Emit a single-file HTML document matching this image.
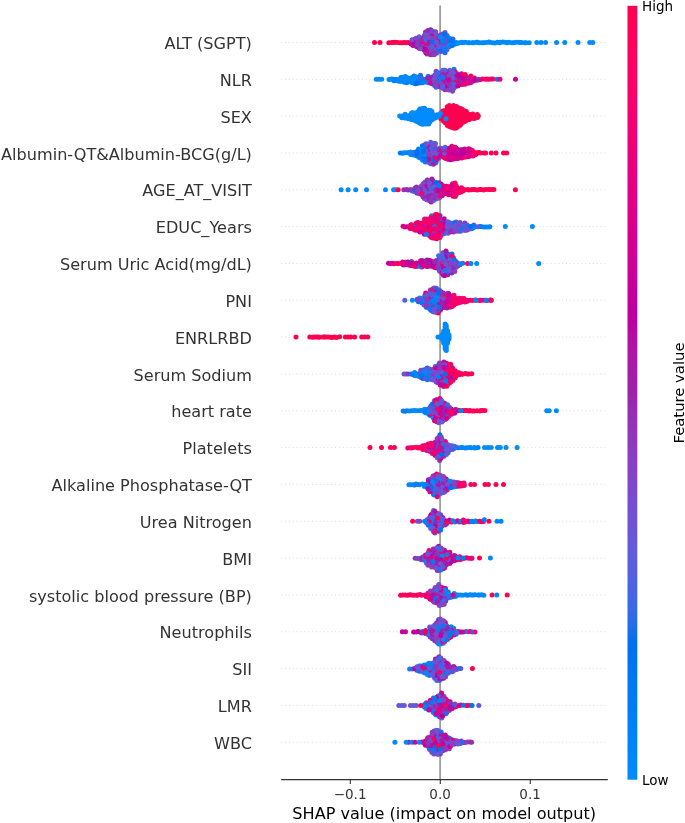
<!DOCTYPE html>
<html><head><meta charset="utf-8"><title>SHAP summary plot</title>
<style>
html,body{margin:0;padding:0;background:#fff}
svg{display:block}
text{font-family:"DejaVu Sans","Liberation Sans",sans-serif}
circle{r:2.5px}
.yl text{font-size:16.1px;fill:#333;text-anchor:end}
.xt text{font-size:13.5px;fill:#333;text-anchor:middle}
.grid line{stroke:#ccc;stroke-width:.7;stroke-dasharray:1 2.848}
</style></head><body>
<svg width="685" height="823" viewBox="0 0 685 823">
<defs><filter id="bl" x="-5%" y="-5%" width="110%" height="110%"><feGaussianBlur stdDeviation="0.35"/></filter><linearGradient id="cb" x1="0" y1="0" x2="0" y2="1"><stop offset="0.000" stop-color="#ff0051"/><stop offset="0.025" stop-color="#ff0057"/><stop offset="0.050" stop-color="#fe005c"/><stop offset="0.075" stop-color="#fc0062"/><stop offset="0.100" stop-color="#f90067"/><stop offset="0.125" stop-color="#f5006d"/><stop offset="0.150" stop-color="#f20072"/><stop offset="0.175" stop-color="#ee0077"/><stop offset="0.200" stop-color="#e9007c"/><stop offset="0.225" stop-color="#e50081"/><stop offset="0.250" stop-color="#e00086"/><stop offset="0.275" stop-color="#db008b"/><stop offset="0.300" stop-color="#d5008f"/><stop offset="0.325" stop-color="#cf0094"/><stop offset="0.350" stop-color="#c90098"/><stop offset="0.375" stop-color="#c2009c"/><stop offset="0.400" stop-color="#bb00a0"/><stop offset="0.425" stop-color="#b40ca4"/><stop offset="0.450" stop-color="#ac16a7"/><stop offset="0.475" stop-color="#a41daa"/><stop offset="0.500" stop-color="#9b23ad"/><stop offset="0.525" stop-color="#962db4"/><stop offset="0.550" stop-color="#9135ba"/><stop offset="0.575" stop-color="#8b3cc0"/><stop offset="0.600" stop-color="#8443c6"/><stop offset="0.625" stop-color="#7d49cc"/><stop offset="0.650" stop-color="#754fd1"/><stop offset="0.675" stop-color="#6d54d6"/><stop offset="0.700" stop-color="#635adb"/><stop offset="0.725" stop-color="#585edf"/><stop offset="0.750" stop-color="#4b63e3"/><stop offset="0.775" stop-color="#3b68e7"/><stop offset="0.800" stop-color="#246cea"/><stop offset="0.825" stop-color="#0070ee"/><stop offset="0.850" stop-color="#0075f0"/><stop offset="0.875" stop-color="#0079f3"/><stop offset="0.900" stop-color="#007cf5"/><stop offset="0.925" stop-color="#0080f7"/><stop offset="0.950" stop-color="#0084f9"/><stop offset="0.975" stop-color="#0087fa"/><stop offset="1.000" stop-color="#008bfb"/></linearGradient></defs>
<rect width="685" height="823" fill="#fff"/>
<g class="grid"><line x1="281.2" x2="607.8" y1="42.50" y2="42.50"/><line x1="281.2" x2="607.8" y1="79.33" y2="79.33"/><line x1="281.2" x2="607.8" y1="116.16" y2="116.16"/><line x1="281.2" x2="607.8" y1="152.99" y2="152.99"/><line x1="281.2" x2="607.8" y1="189.82" y2="189.82"/><line x1="281.2" x2="607.8" y1="226.65" y2="226.65"/><line x1="281.2" x2="607.8" y1="263.48" y2="263.48"/><line x1="281.2" x2="607.8" y1="300.31" y2="300.31"/><line x1="281.2" x2="607.8" y1="337.14" y2="337.14"/><line x1="281.2" x2="607.8" y1="373.97" y2="373.97"/><line x1="281.2" x2="607.8" y1="410.80" y2="410.80"/><line x1="281.2" x2="607.8" y1="447.63" y2="447.63"/><line x1="281.2" x2="607.8" y1="484.46" y2="484.46"/><line x1="281.2" x2="607.8" y1="521.29" y2="521.29"/><line x1="281.2" x2="607.8" y1="558.12" y2="558.12"/><line x1="281.2" x2="607.8" y1="594.95" y2="594.95"/><line x1="281.2" x2="607.8" y1="631.78" y2="631.78"/><line x1="281.2" x2="607.8" y1="668.61" y2="668.61"/><line x1="281.2" x2="607.8" y1="705.44" y2="705.44"/><line x1="281.2" x2="607.8" y1="742.27" y2="742.27"/></g>
<line x1="440.1" x2="440.1" y1="5.6" y2="779.7" stroke="#999" stroke-width="1.7"/>
<g class="dots" filter="url(#bl)">
<circle cx="454.3" cy="42.8" r="2.5" fill="#008bfb"/><circle cx="442.0" cy="45.6" r="2.5" fill="#ff0051"/><circle cx="437.3" cy="39.4" r="2.5" fill="#8b3cc0"/><circle cx="457.3" cy="43.5" r="2.5" fill="#008bfb"/><circle cx="435.6" cy="45.8" r="2.5" fill="#0080f7"/><circle cx="497.4" cy="42.2" r="2.5" fill="#008bfb"/><circle cx="422.7" cy="44.3" r="2.5" fill="#754fd1"/><circle cx="444.4" cy="51.1" r="2.5" fill="#8b3cc0"/><circle cx="417.2" cy="47.0" r="2.5" fill="#c90098"/><circle cx="433.0" cy="37.4" r="2.5" fill="#7d49cc"/><circle cx="444.5" cy="36.0" r="2.5" fill="#0070ee"/><circle cx="448.5" cy="44.0" r="2.5" fill="#0075f0"/><circle cx="450.0" cy="46.3" r="2.5" fill="#0087fa"/><circle cx="426.9" cy="54.0" r="2.5" fill="#8443c6"/><circle cx="444.4" cy="41.0" r="2.5" fill="#7d49cc"/><circle cx="441.6" cy="47.6" r="2.5" fill="#0070ee"/><circle cx="419.4" cy="41.0" r="2.5" fill="#a41daa"/><circle cx="420.3" cy="42.4" r="2.5" fill="#962db4"/><circle cx="441.9" cy="35.8" r="2.5" fill="#0080f7"/><circle cx="437.2" cy="36.3" r="2.5" fill="#0084f9"/><circle cx="391.7" cy="42.5" r="2.5" fill="#ff0051"/><circle cx="445.0" cy="32.5" r="2.5" fill="#6d54d6"/><circle cx="425.8" cy="42.6" r="2.5" fill="#7d49cc"/><circle cx="432.3" cy="39.0" r="2.5" fill="#4b63e3"/><circle cx="515.9" cy="42.3" r="2.5" fill="#008bfb"/><circle cx="444.0" cy="45.9" r="2.5" fill="#4b63e3"/><circle cx="425.5" cy="45.7" r="2.5" fill="#7d49cc"/><circle cx="472.4" cy="42.8" r="2.5" fill="#008bfb"/><circle cx="446.8" cy="42.7" r="2.5" fill="#0084f9"/><circle cx="500.5" cy="42.3" r="2.5" fill="#008bfb"/><circle cx="435.7" cy="31.8" r="2.5" fill="#7d49cc"/><circle cx="436.4" cy="35.0" r="2.5" fill="#c90098"/><circle cx="423.5" cy="37.0" r="2.5" fill="#754fd1"/><circle cx="442.5" cy="34.1" r="2.5" fill="#635adb"/><circle cx="521.4" cy="42.6" r="2.5" fill="#008bfb"/><circle cx="435.7" cy="44.0" r="2.5" fill="#3b68e7"/><circle cx="435.7" cy="38.6" r="2.5" fill="#3b68e7"/><circle cx="434.3" cy="51.3" r="2.5" fill="#bb00a0"/><circle cx="430.0" cy="46.2" r="2.5" fill="#8443c6"/><circle cx="483.6" cy="42.7" r="2.5" fill="#008bfb"/><circle cx="448.5" cy="42.7" r="2.5" fill="#635adb"/><circle cx="419.6" cy="38.6" r="2.5" fill="#8443c6"/><circle cx="505.5" cy="42.3" r="2.5" fill="#008bfb"/><circle cx="447.0" cy="48.0" r="2.5" fill="#4b63e3"/><circle cx="400.1" cy="42.8" r="2.5" fill="#ff0051"/><circle cx="439.8" cy="47.9" r="2.5" fill="#0080f7"/><circle cx="433.7" cy="49.3" r="2.5" fill="#585edf"/><circle cx="414.7" cy="42.8" r="2.5" fill="#db008b"/><circle cx="434.5" cy="42.8" r="2.5" fill="#6d54d6"/><circle cx="438.2" cy="37.9" r="2.5" fill="#0080f7"/><circle cx="428.7" cy="37.2" r="2.5" fill="#754fd1"/><circle cx="465.4" cy="42.3" r="2.5" fill="#008bfb"/><circle cx="420.3" cy="38.3" r="2.5" fill="#8443c6"/><circle cx="445.6" cy="44.5" r="2.5" fill="#0084f9"/><circle cx="453.0" cy="39.0" r="2.5" fill="#4b63e3"/><circle cx="440.2" cy="44.1" r="2.5" fill="#8443c6"/><circle cx="444.9" cy="39.2" r="2.5" fill="#0070ee"/><circle cx="450.1" cy="42.3" r="2.5" fill="#0075f0"/><circle cx="422.7" cy="41.0" r="2.5" fill="#635adb"/><circle cx="444.2" cy="37.7" r="2.5" fill="#3b68e7"/><circle cx="440.7" cy="40.8" r="2.5" fill="#008bfb"/><circle cx="441.4" cy="44.5" r="2.5" fill="#4b63e3"/><circle cx="476.3" cy="42.3" r="2.5" fill="#008bfb"/><circle cx="430.3" cy="54.4" r="2.5" fill="#7d49cc"/><circle cx="426.7" cy="32.8" r="2.5" fill="#cf0094"/><circle cx="439.9" cy="49.5" r="2.5" fill="#0080f7"/><circle cx="406.1" cy="42.8" r="2.5" fill="#ff0051"/><circle cx="518.7" cy="42.3" r="2.5" fill="#008bfb"/><circle cx="448.6" cy="38.9" r="2.5" fill="#4b63e3"/><circle cx="442.1" cy="51.2" r="2.5" fill="#8443c6"/><circle cx="431.9" cy="35.3" r="2.5" fill="#7d49cc"/><circle cx="421.0" cy="44.2" r="2.5" fill="#8b3cc0"/><circle cx="435.0" cy="40.3" r="2.5" fill="#9135ba"/><circle cx="447.1" cy="46.5" r="2.5" fill="#7d49cc"/><circle cx="446.0" cy="36.6" r="2.5" fill="#6d54d6"/><circle cx="511.9" cy="42.7" r="2.5" fill="#008bfb"/><circle cx="425.5" cy="32.1" r="2.5" fill="#962db4"/><circle cx="425.2" cy="37.7" r="2.5" fill="#635adb"/><circle cx="429.7" cy="33.8" r="2.5" fill="#6d54d6"/><circle cx="425.9" cy="52.7" r="2.5" fill="#cf0094"/><circle cx="419.1" cy="36.8" r="2.5" fill="#585edf"/><circle cx="427.4" cy="35.8" r="2.5" fill="#8b3cc0"/><circle cx="430.1" cy="51.1" r="2.5" fill="#8b3cc0"/><circle cx="481.9" cy="42.8" r="2.5" fill="#008bfb"/><circle cx="473.4" cy="42.7" r="2.5" fill="#008bfb"/><circle cx="433.8" cy="44.2" r="2.5" fill="#635adb"/><circle cx="429.2" cy="53.3" r="2.5" fill="#bb00a0"/><circle cx="429.1" cy="32.0" r="2.5" fill="#0079f3"/><circle cx="462.8" cy="42.7" r="2.5" fill="#008bfb"/><circle cx="436.6" cy="53.2" r="2.5" fill="#0080f7"/><circle cx="429.1" cy="41.0" r="2.5" fill="#4b63e3"/><circle cx="433.7" cy="47.8" r="2.5" fill="#ac16a7"/><circle cx="448.6" cy="41.1" r="2.5" fill="#246cea"/><circle cx="433.3" cy="31.6" r="2.5" fill="#7d49cc"/><circle cx="428.1" cy="52.4" r="2.5" fill="#e9007c"/><circle cx="431.4" cy="53.2" r="2.5" fill="#8443c6"/><circle cx="443.6" cy="44.2" r="2.5" fill="#8443c6"/><circle cx="414.5" cy="40.7" r="2.5" fill="#fe005c"/><circle cx="416.2" cy="40.3" r="2.5" fill="#9135ba"/><circle cx="421.7" cy="46.6" r="2.5" fill="#bb00a0"/><circle cx="453.1" cy="43.8" r="2.5" fill="#0075f0"/><circle cx="423.2" cy="42.5" r="2.5" fill="#c90098"/><circle cx="431.4" cy="36.9" r="2.5" fill="#8b3cc0"/><circle cx="430.0" cy="44.4" r="2.5" fill="#ee0077"/><circle cx="429.3" cy="47.7" r="2.5" fill="#4b63e3"/><circle cx="432.3" cy="41.0" r="2.5" fill="#8b3cc0"/><circle cx="426.9" cy="42.7" r="2.5" fill="#9135ba"/><circle cx="499.5" cy="42.8" r="2.5" fill="#008bfb"/><circle cx="423.0" cy="38.9" r="2.5" fill="#e00086"/><circle cx="436.6" cy="36.9" r="2.5" fill="#9135ba"/><circle cx="404.2" cy="42.4" r="2.5" fill="#ff0051"/><circle cx="494.8" cy="42.9" r="2.5" fill="#008bfb"/><circle cx="414.8" cy="39.2" r="2.5" fill="#b40ca4"/><circle cx="489.8" cy="42.2" r="2.5" fill="#008bfb"/><circle cx="509.0" cy="42.2" r="2.5" fill="#008bfb"/><circle cx="425.2" cy="40.7" r="2.5" fill="#a41daa"/><circle cx="402.2" cy="42.7" r="2.5" fill="#ff0051"/><circle cx="426.9" cy="45.5" r="2.5" fill="#3b68e7"/><circle cx="435.2" cy="48.2" r="2.5" fill="#8443c6"/><circle cx="433.2" cy="38.9" r="2.5" fill="#3b68e7"/><circle cx="447.1" cy="35.4" r="2.5" fill="#3b68e7"/><circle cx="429.2" cy="35.5" r="2.5" fill="#8443c6"/><circle cx="479.3" cy="42.7" r="2.5" fill="#008bfb"/><circle cx="388.8" cy="42.7" r="2.5" fill="#ff0051"/><circle cx="437.6" cy="44.3" r="2.5" fill="#6d54d6"/><circle cx="440.0" cy="42.8" r="2.5" fill="#ff0051"/><circle cx="437.2" cy="45.8" r="2.5" fill="#962db4"/><circle cx="436.4" cy="51.8" r="2.5" fill="#635adb"/><circle cx="448.4" cy="47.1" r="2.5" fill="#3b68e7"/><circle cx="428.1" cy="44.2" r="2.5" fill="#ac16a7"/><circle cx="440.6" cy="35.0" r="2.5" fill="#8b3cc0"/><circle cx="433.4" cy="40.8" r="2.5" fill="#8b3cc0"/><circle cx="424.6" cy="35.7" r="2.5" fill="#9135ba"/><circle cx="438.6" cy="50.7" r="2.5" fill="#0079f3"/><circle cx="433.1" cy="46.2" r="2.5" fill="#c2009c"/><circle cx="440.5" cy="51.6" r="2.5" fill="#7d49cc"/><circle cx="454.5" cy="44.3" r="2.5" fill="#0084f9"/><circle cx="429.0" cy="49.6" r="2.5" fill="#246cea"/><circle cx="444.3" cy="42.3" r="2.5" fill="#585edf"/><circle cx="427.2" cy="49.4" r="2.5" fill="#6d54d6"/><circle cx="459.3" cy="42.7" r="2.5" fill="#008bfb"/><circle cx="442.2" cy="49.5" r="2.5" fill="#0070ee"/><circle cx="425.0" cy="34.3" r="2.5" fill="#7d49cc"/><circle cx="442.4" cy="37.1" r="2.5" fill="#4b63e3"/><circle cx="427.0" cy="51.0" r="2.5" fill="#ac16a7"/><circle cx="410.5" cy="42.7" r="2.5" fill="#e9007c"/><circle cx="429.1" cy="38.8" r="2.5" fill="#8b3cc0"/><circle cx="419.5" cy="46.5" r="2.5" fill="#7d49cc"/><circle cx="486.0" cy="42.4" r="2.5" fill="#008bfb"/><circle cx="424.7" cy="39.3" r="2.5" fill="#4b63e3"/><circle cx="430.9" cy="29.7" r="2.5" fill="#007cf5"/><circle cx="424.9" cy="44.3" r="2.5" fill="#f90067"/><circle cx="421.2" cy="40.8" r="2.5" fill="#962db4"/><circle cx="446.6" cy="38.6" r="2.5" fill="#246cea"/><circle cx="449.9" cy="38.5" r="2.5" fill="#007cf5"/><circle cx="446.9" cy="49.7" r="2.5" fill="#585edf"/><circle cx="423.9" cy="49.9" r="2.5" fill="#ac16a7"/><circle cx="422.8" cy="46.3" r="2.5" fill="#8443c6"/><circle cx="436.4" cy="49.5" r="2.5" fill="#635adb"/><circle cx="525.9" cy="42.8" r="2.5" fill="#008bfb"/><circle cx="440.6" cy="39.2" r="2.5" fill="#4b63e3"/><circle cx="468.2" cy="42.7" r="2.5" fill="#008bfb"/><circle cx="445.0" cy="52.7" r="2.5" fill="#246cea"/><circle cx="395.1" cy="42.3" r="2.5" fill="#ff0051"/><circle cx="442.8" cy="42.3" r="2.5" fill="#0075f0"/><circle cx="431.4" cy="51.2" r="2.5" fill="#9135ba"/><circle cx="414.2" cy="45.7" r="2.5" fill="#fc0062"/><circle cx="492.5" cy="42.8" r="2.5" fill="#008bfb"/><circle cx="431.6" cy="44.3" r="2.5" fill="#635adb"/><circle cx="419.3" cy="48.2" r="2.5" fill="#ac16a7"/><circle cx="439.5" cy="45.8" r="2.5" fill="#0080f7"/><circle cx="412.5" cy="42.1" r="2.5" fill="#cf0094"/><circle cx="443.9" cy="47.7" r="2.5" fill="#635adb"/><circle cx="507.1" cy="42.8" r="2.5" fill="#008bfb"/><circle cx="393.3" cy="42.5" r="2.5" fill="#ff0051"/><circle cx="529.2" cy="42.7" r="2.5" fill="#008bfb"/><circle cx="423.9" cy="48.2" r="2.5" fill="#ac16a7"/><circle cx="438.5" cy="48.8" r="2.5" fill="#0070ee"/><circle cx="469.4" cy="42.8" r="2.5" fill="#008bfb"/><circle cx="450.6" cy="44.7" r="2.5" fill="#007cf5"/><circle cx="437.2" cy="42.5" r="2.5" fill="#3b68e7"/><circle cx="413.0" cy="45.5" r="2.5" fill="#a41daa"/><circle cx="438.4" cy="41.2" r="2.5" fill="#e9007c"/><circle cx="442.2" cy="38.9" r="2.5" fill="#0084f9"/><circle cx="427.4" cy="33.8" r="2.5" fill="#6d54d6"/><circle cx="425.4" cy="51.4" r="2.5" fill="#962db4"/><circle cx="431.4" cy="48.2" r="2.5" fill="#7d49cc"/><circle cx="524.6" cy="42.7" r="2.5" fill="#008bfb"/><circle cx="449.2" cy="45.6" r="2.5" fill="#008bfb"/><circle cx="414.5" cy="44.1" r="2.5" fill="#bb00a0"/><circle cx="452.2" cy="45.6" r="2.5" fill="#0070ee"/><circle cx="440.5" cy="36.9" r="2.5" fill="#008bfb"/><circle cx="408.1" cy="42.5" r="2.5" fill="#ff0051"/><circle cx="452.4" cy="42.4" r="2.5" fill="#008bfb"/><circle cx="425.5" cy="47.5" r="2.5" fill="#b40ca4"/><circle cx="427.8" cy="39.5" r="2.5" fill="#635adb"/><circle cx="444.6" cy="33.9" r="2.5" fill="#0070ee"/><circle cx="513.7" cy="42.8" r="2.5" fill="#008bfb"/><circle cx="420.3" cy="48.7" r="2.5" fill="#754fd1"/><circle cx="433.5" cy="35.7" r="2.5" fill="#8b3cc0"/><circle cx="427.8" cy="30.5" r="2.5" fill="#962db4"/><circle cx="419.7" cy="42.2" r="2.5" fill="#962db4"/><circle cx="426.8" cy="40.5" r="2.5" fill="#635adb"/><circle cx="426.6" cy="47.9" r="2.5" fill="#7d49cc"/><circle cx="502.9" cy="42.1" r="2.5" fill="#008bfb"/><circle cx="430.9" cy="54.8" r="2.5" fill="#962db4"/><circle cx="434.4" cy="53.2" r="2.5" fill="#962db4"/><circle cx="416.1" cy="38.2" r="2.5" fill="#7d49cc"/><circle cx="488.9" cy="42.1" r="2.5" fill="#008bfb"/><circle cx="451.3" cy="40.5" r="2.5" fill="#0070ee"/><circle cx="397.5" cy="42.5" r="2.5" fill="#ff0051"/><circle cx="456.4" cy="42.5" r="2.5" fill="#008bfb"/><circle cx="452.6" cy="41.1" r="2.5" fill="#0079f3"/><circle cx="431.2" cy="49.7" r="2.5" fill="#8443c6"/><circle cx="430.1" cy="30.1" r="2.5" fill="#9b23ad"/><circle cx="429.0" cy="42.5" r="2.5" fill="#a41daa"/><circle cx="432.4" cy="42.3" r="2.5" fill="#0070ee"/><circle cx="431.9" cy="33.6" r="2.5" fill="#9b23ad"/><circle cx="433.4" cy="33.2" r="2.5" fill="#cf0094"/><circle cx="444.1" cy="48.9" r="2.5" fill="#0080f7"/><circle cx="438.5" cy="46.9" r="2.5" fill="#754fd1"/><circle cx="431.4" cy="31.5" r="2.5" fill="#8443c6"/><circle cx="428.0" cy="37.8" r="2.5" fill="#754fd1"/><circle cx="445.6" cy="41.0" r="2.5" fill="#8443c6"/><circle cx="410.9" cy="43.9" r="2.5" fill="#b40ca4"/><circle cx="435.8" cy="33.4" r="2.5" fill="#6d54d6"/><circle cx="425.4" cy="49.3" r="2.5" fill="#c2009c"/><circle cx="432.3" cy="46.4" r="2.5" fill="#635adb"/><circle cx="519.9" cy="42.6" r="2.5" fill="#008bfb"/><circle cx="461.8" cy="42.3" r="2.5" fill="#008bfb"/><circle cx="419.2" cy="44.0" r="2.5" fill="#a41daa"/><circle cx="412.0" cy="39.7" r="2.5" fill="#6d54d6"/><circle cx="436.5" cy="42.2" r="2.5" fill="#635adb"/><circle cx="434.1" cy="54.8" r="2.5" fill="#8b3cc0"/><circle cx="477.5" cy="42.3" r="2.5" fill="#008bfb"/><circle cx="417.2" cy="44.3" r="2.5" fill="#3b68e7"/><circle cx="417.4" cy="42.9" r="2.5" fill="#9135ba"/><circle cx="442.7" cy="40.7" r="2.5" fill="#0080f7"/><circle cx="374.5" cy="42.5" r="2.5" fill="#ff0051"/><circle cx="380.0" cy="42.5" r="2.5" fill="#ff0051"/><circle cx="536.8" cy="42.5" r="2.5" fill="#008bfb"/><circle cx="541.0" cy="42.5" r="2.5" fill="#008bfb"/><circle cx="545.6" cy="42.5" r="2.5" fill="#008bfb"/><circle cx="556.6" cy="42.5" r="2.5" fill="#008bfb"/><circle cx="564.8" cy="42.5" r="2.5" fill="#008bfb"/><circle cx="578.0" cy="42.5" r="2.5" fill="#008bfb"/><circle cx="589.8" cy="42.5" r="2.5" fill="#008bfb"/><circle cx="592.8" cy="42.5" r="2.5" fill="#008bfb"/>
<circle cx="446.7" cy="77.6" r="2.5" fill="#7d49cc"/><circle cx="400.9" cy="77.5" r="2.5" fill="#0087fa"/><circle cx="460.2" cy="83.4" r="2.5" fill="#ff0057"/><circle cx="454.7" cy="78.9" r="2.5" fill="#3b68e7"/><circle cx="442.2" cy="72.0" r="2.5" fill="#635adb"/><circle cx="451.6" cy="84.3" r="2.5" fill="#bb00a0"/><circle cx="465.5" cy="81.3" r="2.5" fill="#f20072"/><circle cx="396.4" cy="79.4" r="2.5" fill="#007cf5"/><circle cx="475.5" cy="79.4" r="2.5" fill="#ac16a7"/><circle cx="437.9" cy="77.8" r="2.5" fill="#9135ba"/><circle cx="479.9" cy="79.7" r="2.5" fill="#bb00a0"/><circle cx="445.1" cy="84.3" r="2.5" fill="#754fd1"/><circle cx="445.2" cy="83.2" r="2.5" fill="#754fd1"/><circle cx="469.6" cy="79.7" r="2.5" fill="#c2009c"/><circle cx="413.3" cy="82.9" r="2.5" fill="#008bfb"/><circle cx="454.0" cy="69.3" r="2.5" fill="#0080f7"/><circle cx="422.2" cy="81.2" r="2.5" fill="#0080f7"/><circle cx="453.0" cy="76.4" r="2.5" fill="#0080f7"/><circle cx="403.2" cy="79.5" r="2.5" fill="#008bfb"/><circle cx="449.8" cy="83.0" r="2.5" fill="#754fd1"/><circle cx="455.6" cy="83.5" r="2.5" fill="#e50081"/><circle cx="440.5" cy="86.9" r="2.5" fill="#ac16a7"/><circle cx="425.7" cy="79.3" r="2.5" fill="#0079f3"/><circle cx="451.1" cy="77.6" r="2.5" fill="#6d54d6"/><circle cx="487.0" cy="79.0" r="2.5" fill="#e9007c"/><circle cx="457.8" cy="74.1" r="2.5" fill="#8b3cc0"/><circle cx="414.9" cy="79.4" r="2.5" fill="#007cf5"/><circle cx="434.7" cy="75.1" r="2.5" fill="#0075f0"/><circle cx="428.1" cy="80.7" r="2.5" fill="#007cf5"/><circle cx="491.0" cy="79.1" r="2.5" fill="#f20072"/><circle cx="465.8" cy="77.6" r="2.5" fill="#e50081"/><circle cx="440.6" cy="81.7" r="2.5" fill="#cf0094"/><circle cx="465.0" cy="84.2" r="2.5" fill="#e50081"/><circle cx="406.7" cy="82.7" r="2.5" fill="#0084f9"/><circle cx="455.3" cy="75.1" r="2.5" fill="#ff0051"/><circle cx="447.4" cy="80.9" r="2.5" fill="#9135ba"/><circle cx="457.4" cy="77.8" r="2.5" fill="#bb00a0"/><circle cx="450.4" cy="89.3" r="2.5" fill="#962db4"/><circle cx="444.7" cy="80.9" r="2.5" fill="#0075f0"/><circle cx="440.9" cy="84.9" r="2.5" fill="#962db4"/><circle cx="396.7" cy="80.5" r="2.5" fill="#0084f9"/><circle cx="445.2" cy="86.8" r="2.5" fill="#8b3cc0"/><circle cx="406.8" cy="80.6" r="2.5" fill="#0087fa"/><circle cx="452.7" cy="79.6" r="2.5" fill="#0075f0"/><circle cx="440.6" cy="73.4" r="2.5" fill="#0070ee"/><circle cx="451.0" cy="82.3" r="2.5" fill="#007cf5"/><circle cx="452.7" cy="74.7" r="2.5" fill="#8443c6"/><circle cx="436.3" cy="79.0" r="2.5" fill="#585edf"/><circle cx="438.7" cy="78.9" r="2.5" fill="#8b3cc0"/><circle cx="455.9" cy="85.2" r="2.5" fill="#007cf5"/><circle cx="447.6" cy="72.6" r="2.5" fill="#9135ba"/><circle cx="453.7" cy="88.0" r="2.5" fill="#8b3cc0"/><circle cx="389.0" cy="79.5" r="2.5" fill="#0087fa"/><circle cx="460.9" cy="77.3" r="2.5" fill="#ff0051"/><circle cx="412.0" cy="79.2" r="2.5" fill="#0080f7"/><circle cx="459.0" cy="85.1" r="2.5" fill="#fc0062"/><circle cx="405.3" cy="76.4" r="2.5" fill="#0084f9"/><circle cx="468.0" cy="83.2" r="2.5" fill="#e9007c"/><circle cx="449.5" cy="88.7" r="2.5" fill="#9b23ad"/><circle cx="452.5" cy="71.2" r="2.5" fill="#7d49cc"/><circle cx="440.7" cy="75.2" r="2.5" fill="#007cf5"/><circle cx="438.7" cy="84.5" r="2.5" fill="#4b63e3"/><circle cx="446.7" cy="84.1" r="2.5" fill="#6d54d6"/><circle cx="424.3" cy="79.7" r="2.5" fill="#0084f9"/><circle cx="425.7" cy="81.9" r="2.5" fill="#007cf5"/><circle cx="465.1" cy="82.4" r="2.5" fill="#e9007c"/><circle cx="451.0" cy="86.0" r="2.5" fill="#8443c6"/><circle cx="452.5" cy="80.9" r="2.5" fill="#c2009c"/><circle cx="463.9" cy="82.2" r="2.5" fill="#962db4"/><circle cx="442.9" cy="82.4" r="2.5" fill="#c2009c"/><circle cx="457.3" cy="79.0" r="2.5" fill="#7d49cc"/><circle cx="442.7" cy="79.2" r="2.5" fill="#f5006d"/><circle cx="442.3" cy="75.8" r="2.5" fill="#7d49cc"/><circle cx="471.6" cy="79.4" r="2.5" fill="#f90067"/><circle cx="434.5" cy="85.4" r="2.5" fill="#754fd1"/><circle cx="450.8" cy="75.7" r="2.5" fill="#6d54d6"/><circle cx="448.5" cy="71.8" r="2.5" fill="#9b23ad"/><circle cx="428.2" cy="76.3" r="2.5" fill="#008bfb"/><circle cx="444.5" cy="88.4" r="2.5" fill="#0079f3"/><circle cx="457.2" cy="80.8" r="2.5" fill="#ac16a7"/><circle cx="430.6" cy="81.0" r="2.5" fill="#0070ee"/><circle cx="473.5" cy="81.0" r="2.5" fill="#bb00a0"/><circle cx="461.3" cy="83.3" r="2.5" fill="#ff0057"/><circle cx="436.7" cy="73.6" r="2.5" fill="#a41daa"/><circle cx="432.3" cy="77.0" r="2.5" fill="#635adb"/><circle cx="405.3" cy="79.4" r="2.5" fill="#0080f7"/><circle cx="447.5" cy="79.5" r="2.5" fill="#8b3cc0"/><circle cx="471.4" cy="81.7" r="2.5" fill="#db008b"/><circle cx="470.7" cy="82.7" r="2.5" fill="#a41daa"/><circle cx="436.2" cy="83.3" r="2.5" fill="#8b3cc0"/><circle cx="454.0" cy="82.6" r="2.5" fill="#7d49cc"/><circle cx="467.3" cy="81.0" r="2.5" fill="#e9007c"/><circle cx="431.7" cy="81.2" r="2.5" fill="#3b68e7"/><circle cx="457.8" cy="84.3" r="2.5" fill="#e50081"/><circle cx="411.2" cy="77.7" r="2.5" fill="#0080f7"/><circle cx="461.6" cy="73.7" r="2.5" fill="#e00086"/><circle cx="442.5" cy="88.2" r="2.5" fill="#585edf"/><circle cx="394.1" cy="79.4" r="2.5" fill="#0080f7"/><circle cx="437.1" cy="77.7" r="2.5" fill="#ac16a7"/><circle cx="444.9" cy="79.0" r="2.5" fill="#6d54d6"/><circle cx="418.1" cy="77.7" r="2.5" fill="#008bfb"/><circle cx="485.3" cy="79.3" r="2.5" fill="#f90067"/><circle cx="406.7" cy="79.3" r="2.5" fill="#008bfb"/><circle cx="404.5" cy="82.3" r="2.5" fill="#0079f3"/><circle cx="438.7" cy="73.8" r="2.5" fill="#6d54d6"/><circle cx="442.2" cy="74.0" r="2.5" fill="#962db4"/><circle cx="446.9" cy="74.7" r="2.5" fill="#fc0062"/><circle cx="413.4" cy="77.2" r="2.5" fill="#0087fa"/><circle cx="398.1" cy="80.9" r="2.5" fill="#0084f9"/><circle cx="457.1" cy="82.8" r="2.5" fill="#3b68e7"/><circle cx="392.0" cy="78.9" r="2.5" fill="#0080f7"/><circle cx="421.2" cy="77.7" r="2.5" fill="#0080f7"/><circle cx="422.5" cy="79.0" r="2.5" fill="#246cea"/><circle cx="446.4" cy="87.9" r="2.5" fill="#8443c6"/><circle cx="455.3" cy="81.2" r="2.5" fill="#f90067"/><circle cx="474.5" cy="79.7" r="2.5" fill="#cf0094"/><circle cx="394.0" cy="80.8" r="2.5" fill="#0080f7"/><circle cx="451.5" cy="80.6" r="2.5" fill="#9135ba"/><circle cx="445.5" cy="77.4" r="2.5" fill="#bb00a0"/><circle cx="444.3" cy="75.8" r="2.5" fill="#ac16a7"/><circle cx="409.5" cy="81.6" r="2.5" fill="#0084f9"/><circle cx="459.4" cy="79.3" r="2.5" fill="#ff0051"/><circle cx="453.6" cy="86.2" r="2.5" fill="#6d54d6"/><circle cx="441.3" cy="77.2" r="2.5" fill="#6d54d6"/><circle cx="455.0" cy="77.5" r="2.5" fill="#8b3cc0"/><circle cx="438.8" cy="83.2" r="2.5" fill="#754fd1"/><circle cx="438.4" cy="75.6" r="2.5" fill="#0070ee"/><circle cx="463.2" cy="79.4" r="2.5" fill="#f20072"/><circle cx="463.3" cy="76.0" r="2.5" fill="#f90067"/><circle cx="457.0" cy="76.1" r="2.5" fill="#ac16a7"/><circle cx="418.2" cy="81.5" r="2.5" fill="#007cf5"/><circle cx="432.4" cy="79.6" r="2.5" fill="#0075f0"/><circle cx="413.9" cy="75.9" r="2.5" fill="#0080f7"/><circle cx="450.9" cy="87.3" r="2.5" fill="#962db4"/><circle cx="450.8" cy="71.5" r="2.5" fill="#6d54d6"/><circle cx="391.0" cy="79.3" r="2.5" fill="#008bfb"/><circle cx="447.0" cy="89.2" r="2.5" fill="#9b23ad"/><circle cx="415.5" cy="83.7" r="2.5" fill="#0075f0"/><circle cx="450.9" cy="79.2" r="2.5" fill="#0070ee"/><circle cx="466.3" cy="79.3" r="2.5" fill="#e9007c"/><circle cx="453.0" cy="89.4" r="2.5" fill="#0079f3"/><circle cx="449.7" cy="77.7" r="2.5" fill="#a41daa"/><circle cx="459.1" cy="77.4" r="2.5" fill="#ff0057"/><circle cx="453.9" cy="84.4" r="2.5" fill="#4b63e3"/><circle cx="434.7" cy="83.2" r="2.5" fill="#754fd1"/><circle cx="449.7" cy="70.2" r="2.5" fill="#635adb"/><circle cx="448.4" cy="80.9" r="2.5" fill="#635adb"/><circle cx="455.2" cy="71.9" r="2.5" fill="#e00086"/><circle cx="435.9" cy="75.0" r="2.5" fill="#585edf"/><circle cx="419.9" cy="83.0" r="2.5" fill="#246cea"/><circle cx="442.9" cy="70.3" r="2.5" fill="#4b63e3"/><circle cx="451.8" cy="74.0" r="2.5" fill="#4b63e3"/><circle cx="418.1" cy="79.5" r="2.5" fill="#0080f7"/><circle cx="488.7" cy="79.2" r="2.5" fill="#f5006d"/><circle cx="440.0" cy="79.5" r="2.5" fill="#3b68e7"/><circle cx="431.8" cy="83.8" r="2.5" fill="#0070ee"/><circle cx="454.7" cy="87.3" r="2.5" fill="#754fd1"/><circle cx="442.0" cy="84.8" r="2.5" fill="#4b63e3"/><circle cx="427.4" cy="79.7" r="2.5" fill="#7d49cc"/><circle cx="461.8" cy="81.1" r="2.5" fill="#0084f9"/><circle cx="438.9" cy="86.6" r="2.5" fill="#a41daa"/><circle cx="419.1" cy="79.2" r="2.5" fill="#008bfb"/><circle cx="449.7" cy="86.8" r="2.5" fill="#585edf"/><circle cx="413.3" cy="81.0" r="2.5" fill="#008bfb"/><circle cx="470.1" cy="77.5" r="2.5" fill="#f20072"/><circle cx="436.2" cy="80.9" r="2.5" fill="#4b63e3"/><circle cx="448.7" cy="73.8" r="2.5" fill="#962db4"/><circle cx="452.6" cy="77.6" r="2.5" fill="#585edf"/><circle cx="400.1" cy="79.7" r="2.5" fill="#007cf5"/><circle cx="444.9" cy="89.7" r="2.5" fill="#9135ba"/><circle cx="408.5" cy="79.0" r="2.5" fill="#008bfb"/><circle cx="410.9" cy="80.7" r="2.5" fill="#008bfb"/><circle cx="450.9" cy="72.4" r="2.5" fill="#6d54d6"/><circle cx="428.4" cy="82.8" r="2.5" fill="#007cf5"/><circle cx="402.4" cy="77.3" r="2.5" fill="#0087fa"/><circle cx="474.4" cy="78.1" r="2.5" fill="#bb00a0"/><circle cx="438.0" cy="81.4" r="2.5" fill="#0079f3"/><circle cx="462.3" cy="84.6" r="2.5" fill="#db008b"/><circle cx="447.5" cy="85.9" r="2.5" fill="#c2009c"/><circle cx="444.6" cy="73.6" r="2.5" fill="#8b3cc0"/><circle cx="461.1" cy="75.9" r="2.5" fill="#f90067"/><circle cx="455.9" cy="73.9" r="2.5" fill="#b40ca4"/><circle cx="403.6" cy="81.6" r="2.5" fill="#008bfb"/><circle cx="419.3" cy="77.5" r="2.5" fill="#635adb"/><circle cx="414.8" cy="81.8" r="2.5" fill="#007cf5"/><circle cx="469.5" cy="80.9" r="2.5" fill="#ee0077"/><circle cx="424.0" cy="81.6" r="2.5" fill="#007cf5"/><circle cx="446.2" cy="71.2" r="2.5" fill="#ac16a7"/><circle cx="492.9" cy="78.9" r="2.5" fill="#ff0057"/><circle cx="411.7" cy="82.6" r="2.5" fill="#0087fa"/><circle cx="464.3" cy="80.5" r="2.5" fill="#cf0094"/><circle cx="453.3" cy="72.6" r="2.5" fill="#6d54d6"/><circle cx="452.5" cy="91.2" r="2.5" fill="#8443c6"/><circle cx="434.9" cy="77.3" r="2.5" fill="#7d49cc"/><circle cx="436.1" cy="71.3" r="2.5" fill="#8443c6"/><circle cx="447.7" cy="76.2" r="2.5" fill="#d5008f"/><circle cx="416.1" cy="76.8" r="2.5" fill="#008bfb"/><circle cx="420.5" cy="75.2" r="2.5" fill="#246cea"/><circle cx="436.1" cy="87.3" r="2.5" fill="#3b68e7"/><circle cx="449.5" cy="84.7" r="2.5" fill="#9135ba"/><circle cx="430.4" cy="79.6" r="2.5" fill="#9135ba"/><circle cx="444.6" cy="72.3" r="2.5" fill="#ac16a7"/><circle cx="446.7" cy="82.5" r="2.5" fill="#962db4"/><circle cx="465.8" cy="76.4" r="2.5" fill="#e00086"/><circle cx="461.0" cy="79.4" r="2.5" fill="#ac16a7"/><circle cx="449.0" cy="76.0" r="2.5" fill="#7d49cc"/><circle cx="459.0" cy="81.3" r="2.5" fill="#a41daa"/><circle cx="438.0" cy="72.5" r="2.5" fill="#4b63e3"/><circle cx="448.7" cy="79.7" r="2.5" fill="#cf0094"/><circle cx="443.5" cy="80.9" r="2.5" fill="#a41daa"/><circle cx="467.4" cy="77.7" r="2.5" fill="#cf0094"/><circle cx="470.8" cy="76.0" r="2.5" fill="#fe005c"/><circle cx="431.0" cy="77.3" r="2.5" fill="#9b23ad"/><circle cx="467.8" cy="79.0" r="2.5" fill="#a41daa"/><circle cx="435.8" cy="85.6" r="2.5" fill="#8443c6"/><circle cx="406.9" cy="77.6" r="2.5" fill="#008bfb"/><circle cx="445.0" cy="70.2" r="2.5" fill="#635adb"/><circle cx="422.5" cy="82.7" r="2.5" fill="#007cf5"/><circle cx="476.9" cy="80.2" r="2.5" fill="#c2009c"/><circle cx="465.1" cy="74.6" r="2.5" fill="#ff0051"/><circle cx="482.5" cy="79.0" r="2.5" fill="#f90067"/><circle cx="434.3" cy="79.2" r="2.5" fill="#635adb"/><circle cx="457.8" cy="85.9" r="2.5" fill="#c2009c"/><circle cx="416.8" cy="83.5" r="2.5" fill="#0070ee"/><circle cx="458.9" cy="75.7" r="2.5" fill="#bb00a0"/><circle cx="400.3" cy="81.6" r="2.5" fill="#008bfb"/><circle cx="430.5" cy="83.1" r="2.5" fill="#db008b"/><circle cx="443.3" cy="77.8" r="2.5" fill="#246cea"/><circle cx="420.3" cy="81.5" r="2.5" fill="#007cf5"/><circle cx="434.6" cy="81.6" r="2.5" fill="#8443c6"/><circle cx="464.4" cy="83.6" r="2.5" fill="#ee0077"/><circle cx="463.2" cy="77.8" r="2.5" fill="#c2009c"/><circle cx="449.0" cy="90.1" r="2.5" fill="#8443c6"/><circle cx="478.2" cy="79.5" r="2.5" fill="#9b23ad"/><circle cx="442.6" cy="86.7" r="2.5" fill="#635adb"/><circle cx="399.1" cy="79.4" r="2.5" fill="#008bfb"/><circle cx="440.8" cy="83.1" r="2.5" fill="#8443c6"/><circle cx="413.5" cy="79.2" r="2.5" fill="#008bfb"/><circle cx="427.7" cy="77.9" r="2.5" fill="#a41daa"/><circle cx="376.3" cy="79.3" r="2.5" fill="#008bfb"/><circle cx="379.0" cy="79.3" r="2.5" fill="#008bfb"/><circle cx="381.7" cy="79.3" r="2.5" fill="#008bfb"/><circle cx="497.0" cy="79.3" r="2.5" fill="#007cf5"/><circle cx="500.0" cy="79.3" r="2.5" fill="#e9007c"/><circle cx="515.5" cy="79.3" r="2.5" fill="#c2009c"/>
<circle cx="431.8" cy="111.6" r="2.5" fill="#ff0051"/><circle cx="457.6" cy="118.1" r="2.5" fill="#ff0051"/><circle cx="468.4" cy="118.2" r="2.5" fill="#ff0051"/><circle cx="425.8" cy="110.1" r="2.5" fill="#008bfb"/><circle cx="441.0" cy="113.5" r="2.5" fill="#ff0051"/><circle cx="452.0" cy="114.0" r="2.5" fill="#ff0051"/><circle cx="426.3" cy="124.1" r="2.5" fill="#008bfb"/><circle cx="455.9" cy="112.6" r="2.5" fill="#ff0051"/><circle cx="447.2" cy="106.7" r="2.5" fill="#ff0051"/><circle cx="430.6" cy="115.9" r="2.5" fill="#008bfb"/><circle cx="421.0" cy="113.2" r="2.5" fill="#008bfb"/><circle cx="449.5" cy="111.3" r="2.5" fill="#ff0051"/><circle cx="408.9" cy="118.7" r="2.5" fill="#008bfb"/><circle cx="442.6" cy="114.2" r="2.5" fill="#ff0051"/><circle cx="452.2" cy="117.7" r="2.5" fill="#ff0051"/><circle cx="454.2" cy="111.0" r="2.5" fill="#ff0051"/><circle cx="457.8" cy="112.8" r="2.5" fill="#ff0051"/><circle cx="435.8" cy="117.8" r="2.5" fill="#008bfb"/><circle cx="447.6" cy="114.2" r="2.5" fill="#ff0051"/><circle cx="452.9" cy="113.0" r="2.5" fill="#ff0051"/><circle cx="445.7" cy="116.2" r="2.5" fill="#ff0051"/><circle cx="445.8" cy="121.7" r="2.5" fill="#ff0051"/><circle cx="428.3" cy="117.7" r="2.5" fill="#008bfb"/><circle cx="453.5" cy="105.6" r="2.5" fill="#ff0051"/><circle cx="447.2" cy="111.0" r="2.5" fill="#ff0051"/><circle cx="454.2" cy="116.2" r="2.5" fill="#ff0051"/><circle cx="408.9" cy="115.8" r="2.5" fill="#008bfb"/><circle cx="448.1" cy="123.6" r="2.5" fill="#ff0051"/><circle cx="462.1" cy="121.9" r="2.5" fill="#ff0051"/><circle cx="443.1" cy="113.1" r="2.5" fill="#ff0051"/><circle cx="412.8" cy="119.8" r="2.5" fill="#008bfb"/><circle cx="415.6" cy="121.0" r="2.5" fill="#008bfb"/><circle cx="444.5" cy="110.8" r="2.5" fill="#ff0051"/><circle cx="458.3" cy="123.1" r="2.5" fill="#ff0051"/><circle cx="423.4" cy="114.5" r="2.5" fill="#008bfb"/><circle cx="440.8" cy="118.7" r="2.5" fill="#ff0051"/><circle cx="456.4" cy="124.6" r="2.5" fill="#ff0051"/><circle cx="456.0" cy="107.5" r="2.5" fill="#ff0051"/><circle cx="425.3" cy="115.8" r="2.5" fill="#008bfb"/><circle cx="455.4" cy="116.3" r="2.5" fill="#ff0051"/><circle cx="418.8" cy="110.7" r="2.5" fill="#008bfb"/><circle cx="417.6" cy="112.3" r="2.5" fill="#008bfb"/><circle cx="449.1" cy="123.5" r="2.5" fill="#ff0051"/><circle cx="450.1" cy="112.9" r="2.5" fill="#ff0051"/><circle cx="462.8" cy="114.8" r="2.5" fill="#ff0051"/><circle cx="454.4" cy="125.0" r="2.5" fill="#ff0051"/><circle cx="451.3" cy="116.2" r="2.5" fill="#ff0051"/><circle cx="426.1" cy="122.2" r="2.5" fill="#008bfb"/><circle cx="458.3" cy="119.5" r="2.5" fill="#ff0051"/><circle cx="425.3" cy="118.1" r="2.5" fill="#008bfb"/><circle cx="464.5" cy="112.3" r="2.5" fill="#ff0051"/><circle cx="458.1" cy="121.5" r="2.5" fill="#ff0051"/><circle cx="449.0" cy="109.3" r="2.5" fill="#ff0051"/><circle cx="421.5" cy="122.8" r="2.5" fill="#008bfb"/><circle cx="417.7" cy="118.2" r="2.5" fill="#008bfb"/><circle cx="460.2" cy="125.3" r="2.5" fill="#ff0051"/><circle cx="437.1" cy="114.7" r="2.5" fill="#008bfb"/><circle cx="451.9" cy="110.8" r="2.5" fill="#ff0051"/><circle cx="449.3" cy="126.4" r="2.5" fill="#ff0051"/><circle cx="474.7" cy="116.5" r="2.5" fill="#ff0051"/><circle cx="416.9" cy="116.3" r="2.5" fill="#008bfb"/><circle cx="416.0" cy="116.5" r="2.5" fill="#008bfb"/><circle cx="410.8" cy="114.6" r="2.5" fill="#008bfb"/><circle cx="448.9" cy="124.8" r="2.5" fill="#ff0051"/><circle cx="456.1" cy="118.1" r="2.5" fill="#ff0051"/><circle cx="412.5" cy="112.8" r="2.5" fill="#008bfb"/><circle cx="428.2" cy="120.1" r="2.5" fill="#008bfb"/><circle cx="464.6" cy="116.3" r="2.5" fill="#ff0051"/><circle cx="427.9" cy="121.9" r="2.5" fill="#008bfb"/><circle cx="421.4" cy="109.7" r="2.5" fill="#008bfb"/><circle cx="453.5" cy="119.5" r="2.5" fill="#ff0051"/><circle cx="454.1" cy="107.9" r="2.5" fill="#ff0051"/><circle cx="423.8" cy="109.8" r="2.5" fill="#008bfb"/><circle cx="452.3" cy="123.9" r="2.5" fill="#ff0051"/><circle cx="442.9" cy="118.2" r="2.5" fill="#ff0051"/><circle cx="423.5" cy="118.1" r="2.5" fill="#008bfb"/><circle cx="461.6" cy="118.0" r="2.5" fill="#ff0051"/><circle cx="428.6" cy="124.0" r="2.5" fill="#008bfb"/><circle cx="430.0" cy="121.7" r="2.5" fill="#008bfb"/><circle cx="466.0" cy="118.9" r="2.5" fill="#ff0051"/><circle cx="456.5" cy="119.6" r="2.5" fill="#ff0051"/><circle cx="446.0" cy="119.9" r="2.5" fill="#ff0051"/><circle cx="402.3" cy="116.0" r="2.5" fill="#008bfb"/><circle cx="452.9" cy="114.6" r="2.5" fill="#ff0051"/><circle cx="407.2" cy="118.3" r="2.5" fill="#008bfb"/><circle cx="466.4" cy="111.5" r="2.5" fill="#ff0051"/><circle cx="432.2" cy="119.8" r="2.5" fill="#008bfb"/><circle cx="460.1" cy="123.3" r="2.5" fill="#ff0051"/><circle cx="461.2" cy="116.2" r="2.5" fill="#ff0051"/><circle cx="415.5" cy="114.6" r="2.5" fill="#008bfb"/><circle cx="422.0" cy="121.2" r="2.5" fill="#008bfb"/><circle cx="420.3" cy="118.1" r="2.5" fill="#008bfb"/><circle cx="417.2" cy="120.1" r="2.5" fill="#008bfb"/><circle cx="463.9" cy="121.9" r="2.5" fill="#ff0051"/><circle cx="432.2" cy="116.3" r="2.5" fill="#008bfb"/><circle cx="449.2" cy="105.4" r="2.5" fill="#ff0051"/><circle cx="422.2" cy="108.4" r="2.5" fill="#008bfb"/><circle cx="426.3" cy="114.5" r="2.5" fill="#008bfb"/><circle cx="469.7" cy="114.4" r="2.5" fill="#ff0051"/><circle cx="457.1" cy="114.1" r="2.5" fill="#ff0051"/><circle cx="453.7" cy="123.5" r="2.5" fill="#ff0051"/><circle cx="451.9" cy="127.5" r="2.5" fill="#ff0051"/><circle cx="470.2" cy="116.1" r="2.5" fill="#ff0051"/><circle cx="460.3" cy="108.6" r="2.5" fill="#ff0051"/><circle cx="442.7" cy="111.0" r="2.5" fill="#ff0051"/><circle cx="423.0" cy="124.3" r="2.5" fill="#008bfb"/><circle cx="424.3" cy="111.1" r="2.5" fill="#008bfb"/><circle cx="399.7" cy="116.0" r="2.5" fill="#008bfb"/><circle cx="419.9" cy="112.7" r="2.5" fill="#008bfb"/><circle cx="457.4" cy="116.4" r="2.5" fill="#ff0051"/><circle cx="447.2" cy="120.0" r="2.5" fill="#ff0051"/><circle cx="441.0" cy="116.0" r="2.5" fill="#ff0051"/><circle cx="466.9" cy="116.2" r="2.5" fill="#ff0051"/><circle cx="414.8" cy="119.0" r="2.5" fill="#008bfb"/><circle cx="421.3" cy="117.6" r="2.5" fill="#008bfb"/><circle cx="457.5" cy="127.0" r="2.5" fill="#ff0051"/><circle cx="450.0" cy="119.4" r="2.5" fill="#ff0051"/><circle cx="468.2" cy="114.5" r="2.5" fill="#ff0051"/><circle cx="452.3" cy="122.0" r="2.5" fill="#ff0051"/><circle cx="444.8" cy="117.9" r="2.5" fill="#ff0051"/><circle cx="434.3" cy="118.2" r="2.5" fill="#008bfb"/><circle cx="445.9" cy="114.2" r="2.5" fill="#ff0051"/><circle cx="417.8" cy="114.4" r="2.5" fill="#008bfb"/><circle cx="452.2" cy="112.1" r="2.5" fill="#ff0051"/><circle cx="434.1" cy="116.4" r="2.5" fill="#008bfb"/><circle cx="424.5" cy="121.1" r="2.5" fill="#008bfb"/><circle cx="411.2" cy="116.6" r="2.5" fill="#008bfb"/><circle cx="455.8" cy="122.9" r="2.5" fill="#ff0051"/><circle cx="451.2" cy="107.0" r="2.5" fill="#ff0051"/><circle cx="410.9" cy="119.2" r="2.5" fill="#008bfb"/><circle cx="411.8" cy="113.1" r="2.5" fill="#008bfb"/><circle cx="463.9" cy="118.0" r="2.5" fill="#ff0051"/><circle cx="473.2" cy="118.3" r="2.5" fill="#ff0051"/><circle cx="443.5" cy="121.3" r="2.5" fill="#ff0051"/><circle cx="459.8" cy="121.4" r="2.5" fill="#ff0051"/><circle cx="414.7" cy="113.1" r="2.5" fill="#008bfb"/><circle cx="449.7" cy="107.6" r="2.5" fill="#ff0051"/><circle cx="447.9" cy="121.3" r="2.5" fill="#ff0051"/><circle cx="450.2" cy="121.2" r="2.5" fill="#ff0051"/><circle cx="459.3" cy="114.6" r="2.5" fill="#ff0051"/><circle cx="426.0" cy="119.8" r="2.5" fill="#008bfb"/><circle cx="457.6" cy="107.5" r="2.5" fill="#ff0051"/><circle cx="454.0" cy="109.6" r="2.5" fill="#ff0051"/><circle cx="419.7" cy="121.5" r="2.5" fill="#008bfb"/><circle cx="478.3" cy="116.1" r="2.5" fill="#ff0051"/><circle cx="463.9" cy="114.6" r="2.5" fill="#ff0051"/><circle cx="453.4" cy="118.1" r="2.5" fill="#ff0051"/><circle cx="457.7" cy="109.2" r="2.5" fill="#ff0051"/><circle cx="428.3" cy="110.2" r="2.5" fill="#008bfb"/><circle cx="465.7" cy="120.9" r="2.5" fill="#ff0051"/><circle cx="424.5" cy="108.3" r="2.5" fill="#008bfb"/><circle cx="456.4" cy="106.4" r="2.5" fill="#ff0051"/><circle cx="470.0" cy="118.8" r="2.5" fill="#ff0051"/><circle cx="427.3" cy="116.5" r="2.5" fill="#008bfb"/><circle cx="423.4" cy="119.1" r="2.5" fill="#008bfb"/><circle cx="455.8" cy="120.8" r="2.5" fill="#ff0051"/><circle cx="447.4" cy="125.5" r="2.5" fill="#ff0051"/><circle cx="413.5" cy="115.9" r="2.5" fill="#008bfb"/><circle cx="443.4" cy="116.1" r="2.5" fill="#ff0051"/><circle cx="452.4" cy="108.3" r="2.5" fill="#ff0051"/><circle cx="461.6" cy="112.6" r="2.5" fill="#ff0051"/><circle cx="422.0" cy="111.1" r="2.5" fill="#008bfb"/><circle cx="461.6" cy="119.6" r="2.5" fill="#ff0051"/><circle cx="436.3" cy="116.0" r="2.5" fill="#008bfb"/><circle cx="405.2" cy="114.3" r="2.5" fill="#008bfb"/><circle cx="431.6" cy="112.6" r="2.5" fill="#008bfb"/><circle cx="476.1" cy="115.8" r="2.5" fill="#ff0051"/><circle cx="432.6" cy="114.0" r="2.5" fill="#008bfb"/><circle cx="401.9" cy="117.7" r="2.5" fill="#008bfb"/><circle cx="417.7" cy="121.8" r="2.5" fill="#008bfb"/><circle cx="458.1" cy="125.5" r="2.5" fill="#ff0051"/><circle cx="419.9" cy="119.4" r="2.5" fill="#008bfb"/><circle cx="447.4" cy="117.7" r="2.5" fill="#ff0051"/><circle cx="447.7" cy="112.3" r="2.5" fill="#ff0051"/><circle cx="422.0" cy="116.1" r="2.5" fill="#008bfb"/><circle cx="459.5" cy="116.4" r="2.5" fill="#ff0051"/><circle cx="460.1" cy="119.8" r="2.5" fill="#ff0051"/><circle cx="449.5" cy="118.0" r="2.5" fill="#ff0051"/><circle cx="415.0" cy="117.8" r="2.5" fill="#008bfb"/><circle cx="429.8" cy="114.0" r="2.5" fill="#008bfb"/><circle cx="472.7" cy="113.9" r="2.5" fill="#ff0051"/><circle cx="459.8" cy="112.8" r="2.5" fill="#ff0051"/><circle cx="445.5" cy="123.0" r="2.5" fill="#ff0051"/><circle cx="411.6" cy="117.5" r="2.5" fill="#008bfb"/><circle cx="430.2" cy="120.1" r="2.5" fill="#008bfb"/><circle cx="469.1" cy="116.1" r="2.5" fill="#ff0051"/><circle cx="447.5" cy="109.0" r="2.5" fill="#ff0051"/><circle cx="456.0" cy="126.0" r="2.5" fill="#ff0051"/><circle cx="443.8" cy="119.2" r="2.5" fill="#ff0051"/><circle cx="406.2" cy="116.5" r="2.5" fill="#008bfb"/><circle cx="450.1" cy="114.2" r="2.5" fill="#ff0051"/><circle cx="455.2" cy="114.8" r="2.5" fill="#ff0051"/><circle cx="459.4" cy="110.8" r="2.5" fill="#ff0051"/><circle cx="457.2" cy="110.8" r="2.5" fill="#ff0051"/><circle cx="421.3" cy="124.1" r="2.5" fill="#008bfb"/><circle cx="405.3" cy="116.1" r="2.5" fill="#008bfb"/><circle cx="439.0" cy="116.3" r="2.5" fill="#008bfb"/><circle cx="447.2" cy="116.4" r="2.5" fill="#ff0051"/><circle cx="477.2" cy="114.6" r="2.5" fill="#ff0051"/><circle cx="404.6" cy="118.0" r="2.5" fill="#008bfb"/><circle cx="449.8" cy="116.4" r="2.5" fill="#ff0051"/><circle cx="466.5" cy="117.3" r="2.5" fill="#ff0051"/><circle cx="472.6" cy="116.0" r="2.5" fill="#ff0051"/><circle cx="477.4" cy="117.5" r="2.5" fill="#ff0051"/><circle cx="426.0" cy="112.4" r="2.5" fill="#008bfb"/><circle cx="428.0" cy="114.7" r="2.5" fill="#008bfb"/><circle cx="454.3" cy="126.8" r="2.5" fill="#ff0051"/><circle cx="456.4" cy="109.6" r="2.5" fill="#ff0051"/><circle cx="459.4" cy="118.2" r="2.5" fill="#ff0051"/><circle cx="464.6" cy="110.7" r="2.5" fill="#ff0051"/><circle cx="454.1" cy="121.4" r="2.5" fill="#ff0051"/><circle cx="421.2" cy="119.7" r="2.5" fill="#008bfb"/><circle cx="423.8" cy="116.5" r="2.5" fill="#008bfb"/><circle cx="444.7" cy="112.7" r="2.5" fill="#ff0051"/><circle cx="465.8" cy="113.3" r="2.5" fill="#ff0051"/><circle cx="419.8" cy="109.1" r="2.5" fill="#008bfb"/><circle cx="452.3" cy="120.2" r="2.5" fill="#ff0051"/><circle cx="462.3" cy="110.6" r="2.5" fill="#ff0051"/><circle cx="454.4" cy="128.3" r="2.5" fill="#ff0051"/><circle cx="423.5" cy="122.5" r="2.5" fill="#008bfb"/><circle cx="413.6" cy="117.7" r="2.5" fill="#008bfb"/><circle cx="469.9" cy="117.9" r="2.5" fill="#ff0051"/><circle cx="463.6" cy="119.6" r="2.5" fill="#ff0051"/><circle cx="419.6" cy="122.9" r="2.5" fill="#008bfb"/><circle cx="428.2" cy="112.7" r="2.5" fill="#008bfb"/><circle cx="474.4" cy="118.6" r="2.5" fill="#ff0051"/><circle cx="455.1" cy="111.0" r="2.5" fill="#ff0051"/><circle cx="461.4" cy="123.4" r="2.5" fill="#ff0051"/><circle cx="429.5" cy="117.8" r="2.5" fill="#008bfb"/><circle cx="421.4" cy="114.9" r="2.5" fill="#008bfb"/><circle cx="430.6" cy="110.6" r="2.5" fill="#008bfb"/><circle cx="431.7" cy="117.9" r="2.5" fill="#008bfb"/><circle cx="466.8" cy="114.4" r="2.5" fill="#ff0051"/><circle cx="456.1" cy="128.1" r="2.5" fill="#ff0051"/><circle cx="430.1" cy="112.0" r="2.5" fill="#008bfb"/><circle cx="468.8" cy="119.7" r="2.5" fill="#ff0051"/><circle cx="452.2" cy="125.7" r="2.5" fill="#ff0051"/><circle cx="419.6" cy="116.3" r="2.5" fill="#008bfb"/><circle cx="412.9" cy="114.2" r="2.5" fill="#008bfb"/><circle cx="424.5" cy="112.7" r="2.5" fill="#008bfb"/><circle cx="420.2" cy="114.7" r="2.5" fill="#008bfb"/><circle cx="461.8" cy="108.9" r="2.5" fill="#ff0051"/><circle cx="446.0" cy="118.7" r="2.5" fill="#008bfb"/><circle cx="440.5" cy="113.2" r="2.5" fill="#008bfb"/>
<circle cx="414.0" cy="152.5" r="2.5" fill="#d5008f"/><circle cx="461.7" cy="158.0" r="2.5" fill="#d5008f"/><circle cx="485.7" cy="153.0" r="2.5" fill="#ff0051"/><circle cx="442.0" cy="151.4" r="2.5" fill="#4b63e3"/><circle cx="428.5" cy="157.8" r="2.5" fill="#4b63e3"/><circle cx="456.9" cy="150.9" r="2.5" fill="#d5008f"/><circle cx="475.1" cy="154.8" r="2.5" fill="#f90067"/><circle cx="466.9" cy="153.1" r="2.5" fill="#bb00a0"/><circle cx="461.8" cy="156.1" r="2.5" fill="#db008b"/><circle cx="453.4" cy="156.7" r="2.5" fill="#ff0057"/><circle cx="427.6" cy="149.7" r="2.5" fill="#cf0094"/><circle cx="456.5" cy="149.0" r="2.5" fill="#ee0077"/><circle cx="472.3" cy="151.8" r="2.5" fill="#fc0062"/><circle cx="451.5" cy="154.7" r="2.5" fill="#e50081"/><circle cx="432.8" cy="149.7" r="2.5" fill="#a41daa"/><circle cx="440.8" cy="155.2" r="2.5" fill="#9135ba"/><circle cx="429.0" cy="151.6" r="2.5" fill="#0070ee"/><circle cx="437.5" cy="151.0" r="2.5" fill="#3b68e7"/><circle cx="439.2" cy="157.6" r="2.5" fill="#7d49cc"/><circle cx="410.5" cy="151.9" r="2.5" fill="#008bfb"/><circle cx="419.0" cy="154.5" r="2.5" fill="#007cf5"/><circle cx="435.2" cy="148.3" r="2.5" fill="#fe005c"/><circle cx="436.1" cy="155.9" r="2.5" fill="#7d49cc"/><circle cx="443.1" cy="156.3" r="2.5" fill="#754fd1"/><circle cx="457.4" cy="149.2" r="2.5" fill="#cf0094"/><circle cx="464.0" cy="150.5" r="2.5" fill="#cf0094"/><circle cx="432.0" cy="156.6" r="2.5" fill="#ac16a7"/><circle cx="470.3" cy="154.2" r="2.5" fill="#f90067"/><circle cx="432.0" cy="158.5" r="2.5" fill="#0084f9"/><circle cx="427.8" cy="154.5" r="2.5" fill="#4b63e3"/><circle cx="434.0" cy="154.5" r="2.5" fill="#ac16a7"/><circle cx="440.9" cy="156.8" r="2.5" fill="#585edf"/><circle cx="451.7" cy="150.1" r="2.5" fill="#c90098"/><circle cx="468.6" cy="151.1" r="2.5" fill="#d5008f"/><circle cx="457.4" cy="156.4" r="2.5" fill="#bb00a0"/><circle cx="422.6" cy="153.2" r="2.5" fill="#0079f3"/><circle cx="432.7" cy="153.0" r="2.5" fill="#9135ba"/><circle cx="430.4" cy="149.9" r="2.5" fill="#6d54d6"/><circle cx="431.9" cy="144.3" r="2.5" fill="#962db4"/><circle cx="470.2" cy="149.5" r="2.5" fill="#ff0051"/><circle cx="433.8" cy="161.1" r="2.5" fill="#585edf"/><circle cx="421.6" cy="150.8" r="2.5" fill="#007cf5"/><circle cx="466.1" cy="156.7" r="2.5" fill="#e00086"/><circle cx="447.2" cy="153.0" r="2.5" fill="#e9007c"/><circle cx="446.1" cy="149.0" r="2.5" fill="#db008b"/><circle cx="466.9" cy="154.6" r="2.5" fill="#f20072"/><circle cx="443.2" cy="151.5" r="2.5" fill="#e9007c"/><circle cx="427.7" cy="147.3" r="2.5" fill="#7d49cc"/><circle cx="423.2" cy="147.1" r="2.5" fill="#754fd1"/><circle cx="433.8" cy="151.5" r="2.5" fill="#4b63e3"/><circle cx="476.2" cy="152.7" r="2.5" fill="#f5006d"/><circle cx="432.7" cy="163.0" r="2.5" fill="#0079f3"/><circle cx="421.7" cy="155.1" r="2.5" fill="#0079f3"/><circle cx="444.4" cy="152.9" r="2.5" fill="#7d49cc"/><circle cx="424.4" cy="153.1" r="2.5" fill="#0087fa"/><circle cx="416.7" cy="155.8" r="2.5" fill="#0070ee"/><circle cx="460.2" cy="156.7" r="2.5" fill="#c2009c"/><circle cx="429.6" cy="155.8" r="2.5" fill="#3b68e7"/><circle cx="420.2" cy="158.1" r="2.5" fill="#008bfb"/><circle cx="452.6" cy="147.8" r="2.5" fill="#9135ba"/><circle cx="454.1" cy="159.1" r="2.5" fill="#c90098"/><circle cx="476.3" cy="154.1" r="2.5" fill="#f20072"/><circle cx="429.3" cy="148.4" r="2.5" fill="#3b68e7"/><circle cx="468.3" cy="156.8" r="2.5" fill="#cf0094"/><circle cx="478.9" cy="152.6" r="2.5" fill="#f20072"/><circle cx="440.0" cy="148.1" r="2.5" fill="#635adb"/><circle cx="427.7" cy="151.5" r="2.5" fill="#a41daa"/><circle cx="431.8" cy="151.6" r="2.5" fill="#585edf"/><circle cx="447.4" cy="155.0" r="2.5" fill="#db008b"/><circle cx="415.0" cy="155.1" r="2.5" fill="#246cea"/><circle cx="464.5" cy="155.2" r="2.5" fill="#cf0094"/><circle cx="447.9" cy="159.2" r="2.5" fill="#bb00a0"/><circle cx="427.9" cy="162.1" r="2.5" fill="#7d49cc"/><circle cx="452.7" cy="151.3" r="2.5" fill="#d5008f"/><circle cx="430.9" cy="161.7" r="2.5" fill="#0070ee"/><circle cx="429.0" cy="153.1" r="2.5" fill="#6d54d6"/><circle cx="425.2" cy="161.9" r="2.5" fill="#246cea"/><circle cx="446.4" cy="155.2" r="2.5" fill="#c90098"/><circle cx="455.9" cy="153.2" r="2.5" fill="#bb00a0"/><circle cx="447.1" cy="148.7" r="2.5" fill="#d5008f"/><circle cx="450.1" cy="156.5" r="2.5" fill="#ac16a7"/><circle cx="424.4" cy="148.1" r="2.5" fill="#0075f0"/><circle cx="451.8" cy="146.3" r="2.5" fill="#e50081"/><circle cx="438.2" cy="149.3" r="2.5" fill="#246cea"/><circle cx="456.7" cy="158.5" r="2.5" fill="#c2009c"/><circle cx="435.6" cy="163.0" r="2.5" fill="#7d49cc"/><circle cx="449.5" cy="153.4" r="2.5" fill="#e9007c"/><circle cx="446.4" cy="156.8" r="2.5" fill="#e00086"/><circle cx="426.6" cy="145.6" r="2.5" fill="#7d49cc"/><circle cx="448.2" cy="151.2" r="2.5" fill="#e9007c"/><circle cx="465.9" cy="151.0" r="2.5" fill="#bb00a0"/><circle cx="428.5" cy="145.3" r="2.5" fill="#6d54d6"/><circle cx="427.5" cy="160.4" r="2.5" fill="#635adb"/><circle cx="436.1" cy="154.8" r="2.5" fill="#0075f0"/><circle cx="439.7" cy="150.0" r="2.5" fill="#a41daa"/><circle cx="446.0" cy="158.5" r="2.5" fill="#cf0094"/><circle cx="443.6" cy="150.0" r="2.5" fill="#ff0057"/><circle cx="433.5" cy="158.0" r="2.5" fill="#ac16a7"/><circle cx="483.7" cy="152.9" r="2.5" fill="#ff0051"/><circle cx="425.8" cy="158.2" r="2.5" fill="#7d49cc"/><circle cx="440.9" cy="153.4" r="2.5" fill="#8b3cc0"/><circle cx="468.8" cy="148.8" r="2.5" fill="#c90098"/><circle cx="459.7" cy="154.9" r="2.5" fill="#e50081"/><circle cx="403.9" cy="152.7" r="2.5" fill="#008bfb"/><circle cx="433.7" cy="156.2" r="2.5" fill="#e9007c"/><circle cx="417.1" cy="151.3" r="2.5" fill="#0070ee"/><circle cx="440.0" cy="154.6" r="2.5" fill="#635adb"/><circle cx="470.0" cy="156.1" r="2.5" fill="#f20072"/><circle cx="470.7" cy="151.5" r="2.5" fill="#f20072"/><circle cx="422.6" cy="160.3" r="2.5" fill="#008bfb"/><circle cx="425.3" cy="146.1" r="2.5" fill="#0080f7"/><circle cx="425.3" cy="144.3" r="2.5" fill="#7d49cc"/><circle cx="459.9" cy="153.2" r="2.5" fill="#cf0094"/><circle cx="460.3" cy="149.8" r="2.5" fill="#ac16a7"/><circle cx="450.2" cy="151.5" r="2.5" fill="#d5008f"/><circle cx="424.4" cy="149.4" r="2.5" fill="#0070ee"/><circle cx="436.7" cy="153.3" r="2.5" fill="#f20072"/><circle cx="422.4" cy="158.4" r="2.5" fill="#0084f9"/><circle cx="413.2" cy="155.0" r="2.5" fill="#008bfb"/><circle cx="430.8" cy="163.8" r="2.5" fill="#3b68e7"/><circle cx="432.0" cy="146.3" r="2.5" fill="#635adb"/><circle cx="440.0" cy="151.5" r="2.5" fill="#a41daa"/><circle cx="439.3" cy="152.9" r="2.5" fill="#9b23ad"/><circle cx="427.5" cy="153.1" r="2.5" fill="#7d49cc"/><circle cx="472.9" cy="156.0" r="2.5" fill="#fe005c"/><circle cx="429.4" cy="149.5" r="2.5" fill="#9b23ad"/><circle cx="438.1" cy="154.8" r="2.5" fill="#6d54d6"/><circle cx="429.0" cy="146.6" r="2.5" fill="#a41daa"/><circle cx="410.8" cy="154.4" r="2.5" fill="#0084f9"/><circle cx="418.8" cy="157.2" r="2.5" fill="#3b68e7"/><circle cx="425.5" cy="151.1" r="2.5" fill="#585edf"/><circle cx="469.0" cy="155.1" r="2.5" fill="#c2009c"/><circle cx="456.1" cy="156.8" r="2.5" fill="#e50081"/><circle cx="427.8" cy="156.3" r="2.5" fill="#635adb"/><circle cx="432.9" cy="147.7" r="2.5" fill="#6d54d6"/><circle cx="413.3" cy="153.4" r="2.5" fill="#3b68e7"/><circle cx="451.5" cy="156.5" r="2.5" fill="#e50081"/><circle cx="462.0" cy="151.1" r="2.5" fill="#e9007c"/><circle cx="422.4" cy="145.7" r="2.5" fill="#0070ee"/><circle cx="451.3" cy="159.6" r="2.5" fill="#d5008f"/><circle cx="454.3" cy="154.8" r="2.5" fill="#e00086"/><circle cx="418.7" cy="153.2" r="2.5" fill="#0080f7"/><circle cx="437.0" cy="156.9" r="2.5" fill="#008bfb"/><circle cx="423.3" cy="149.1" r="2.5" fill="#0075f0"/><circle cx="459.7" cy="157.7" r="2.5" fill="#f20072"/><circle cx="443.2" cy="148.5" r="2.5" fill="#8443c6"/><circle cx="415.3" cy="152.8" r="2.5" fill="#008bfb"/><circle cx="475.2" cy="153.1" r="2.5" fill="#fe005c"/><circle cx="464.8" cy="149.1" r="2.5" fill="#e00086"/><circle cx="430.9" cy="154.8" r="2.5" fill="#7d49cc"/><circle cx="459.8" cy="151.1" r="2.5" fill="#f20072"/><circle cx="429.7" cy="162.6" r="2.5" fill="#8b3cc0"/><circle cx="452.1" cy="152.9" r="2.5" fill="#bb00a0"/><circle cx="435.4" cy="143.6" r="2.5" fill="#635adb"/><circle cx="433.9" cy="143.5" r="2.5" fill="#246cea"/><circle cx="431.7" cy="148.2" r="2.5" fill="#635adb"/><circle cx="433.1" cy="146.4" r="2.5" fill="#0080f7"/><circle cx="435.5" cy="149.8" r="2.5" fill="#0070ee"/><circle cx="432.0" cy="152.9" r="2.5" fill="#6d54d6"/><circle cx="445.0" cy="151.1" r="2.5" fill="#fc0062"/><circle cx="436.2" cy="161.5" r="2.5" fill="#0075f0"/><circle cx="423.6" cy="155.1" r="2.5" fill="#635adb"/><circle cx="429.0" cy="161.3" r="2.5" fill="#7d49cc"/><circle cx="458.0" cy="154.9" r="2.5" fill="#c2009c"/><circle cx="436.1" cy="159.8" r="2.5" fill="#962db4"/><circle cx="454.7" cy="147.3" r="2.5" fill="#ee0077"/><circle cx="464.6" cy="157.2" r="2.5" fill="#f5006d"/><circle cx="408.4" cy="152.7" r="2.5" fill="#0080f7"/><circle cx="425.8" cy="156.2" r="2.5" fill="#754fd1"/><circle cx="445.1" cy="152.6" r="2.5" fill="#962db4"/><circle cx="450.0" cy="154.7" r="2.5" fill="#cf0094"/><circle cx="450.6" cy="150.0" r="2.5" fill="#e9007c"/><circle cx="421.5" cy="153.2" r="2.5" fill="#4b63e3"/><circle cx="461.8" cy="153.3" r="2.5" fill="#d5008f"/><circle cx="470.5" cy="152.6" r="2.5" fill="#f5006d"/><circle cx="434.8" cy="145.2" r="2.5" fill="#4b63e3"/><circle cx="458.0" cy="151.0" r="2.5" fill="#ac16a7"/><circle cx="434.9" cy="151.6" r="2.5" fill="#8b3cc0"/><circle cx="416.6" cy="154.8" r="2.5" fill="#0075f0"/><circle cx="423.1" cy="156.8" r="2.5" fill="#0070ee"/><circle cx="463.7" cy="153.3" r="2.5" fill="#bb00a0"/><circle cx="437.4" cy="158.9" r="2.5" fill="#a41daa"/><circle cx="472.4" cy="150.4" r="2.5" fill="#f90067"/><circle cx="402.7" cy="153.2" r="2.5" fill="#008bfb"/><circle cx="445.1" cy="147.3" r="2.5" fill="#585edf"/><circle cx="472.0" cy="152.9" r="2.5" fill="#fc0062"/><circle cx="426.3" cy="143.7" r="2.5" fill="#6d54d6"/><circle cx="409.9" cy="153.0" r="2.5" fill="#008bfb"/><circle cx="418.6" cy="148.9" r="2.5" fill="#0084f9"/><circle cx="444.3" cy="154.7" r="2.5" fill="#635adb"/><circle cx="427.2" cy="158.1" r="2.5" fill="#a41daa"/><circle cx="455.4" cy="154.9" r="2.5" fill="#c2009c"/><circle cx="400.3" cy="153.1" r="2.5" fill="#007cf5"/><circle cx="461.6" cy="154.6" r="2.5" fill="#bb00a0"/><circle cx="430.8" cy="159.7" r="2.5" fill="#4b63e3"/><circle cx="424.9" cy="154.7" r="2.5" fill="#008bfb"/><circle cx="428.7" cy="159.2" r="2.5" fill="#b40ca4"/><circle cx="455.6" cy="147.4" r="2.5" fill="#e00086"/><circle cx="457.9" cy="158.6" r="2.5" fill="#d5008f"/><circle cx="450.4" cy="159.8" r="2.5" fill="#c2009c"/><circle cx="418.3" cy="150.7" r="2.5" fill="#0079f3"/><circle cx="480.3" cy="153.0" r="2.5" fill="#ff0057"/><circle cx="450.0" cy="157.7" r="2.5" fill="#cf0094"/><circle cx="448.0" cy="156.8" r="2.5" fill="#d5008f"/><circle cx="433.4" cy="164.2" r="2.5" fill="#9b23ad"/><circle cx="444.3" cy="157.7" r="2.5" fill="#f20072"/><circle cx="434.9" cy="146.2" r="2.5" fill="#8b3cc0"/><circle cx="425.1" cy="159.6" r="2.5" fill="#0070ee"/><circle cx="433.5" cy="159.5" r="2.5" fill="#0070ee"/><circle cx="421.4" cy="149.2" r="2.5" fill="#008bfb"/><circle cx="416.6" cy="152.6" r="2.5" fill="#0070ee"/><circle cx="434.7" cy="152.8" r="2.5" fill="#6d54d6"/><circle cx="430.7" cy="142.2" r="2.5" fill="#635adb"/><circle cx="462.6" cy="149.8" r="2.5" fill="#bb00a0"/><circle cx="468.2" cy="152.6" r="2.5" fill="#cf0094"/><circle cx="433.8" cy="144.8" r="2.5" fill="#6d54d6"/><circle cx="453.9" cy="150.7" r="2.5" fill="#db008b"/><circle cx="423.5" cy="151.3" r="2.5" fill="#0070ee"/><circle cx="435.4" cy="158.0" r="2.5" fill="#e9007c"/><circle cx="406.2" cy="152.8" r="2.5" fill="#0087fa"/><circle cx="473.3" cy="154.5" r="2.5" fill="#f20072"/><circle cx="440.1" cy="155.8" r="2.5" fill="#c90098"/><circle cx="453.4" cy="148.9" r="2.5" fill="#d5008f"/><circle cx="420.2" cy="156.4" r="2.5" fill="#007cf5"/><circle cx="449.4" cy="148.3" r="2.5" fill="#c90098"/><circle cx="453.8" cy="152.7" r="2.5" fill="#c90098"/><circle cx="451.2" cy="157.6" r="2.5" fill="#e00086"/><circle cx="457.7" cy="153.0" r="2.5" fill="#cf0094"/><circle cx="428.8" cy="154.5" r="2.5" fill="#8b3cc0"/><circle cx="491.3" cy="153.0" r="2.5" fill="#ff0051"/><circle cx="496.0" cy="153.0" r="2.5" fill="#ff0051"/><circle cx="503.5" cy="153.0" r="2.5" fill="#ff0051"/><circle cx="506.6" cy="153.0" r="2.5" fill="#ff0051"/>
<circle cx="424.9" cy="183.4" r="2.5" fill="#8b3cc0"/><circle cx="430.0" cy="193.5" r="2.5" fill="#9135ba"/><circle cx="437.5" cy="196.7" r="2.5" fill="#bb00a0"/><circle cx="436.9" cy="193.2" r="2.5" fill="#9135ba"/><circle cx="442.4" cy="187.8" r="2.5" fill="#c2009c"/><circle cx="423.4" cy="186.8" r="2.5" fill="#7d49cc"/><circle cx="419.6" cy="191.7" r="2.5" fill="#0079f3"/><circle cx="447.5" cy="188.4" r="2.5" fill="#f90067"/><circle cx="426.6" cy="197.8" r="2.5" fill="#8443c6"/><circle cx="432.9" cy="182.7" r="2.5" fill="#754fd1"/><circle cx="452.3" cy="194.5" r="2.5" fill="#ff0051"/><circle cx="445.9" cy="187.6" r="2.5" fill="#f5006d"/><circle cx="448.4" cy="194.7" r="2.5" fill="#e9007c"/><circle cx="446.0" cy="190.0" r="2.5" fill="#9135ba"/><circle cx="452.5" cy="183.8" r="2.5" fill="#f5006d"/><circle cx="431.2" cy="202.0" r="2.5" fill="#ac16a7"/><circle cx="439.6" cy="197.5" r="2.5" fill="#9b23ad"/><circle cx="432.0" cy="189.5" r="2.5" fill="#9b23ad"/><circle cx="451.0" cy="188.4" r="2.5" fill="#f5006d"/><circle cx="428.8" cy="187.7" r="2.5" fill="#8443c6"/><circle cx="431.8" cy="181.5" r="2.5" fill="#ac16a7"/><circle cx="446.3" cy="186.3" r="2.5" fill="#ff0051"/><circle cx="449.9" cy="190.1" r="2.5" fill="#ff0051"/><circle cx="458.0" cy="188.5" r="2.5" fill="#ff0051"/><circle cx="422.9" cy="191.7" r="2.5" fill="#962db4"/><circle cx="479.7" cy="189.6" r="2.5" fill="#ff0051"/><circle cx="456.7" cy="189.7" r="2.5" fill="#db008b"/><circle cx="436.9" cy="182.9" r="2.5" fill="#246cea"/><circle cx="426.8" cy="186.3" r="2.5" fill="#3b68e7"/><circle cx="427.4" cy="183.7" r="2.5" fill="#007cf5"/><circle cx="433.5" cy="194.7" r="2.5" fill="#962db4"/><circle cx="427.3" cy="180.0" r="2.5" fill="#a41daa"/><circle cx="425.7" cy="196.4" r="2.5" fill="#585edf"/><circle cx="439.2" cy="184.0" r="2.5" fill="#8b3cc0"/><circle cx="449.7" cy="191.3" r="2.5" fill="#e9007c"/><circle cx="435.2" cy="184.0" r="2.5" fill="#754fd1"/><circle cx="449.9" cy="192.8" r="2.5" fill="#ff0057"/><circle cx="492.4" cy="189.6" r="2.5" fill="#ff0051"/><circle cx="416.9" cy="193.0" r="2.5" fill="#ac16a7"/><circle cx="469.1" cy="190.1" r="2.5" fill="#ff0057"/><circle cx="424.4" cy="198.4" r="2.5" fill="#7d49cc"/><circle cx="435.2" cy="187.7" r="2.5" fill="#e00086"/><circle cx="483.5" cy="190.1" r="2.5" fill="#ff0051"/><circle cx="471.4" cy="189.7" r="2.5" fill="#ff0057"/><circle cx="430.7" cy="192.9" r="2.5" fill="#7d49cc"/><circle cx="428.9" cy="191.6" r="2.5" fill="#8b3cc0"/><circle cx="485.7" cy="189.6" r="2.5" fill="#ff0057"/><circle cx="435.8" cy="199.1" r="2.5" fill="#9135ba"/><circle cx="439.2" cy="182.7" r="2.5" fill="#b40ca4"/><circle cx="433.4" cy="184.8" r="2.5" fill="#8b3cc0"/><circle cx="423.5" cy="194.9" r="2.5" fill="#8b3cc0"/><circle cx="444.5" cy="193.4" r="2.5" fill="#9b23ad"/><circle cx="430.9" cy="184.9" r="2.5" fill="#c2009c"/><circle cx="439.5" cy="191.8" r="2.5" fill="#9135ba"/><circle cx="452.4" cy="188.6" r="2.5" fill="#f90067"/><circle cx="439.3" cy="187.9" r="2.5" fill="#8443c6"/><circle cx="410.2" cy="189.8" r="2.5" fill="#ac16a7"/><circle cx="442.3" cy="195.7" r="2.5" fill="#cf0094"/><circle cx="421.7" cy="194.6" r="2.5" fill="#7d49cc"/><circle cx="481.1" cy="189.6" r="2.5" fill="#ff0051"/><circle cx="456.0" cy="185.6" r="2.5" fill="#f90067"/><circle cx="449.9" cy="194.6" r="2.5" fill="#f20072"/><circle cx="416.4" cy="186.9" r="2.5" fill="#8443c6"/><circle cx="474.9" cy="189.4" r="2.5" fill="#ff0051"/><circle cx="427.7" cy="191.5" r="2.5" fill="#6d54d6"/><circle cx="424.4" cy="188.4" r="2.5" fill="#754fd1"/><circle cx="428.9" cy="180.8" r="2.5" fill="#754fd1"/><circle cx="429.1" cy="200.5" r="2.5" fill="#962db4"/><circle cx="440.5" cy="189.5" r="2.5" fill="#ff0051"/><circle cx="441.4" cy="184.2" r="2.5" fill="#b40ca4"/><circle cx="425.7" cy="184.8" r="2.5" fill="#585edf"/><circle cx="435.9" cy="185.6" r="2.5" fill="#754fd1"/><circle cx="451.8" cy="191.2" r="2.5" fill="#ff0051"/><circle cx="431.0" cy="198.5" r="2.5" fill="#9135ba"/><circle cx="418.5" cy="188.3" r="2.5" fill="#585edf"/><circle cx="431.8" cy="186.2" r="2.5" fill="#9135ba"/><circle cx="428.7" cy="189.8" r="2.5" fill="#9b23ad"/><circle cx="426.6" cy="199.8" r="2.5" fill="#6d54d6"/><circle cx="426.9" cy="194.9" r="2.5" fill="#d5008f"/><circle cx="425.3" cy="186.4" r="2.5" fill="#8b3cc0"/><circle cx="437.1" cy="188.4" r="2.5" fill="#585edf"/><circle cx="455.3" cy="190.1" r="2.5" fill="#ee0077"/><circle cx="429.4" cy="197.4" r="2.5" fill="#585edf"/><circle cx="423.5" cy="183.4" r="2.5" fill="#9b23ad"/><circle cx="438.4" cy="191.5" r="2.5" fill="#9b23ad"/><circle cx="403.8" cy="189.7" r="2.5" fill="#962db4"/><circle cx="422.5" cy="185.1" r="2.5" fill="#8443c6"/><circle cx="432.8" cy="191.2" r="2.5" fill="#585edf"/><circle cx="414.5" cy="191.5" r="2.5" fill="#962db4"/><circle cx="433.1" cy="193.1" r="2.5" fill="#8b3cc0"/><circle cx="412.3" cy="191.1" r="2.5" fill="#0080f7"/><circle cx="438.2" cy="186.5" r="2.5" fill="#d5008f"/><circle cx="442.6" cy="189.6" r="2.5" fill="#cf0094"/><circle cx="435.2" cy="193.5" r="2.5" fill="#8443c6"/><circle cx="453.0" cy="196.3" r="2.5" fill="#ff0051"/><circle cx="437.2" cy="195.3" r="2.5" fill="#6d54d6"/><circle cx="425.5" cy="194.4" r="2.5" fill="#754fd1"/><circle cx="421.5" cy="188.2" r="2.5" fill="#6d54d6"/><circle cx="455.0" cy="183.0" r="2.5" fill="#fe005c"/><circle cx="427.5" cy="189.9" r="2.5" fill="#ac16a7"/><circle cx="429.1" cy="198.6" r="2.5" fill="#9b23ad"/><circle cx="441.4" cy="186.3" r="2.5" fill="#9b23ad"/><circle cx="426.4" cy="185.3" r="2.5" fill="#b40ca4"/><circle cx="416.5" cy="188.0" r="2.5" fill="#c90098"/><circle cx="488.5" cy="189.4" r="2.5" fill="#fe005c"/><circle cx="422.6" cy="193.5" r="2.5" fill="#a41daa"/><circle cx="425.1" cy="181.9" r="2.5" fill="#6d54d6"/><circle cx="434.2" cy="198.5" r="2.5" fill="#8443c6"/><circle cx="412.2" cy="189.7" r="2.5" fill="#8b3cc0"/><circle cx="451.9" cy="186.8" r="2.5" fill="#fe005c"/><circle cx="437.4" cy="184.6" r="2.5" fill="#4b63e3"/><circle cx="454.1" cy="187.9" r="2.5" fill="#f20072"/><circle cx="472.8" cy="189.5" r="2.5" fill="#ff0051"/><circle cx="458.1" cy="189.4" r="2.5" fill="#ff0057"/><circle cx="433.9" cy="187.9" r="2.5" fill="#8443c6"/><circle cx="433.1" cy="189.6" r="2.5" fill="#c90098"/><circle cx="416.8" cy="190.1" r="2.5" fill="#9135ba"/><circle cx="456.1" cy="192.3" r="2.5" fill="#cf0094"/><circle cx="433.5" cy="200.4" r="2.5" fill="#4b63e3"/><circle cx="443.4" cy="189.7" r="2.5" fill="#a41daa"/><circle cx="454.7" cy="186.2" r="2.5" fill="#ee0077"/><circle cx="460.1" cy="189.9" r="2.5" fill="#cf0094"/><circle cx="427.3" cy="181.8" r="2.5" fill="#962db4"/><circle cx="455.0" cy="184.7" r="2.5" fill="#ff0051"/><circle cx="440.4" cy="193.3" r="2.5" fill="#a41daa"/><circle cx="467.6" cy="189.5" r="2.5" fill="#fe005c"/><circle cx="427.4" cy="188.3" r="2.5" fill="#c90098"/><circle cx="434.9" cy="197.6" r="2.5" fill="#9b23ad"/><circle cx="442.2" cy="191.8" r="2.5" fill="#962db4"/><circle cx="408.0" cy="190.0" r="2.5" fill="#962db4"/><circle cx="459.4" cy="191.2" r="2.5" fill="#ff0051"/><circle cx="433.4" cy="197.0" r="2.5" fill="#962db4"/><circle cx="438.4" cy="198.3" r="2.5" fill="#754fd1"/><circle cx="445.5" cy="191.8" r="2.5" fill="#e50081"/><circle cx="434.2" cy="186.7" r="2.5" fill="#585edf"/><circle cx="430.8" cy="200.5" r="2.5" fill="#9135ba"/><circle cx="462.8" cy="190.9" r="2.5" fill="#ff0051"/><circle cx="431.8" cy="191.8" r="2.5" fill="#585edf"/><circle cx="431.7" cy="195.3" r="2.5" fill="#962db4"/><circle cx="464.8" cy="189.8" r="2.5" fill="#ff0057"/><circle cx="422.9" cy="196.7" r="2.5" fill="#962db4"/><circle cx="447.8" cy="191.3" r="2.5" fill="#db008b"/><circle cx="429.9" cy="195.6" r="2.5" fill="#9b23ad"/><circle cx="433.0" cy="180.8" r="2.5" fill="#8443c6"/><circle cx="421.3" cy="191.4" r="2.5" fill="#a41daa"/><circle cx="429.3" cy="184.4" r="2.5" fill="#9135ba"/><circle cx="422.9" cy="187.8" r="2.5" fill="#8b3cc0"/><circle cx="436.4" cy="191.7" r="2.5" fill="#ac16a7"/><circle cx="423.5" cy="189.7" r="2.5" fill="#4b63e3"/><circle cx="436.4" cy="189.7" r="2.5" fill="#9b23ad"/><circle cx="420.7" cy="186.4" r="2.5" fill="#7d49cc"/><circle cx="459.3" cy="192.6" r="2.5" fill="#ff0057"/><circle cx="447.6" cy="186.5" r="2.5" fill="#f5006d"/><circle cx="431.4" cy="196.9" r="2.5" fill="#9135ba"/><circle cx="461.1" cy="192.1" r="2.5" fill="#f20072"/><circle cx="457.1" cy="187.5" r="2.5" fill="#ee0077"/><circle cx="452.6" cy="185.6" r="2.5" fill="#e00086"/><circle cx="429.5" cy="186.2" r="2.5" fill="#8443c6"/><circle cx="455.2" cy="196.6" r="2.5" fill="#e9007c"/><circle cx="462.6" cy="188.9" r="2.5" fill="#fe005c"/><circle cx="425.9" cy="193.1" r="2.5" fill="#754fd1"/><circle cx="414.8" cy="189.6" r="2.5" fill="#0070ee"/><circle cx="425.0" cy="191.6" r="2.5" fill="#962db4"/><circle cx="455.1" cy="192.9" r="2.5" fill="#f90067"/><circle cx="441.6" cy="193.3" r="2.5" fill="#9135ba"/><circle cx="448.6" cy="189.7" r="2.5" fill="#fc0062"/><circle cx="431.9" cy="179.1" r="2.5" fill="#a41daa"/><circle cx="438.3" cy="190.2" r="2.5" fill="#c2009c"/><circle cx="415.2" cy="187.9" r="2.5" fill="#962db4"/><circle cx="419.2" cy="193.7" r="2.5" fill="#8443c6"/><circle cx="436.0" cy="182.5" r="2.5" fill="#0070ee"/><circle cx="446.3" cy="193.6" r="2.5" fill="#e50081"/><circle cx="424.3" cy="190.0" r="2.5" fill="#635adb"/><circle cx="477.2" cy="190.0" r="2.5" fill="#fe005c"/><circle cx="430.7" cy="188.5" r="2.5" fill="#4b63e3"/><circle cx="443.5" cy="191.4" r="2.5" fill="#e50081"/><circle cx="453.8" cy="191.2" r="2.5" fill="#ff0057"/><circle cx="452.1" cy="189.4" r="2.5" fill="#f20072"/><circle cx="430.9" cy="182.7" r="2.5" fill="#ac16a7"/><circle cx="454.4" cy="195.0" r="2.5" fill="#f90067"/><circle cx="443.5" cy="188.5" r="2.5" fill="#db008b"/><circle cx="440.0" cy="195.7" r="2.5" fill="#f90067"/><circle cx="421.3" cy="193.2" r="2.5" fill="#f5006d"/><circle cx="429.5" cy="182.8" r="2.5" fill="#6d54d6"/><circle cx="448.2" cy="192.7" r="2.5" fill="#bb00a0"/><circle cx="417.3" cy="191.8" r="2.5" fill="#8443c6"/><circle cx="493.9" cy="189.6" r="2.5" fill="#ff0057"/><circle cx="406.5" cy="189.5" r="2.5" fill="#962db4"/><circle cx="463.6" cy="190.2" r="2.5" fill="#ff0057"/><circle cx="427.3" cy="193.3" r="2.5" fill="#635adb"/><circle cx="490.1" cy="189.6" r="2.5" fill="#ff0057"/><circle cx="461.4" cy="187.8" r="2.5" fill="#f90067"/><circle cx="436.2" cy="195.3" r="2.5" fill="#9135ba"/><circle cx="456.3" cy="194.4" r="2.5" fill="#f20072"/><circle cx="420.4" cy="189.5" r="2.5" fill="#a41daa"/><circle cx="452.1" cy="193.0" r="2.5" fill="#e9007c"/><circle cx="428.0" cy="196.3" r="2.5" fill="#9b23ad"/><circle cx="418.4" cy="190.0" r="2.5" fill="#8443c6"/><circle cx="439.6" cy="186.0" r="2.5" fill="#007cf5"/><circle cx="450.9" cy="186.2" r="2.5" fill="#d5008f"/><circle cx="443.7" cy="186.1" r="2.5" fill="#e00086"/><circle cx="341.1" cy="189.8" r="2.5" fill="#008bfb"/><circle cx="348.1" cy="189.8" r="2.5" fill="#008bfb"/><circle cx="355.7" cy="189.8" r="2.5" fill="#008bfb"/><circle cx="366.5" cy="189.8" r="2.5" fill="#008bfb"/><circle cx="385.5" cy="189.8" r="2.5" fill="#008bfb"/><circle cx="393.6" cy="189.8" r="2.5" fill="#008bfb"/><circle cx="395.6" cy="189.8" r="2.5" fill="#008bfb"/><circle cx="398.2" cy="189.8" r="2.5" fill="#ff0051"/><circle cx="515.4" cy="189.8" r="2.5" fill="#ff0051"/>
<circle cx="464.7" cy="226.8" r="2.5" fill="#585edf"/><circle cx="426.9" cy="218.9" r="2.5" fill="#8b3cc0"/><circle cx="469.7" cy="226.8" r="2.5" fill="#635adb"/><circle cx="464.8" cy="222.9" r="2.5" fill="#9135ba"/><circle cx="443.9" cy="232.3" r="2.5" fill="#c2009c"/><circle cx="442.9" cy="220.9" r="2.5" fill="#0070ee"/><circle cx="441.9" cy="221.6" r="2.5" fill="#ac16a7"/><circle cx="437.1" cy="235.1" r="2.5" fill="#f90067"/><circle cx="433.3" cy="221.4" r="2.5" fill="#ff0051"/><circle cx="450.7" cy="226.4" r="2.5" fill="#8b3cc0"/><circle cx="460.8" cy="228.5" r="2.5" fill="#7d49cc"/><circle cx="471.6" cy="228.7" r="2.5" fill="#0084f9"/><circle cx="451.7" cy="228.1" r="2.5" fill="#7d49cc"/><circle cx="428.1" cy="219.9" r="2.5" fill="#fc0062"/><circle cx="417.0" cy="225.1" r="2.5" fill="#fe005c"/><circle cx="428.2" cy="221.7" r="2.5" fill="#fc0062"/><circle cx="428.8" cy="232.2" r="2.5" fill="#f5006d"/><circle cx="475.4" cy="226.7" r="2.5" fill="#0070ee"/><circle cx="430.3" cy="226.6" r="2.5" fill="#ff0051"/><circle cx="445.2" cy="232.1" r="2.5" fill="#8443c6"/><circle cx="430.9" cy="225.0" r="2.5" fill="#fc0062"/><circle cx="439.9" cy="221.5" r="2.5" fill="#ff0051"/><circle cx="431.6" cy="233.6" r="2.5" fill="#f20072"/><circle cx="445.2" cy="226.3" r="2.5" fill="#9135ba"/><circle cx="437.7" cy="216.3" r="2.5" fill="#ee0077"/><circle cx="436.7" cy="231.5" r="2.5" fill="#f90067"/><circle cx="418.6" cy="230.8" r="2.5" fill="#e9007c"/><circle cx="439.8" cy="218.9" r="2.5" fill="#fc0062"/><circle cx="458.5" cy="230.8" r="2.5" fill="#635adb"/><circle cx="430.9" cy="237.2" r="2.5" fill="#fe005c"/><circle cx="415.6" cy="227.0" r="2.5" fill="#fe005c"/><circle cx="432.4" cy="217.0" r="2.5" fill="#fe005c"/><circle cx="443.0" cy="225.1" r="2.5" fill="#c2009c"/><circle cx="486.0" cy="227.0" r="2.5" fill="#007cf5"/><circle cx="444.1" cy="222.5" r="2.5" fill="#ee0077"/><circle cx="439.0" cy="230.2" r="2.5" fill="#f5006d"/><circle cx="460.3" cy="231.3" r="2.5" fill="#0070ee"/><circle cx="443.9" cy="226.7" r="2.5" fill="#ac16a7"/><circle cx="428.8" cy="228.7" r="2.5" fill="#db008b"/><circle cx="407.2" cy="226.8" r="2.5" fill="#cf0094"/><circle cx="460.1" cy="222.6" r="2.5" fill="#8443c6"/><circle cx="431.6" cy="215.8" r="2.5" fill="#4b63e3"/><circle cx="427.1" cy="226.4" r="2.5" fill="#ff0057"/><circle cx="412.4" cy="226.5" r="2.5" fill="#0070ee"/><circle cx="426.5" cy="229.7" r="2.5" fill="#fc0062"/><circle cx="435.1" cy="218.3" r="2.5" fill="#f20072"/><circle cx="420.7" cy="228.2" r="2.5" fill="#f20072"/><circle cx="424.8" cy="230.4" r="2.5" fill="#fe005c"/><circle cx="428.5" cy="224.7" r="2.5" fill="#f5006d"/><circle cx="433.1" cy="235.0" r="2.5" fill="#e9007c"/><circle cx="432.5" cy="220.1" r="2.5" fill="#e50081"/><circle cx="421.2" cy="223.2" r="2.5" fill="#ff0057"/><circle cx="439.4" cy="223.2" r="2.5" fill="#e50081"/><circle cx="447.6" cy="228.0" r="2.5" fill="#585edf"/><circle cx="432.8" cy="238.0" r="2.5" fill="#f20072"/><circle cx="429.5" cy="222.9" r="2.5" fill="#fe005c"/><circle cx="446.5" cy="228.2" r="2.5" fill="#a41daa"/><circle cx="450.5" cy="230.6" r="2.5" fill="#962db4"/><circle cx="441.0" cy="219.6" r="2.5" fill="#007cf5"/><circle cx="409.1" cy="226.9" r="2.5" fill="#e00086"/><circle cx="473.8" cy="225.1" r="2.5" fill="#3b68e7"/><circle cx="443.7" cy="228.5" r="2.5" fill="#ac16a7"/><circle cx="422.2" cy="228.7" r="2.5" fill="#ee0077"/><circle cx="448.2" cy="223.0" r="2.5" fill="#6d54d6"/><circle cx="428.3" cy="229.7" r="2.5" fill="#f5006d"/><circle cx="426.9" cy="228.4" r="2.5" fill="#f5006d"/><circle cx="426.7" cy="233.5" r="2.5" fill="#ff0051"/><circle cx="441.7" cy="230.1" r="2.5" fill="#962db4"/><circle cx="435.4" cy="221.5" r="2.5" fill="#db008b"/><circle cx="436.5" cy="233.9" r="2.5" fill="#ac16a7"/><circle cx="435.1" cy="216.0" r="2.5" fill="#f5006d"/><circle cx="436.6" cy="218.2" r="2.5" fill="#fe005c"/><circle cx="434.9" cy="231.6" r="2.5" fill="#fc0062"/><circle cx="427.1" cy="222.0" r="2.5" fill="#f5006d"/><circle cx="483.5" cy="227.0" r="2.5" fill="#0084f9"/><circle cx="447.3" cy="229.7" r="2.5" fill="#8443c6"/><circle cx="437.0" cy="230.3" r="2.5" fill="#ee0077"/><circle cx="422.6" cy="224.9" r="2.5" fill="#fe005c"/><circle cx="440.1" cy="232.3" r="2.5" fill="#c90098"/><circle cx="462.6" cy="226.8" r="2.5" fill="#635adb"/><circle cx="430.7" cy="217.8" r="2.5" fill="#fe005c"/><circle cx="436.9" cy="228.2" r="2.5" fill="#ff0057"/><circle cx="454.5" cy="226.8" r="2.5" fill="#635adb"/><circle cx="410.7" cy="224.9" r="2.5" fill="#fe005c"/><circle cx="427.0" cy="220.1" r="2.5" fill="#fc0062"/><circle cx="434.6" cy="233.7" r="2.5" fill="#f90067"/><circle cx="426.2" cy="225.4" r="2.5" fill="#c2009c"/><circle cx="466.1" cy="228.5" r="2.5" fill="#9b23ad"/><circle cx="441.5" cy="223.4" r="2.5" fill="#c90098"/><circle cx="436.7" cy="238.7" r="2.5" fill="#db008b"/><circle cx="430.9" cy="235.6" r="2.5" fill="#ff0051"/><circle cx="423.2" cy="232.1" r="2.5" fill="#e9007c"/><circle cx="460.2" cy="224.8" r="2.5" fill="#8443c6"/><circle cx="433.6" cy="223.4" r="2.5" fill="#e50081"/><circle cx="424.3" cy="222.7" r="2.5" fill="#db008b"/><circle cx="467.2" cy="225.1" r="2.5" fill="#585edf"/><circle cx="418.0" cy="224.6" r="2.5" fill="#7d49cc"/><circle cx="453.6" cy="228.3" r="2.5" fill="#6d54d6"/><circle cx="456.1" cy="221.9" r="2.5" fill="#3b68e7"/><circle cx="438.9" cy="234.2" r="2.5" fill="#e9007c"/><circle cx="433.5" cy="218.5" r="2.5" fill="#fe005c"/><circle cx="434.5" cy="229.9" r="2.5" fill="#f90067"/><circle cx="424.3" cy="234.2" r="2.5" fill="#c90098"/><circle cx="452.5" cy="223.4" r="2.5" fill="#9135ba"/><circle cx="443.7" cy="230.4" r="2.5" fill="#cf0094"/><circle cx="445.1" cy="230.9" r="2.5" fill="#a41daa"/><circle cx="432.8" cy="231.9" r="2.5" fill="#fe005c"/><circle cx="429.3" cy="233.1" r="2.5" fill="#ff0051"/><circle cx="448.0" cy="231.9" r="2.5" fill="#754fd1"/><circle cx="450.0" cy="228.2" r="2.5" fill="#8443c6"/><circle cx="423.0" cy="230.0" r="2.5" fill="#e50081"/><circle cx="413.4" cy="226.5" r="2.5" fill="#0079f3"/><circle cx="443.9" cy="233.8" r="2.5" fill="#3b68e7"/><circle cx="433.3" cy="226.6" r="2.5" fill="#fc0062"/><circle cx="431.4" cy="221.5" r="2.5" fill="#ff0057"/><circle cx="435.3" cy="219.6" r="2.5" fill="#e50081"/><circle cx="430.6" cy="231.7" r="2.5" fill="#ff0057"/><circle cx="452.2" cy="225.0" r="2.5" fill="#635adb"/><circle cx="462.3" cy="230.3" r="2.5" fill="#635adb"/><circle cx="456.7" cy="230.1" r="2.5" fill="#0070ee"/><circle cx="444.2" cy="218.8" r="2.5" fill="#c2009c"/><circle cx="480.8" cy="226.5" r="2.5" fill="#0084f9"/><circle cx="441.8" cy="224.7" r="2.5" fill="#c2009c"/><circle cx="488.2" cy="227.0" r="2.5" fill="#008bfb"/><circle cx="466.1" cy="226.3" r="2.5" fill="#246cea"/><circle cx="435.5" cy="214.6" r="2.5" fill="#f5006d"/><circle cx="434.8" cy="223.1" r="2.5" fill="#e9007c"/><circle cx="451.6" cy="226.6" r="2.5" fill="#6d54d6"/><circle cx="489.9" cy="226.8" r="2.5" fill="#0084f9"/><circle cx="454.1" cy="224.8" r="2.5" fill="#635adb"/><circle cx="456.0" cy="226.9" r="2.5" fill="#7d49cc"/><circle cx="411.7" cy="224.8" r="2.5" fill="#ff0051"/><circle cx="425.5" cy="225.1" r="2.5" fill="#d5008f"/><circle cx="441.5" cy="233.3" r="2.5" fill="#9b23ad"/><circle cx="430.4" cy="228.6" r="2.5" fill="#fe005c"/><circle cx="456.0" cy="223.4" r="2.5" fill="#754fd1"/><circle cx="435.3" cy="224.8" r="2.5" fill="#9b23ad"/><circle cx="446.1" cy="224.4" r="2.5" fill="#b40ca4"/><circle cx="428.9" cy="227.0" r="2.5" fill="#db008b"/><circle cx="464.6" cy="228.8" r="2.5" fill="#7d49cc"/><circle cx="410.1" cy="228.5" r="2.5" fill="#f5006d"/><circle cx="426.3" cy="231.5" r="2.5" fill="#ff0057"/><circle cx="441.6" cy="231.8" r="2.5" fill="#e9007c"/><circle cx="438.7" cy="217.7" r="2.5" fill="#e50081"/><circle cx="456.1" cy="228.4" r="2.5" fill="#754fd1"/><circle cx="465.3" cy="230.4" r="2.5" fill="#6d54d6"/><circle cx="452.8" cy="231.5" r="2.5" fill="#3b68e7"/><circle cx="440.0" cy="215.4" r="2.5" fill="#9b23ad"/><circle cx="464.0" cy="224.9" r="2.5" fill="#7d49cc"/><circle cx="417.9" cy="222.5" r="2.5" fill="#f90067"/><circle cx="415.4" cy="230.2" r="2.5" fill="#e00086"/><circle cx="480.1" cy="226.4" r="2.5" fill="#0084f9"/><circle cx="432.4" cy="228.6" r="2.5" fill="#fe005c"/><circle cx="459.9" cy="226.6" r="2.5" fill="#3b68e7"/><circle cx="430.8" cy="230.0" r="2.5" fill="#fe005c"/><circle cx="418.0" cy="228.4" r="2.5" fill="#f20072"/><circle cx="472.7" cy="226.5" r="2.5" fill="#0070ee"/><circle cx="433.2" cy="225.0" r="2.5" fill="#9b23ad"/><circle cx="421.0" cy="224.5" r="2.5" fill="#e9007c"/><circle cx="437.2" cy="222.9" r="2.5" fill="#f5006d"/><circle cx="436.7" cy="224.6" r="2.5" fill="#ff0051"/><circle cx="424.6" cy="219.0" r="2.5" fill="#e9007c"/><circle cx="453.6" cy="231.9" r="2.5" fill="#8b3cc0"/><circle cx="473.0" cy="228.1" r="2.5" fill="#0084f9"/><circle cx="467.3" cy="230.0" r="2.5" fill="#8443c6"/><circle cx="442.0" cy="228.1" r="2.5" fill="#c2009c"/><circle cx="454.4" cy="222.7" r="2.5" fill="#0070ee"/><circle cx="432.7" cy="236.3" r="2.5" fill="#f90067"/><circle cx="405.1" cy="226.9" r="2.5" fill="#c2009c"/><circle cx="433.2" cy="229.7" r="2.5" fill="#e9007c"/><circle cx="446.3" cy="222.7" r="2.5" fill="#b40ca4"/><circle cx="440.1" cy="228.6" r="2.5" fill="#9b23ad"/><circle cx="447.9" cy="224.7" r="2.5" fill="#754fd1"/><circle cx="447.9" cy="221.7" r="2.5" fill="#4b63e3"/><circle cx="429.4" cy="235.6" r="2.5" fill="#e9007c"/><circle cx="462.9" cy="225.1" r="2.5" fill="#4b63e3"/><circle cx="418.6" cy="226.5" r="2.5" fill="#f5006d"/><circle cx="424.0" cy="226.5" r="2.5" fill="#007cf5"/><circle cx="437.0" cy="226.5" r="2.5" fill="#db008b"/><circle cx="412.1" cy="228.2" r="2.5" fill="#e00086"/><circle cx="424.4" cy="232.1" r="2.5" fill="#ff0051"/><circle cx="430.7" cy="223.3" r="2.5" fill="#f90067"/><circle cx="427.0" cy="223.3" r="2.5" fill="#f90067"/><circle cx="449.8" cy="222.7" r="2.5" fill="#585edf"/><circle cx="426.4" cy="234.3" r="2.5" fill="#0080f7"/><circle cx="458.4" cy="226.3" r="2.5" fill="#7d49cc"/><circle cx="439.9" cy="237.6" r="2.5" fill="#fe005c"/><circle cx="424.9" cy="221.1" r="2.5" fill="#f5006d"/><circle cx="455.7" cy="225.0" r="2.5" fill="#6d54d6"/><circle cx="439.3" cy="224.8" r="2.5" fill="#ff0051"/><circle cx="421.1" cy="226.8" r="2.5" fill="#f20072"/><circle cx="442.0" cy="226.5" r="2.5" fill="#e50081"/><circle cx="422.5" cy="226.7" r="2.5" fill="#db008b"/><circle cx="435.2" cy="238.3" r="2.5" fill="#ee0077"/><circle cx="437.0" cy="214.6" r="2.5" fill="#ff0051"/><circle cx="437.1" cy="220.1" r="2.5" fill="#ee0077"/><circle cx="453.6" cy="230.0" r="2.5" fill="#754fd1"/><circle cx="462.0" cy="228.2" r="2.5" fill="#246cea"/><circle cx="420.1" cy="230.2" r="2.5" fill="#f20072"/><circle cx="433.9" cy="233.5" r="2.5" fill="#9135ba"/><circle cx="434.7" cy="226.7" r="2.5" fill="#4b63e3"/><circle cx="414.2" cy="229.4" r="2.5" fill="#fe005c"/><circle cx="469.5" cy="229.1" r="2.5" fill="#635adb"/><circle cx="447.9" cy="233.3" r="2.5" fill="#6d54d6"/><circle cx="415.7" cy="228.4" r="2.5" fill="#f5006d"/><circle cx="441.2" cy="235.5" r="2.5" fill="#8b3cc0"/><circle cx="470.6" cy="226.6" r="2.5" fill="#0070ee"/><circle cx="451.8" cy="230.4" r="2.5" fill="#8b3cc0"/><circle cx="434.5" cy="228.4" r="2.5" fill="#f5006d"/><circle cx="435.9" cy="237.0" r="2.5" fill="#fc0062"/><circle cx="449.4" cy="225.1" r="2.5" fill="#754fd1"/><circle cx="457.6" cy="228.6" r="2.5" fill="#3b68e7"/><circle cx="403.0" cy="226.3" r="2.5" fill="#d5008f"/><circle cx="439.9" cy="226.7" r="2.5" fill="#fe005c"/><circle cx="434.4" cy="235.2" r="2.5" fill="#e9007c"/><circle cx="477.9" cy="226.7" r="2.5" fill="#635adb"/><circle cx="431.3" cy="219.3" r="2.5" fill="#ee0077"/><circle cx="458.5" cy="224.8" r="2.5" fill="#8443c6"/><circle cx="424.8" cy="228.1" r="2.5" fill="#ee0077"/><circle cx="438.8" cy="235.7" r="2.5" fill="#ff0051"/><circle cx="456.9" cy="231.2" r="2.5" fill="#8443c6"/><circle cx="419.9" cy="232.0" r="2.5" fill="#cf0094"/><circle cx="437.2" cy="236.6" r="2.5" fill="#f20072"/><circle cx="437.1" cy="221.2" r="2.5" fill="#e9007c"/><circle cx="447.2" cy="226.9" r="2.5" fill="#6d54d6"/><circle cx="450.7" cy="232.1" r="2.5" fill="#962db4"/><circle cx="422.3" cy="223.2" r="2.5" fill="#fc0062"/><circle cx="416.4" cy="223.0" r="2.5" fill="#e9007c"/><circle cx="505.3" cy="226.6" r="2.5" fill="#008bfb"/><circle cx="532.4" cy="226.6" r="2.5" fill="#008bfb"/>
<circle cx="443.3" cy="255.0" r="2.5" fill="#585edf"/><circle cx="450.4" cy="258.1" r="2.5" fill="#754fd1"/><circle cx="416.6" cy="263.1" r="2.5" fill="#b40ca4"/><circle cx="437.1" cy="261.9" r="2.5" fill="#d5008f"/><circle cx="451.4" cy="261.3" r="2.5" fill="#007cf5"/><circle cx="439.6" cy="271.2" r="2.5" fill="#585edf"/><circle cx="444.0" cy="256.1" r="2.5" fill="#9b23ad"/><circle cx="424.5" cy="263.4" r="2.5" fill="#c2009c"/><circle cx="460.0" cy="264.8" r="2.5" fill="#0070ee"/><circle cx="444.9" cy="259.9" r="2.5" fill="#bb00a0"/><circle cx="423.7" cy="266.0" r="2.5" fill="#d5008f"/><circle cx="402.6" cy="263.4" r="2.5" fill="#db008b"/><circle cx="462.8" cy="263.3" r="2.5" fill="#635adb"/><circle cx="424.5" cy="261.0" r="2.5" fill="#0087fa"/><circle cx="434.7" cy="267.4" r="2.5" fill="#c90098"/><circle cx="450.0" cy="266.8" r="2.5" fill="#635adb"/><circle cx="453.3" cy="257.4" r="2.5" fill="#fc0062"/><circle cx="436.5" cy="268.1" r="2.5" fill="#e00086"/><circle cx="411.3" cy="265.6" r="2.5" fill="#e50081"/><circle cx="396.6" cy="263.4" r="2.5" fill="#ff0051"/><circle cx="443.5" cy="269.0" r="2.5" fill="#9b23ad"/><circle cx="417.4" cy="265.9" r="2.5" fill="#e9007c"/><circle cx="447.3" cy="257.4" r="2.5" fill="#7d49cc"/><circle cx="443.5" cy="275.6" r="2.5" fill="#6d54d6"/><circle cx="441.4" cy="261.7" r="2.5" fill="#0080f7"/><circle cx="444.8" cy="253.4" r="2.5" fill="#0075f0"/><circle cx="430.7" cy="260.8" r="2.5" fill="#c2009c"/><circle cx="388.5" cy="263.3" r="2.5" fill="#c2009c"/><circle cx="438.5" cy="259.9" r="2.5" fill="#f90067"/><circle cx="406.8" cy="263.1" r="2.5" fill="#e50081"/><circle cx="447.0" cy="258.8" r="2.5" fill="#4b63e3"/><circle cx="401.5" cy="263.4" r="2.5" fill="#e00086"/><circle cx="439.0" cy="268.9" r="2.5" fill="#0079f3"/><circle cx="453.7" cy="265.2" r="2.5" fill="#6d54d6"/><circle cx="426.8" cy="266.5" r="2.5" fill="#b40ca4"/><circle cx="405.3" cy="262.3" r="2.5" fill="#e50081"/><circle cx="456.2" cy="267.3" r="2.5" fill="#585edf"/><circle cx="409.7" cy="263.8" r="2.5" fill="#e9007c"/><circle cx="446.0" cy="272.4" r="2.5" fill="#9135ba"/><circle cx="438.8" cy="261.9" r="2.5" fill="#007cf5"/><circle cx="426.6" cy="264.8" r="2.5" fill="#e50081"/><circle cx="435.3" cy="265.7" r="2.5" fill="#c90098"/><circle cx="452.2" cy="260.2" r="2.5" fill="#6d54d6"/><circle cx="430.3" cy="266.0" r="2.5" fill="#c2009c"/><circle cx="422.0" cy="260.4" r="2.5" fill="#ac16a7"/><circle cx="447.1" cy="255.3" r="2.5" fill="#ff0057"/><circle cx="451.5" cy="263.1" r="2.5" fill="#8b3cc0"/><circle cx="441.1" cy="270.8" r="2.5" fill="#7d49cc"/><circle cx="447.8" cy="260.4" r="2.5" fill="#bb00a0"/><circle cx="447.7" cy="274.7" r="2.5" fill="#d5008f"/><circle cx="441.9" cy="272.9" r="2.5" fill="#cf0094"/><circle cx="411.6" cy="261.6" r="2.5" fill="#8443c6"/><circle cx="437.2" cy="263.5" r="2.5" fill="#7d49cc"/><circle cx="445.9" cy="257.9" r="2.5" fill="#9b23ad"/><circle cx="444.8" cy="267.1" r="2.5" fill="#3b68e7"/><circle cx="458.2" cy="263.4" r="2.5" fill="#0075f0"/><circle cx="419.7" cy="263.4" r="2.5" fill="#cf0094"/><circle cx="402.6" cy="261.9" r="2.5" fill="#db008b"/><circle cx="428.0" cy="266.3" r="2.5" fill="#d5008f"/><circle cx="450.3" cy="272.0" r="2.5" fill="#b40ca4"/><circle cx="448.2" cy="254.0" r="2.5" fill="#9135ba"/><circle cx="456.0" cy="261.6" r="2.5" fill="#9135ba"/><circle cx="420.6" cy="260.8" r="2.5" fill="#d5008f"/><circle cx="393.1" cy="263.3" r="2.5" fill="#f5006d"/><circle cx="450.2" cy="268.8" r="2.5" fill="#6d54d6"/><circle cx="450.6" cy="256.6" r="2.5" fill="#3b68e7"/><circle cx="413.8" cy="265.9" r="2.5" fill="#e00086"/><circle cx="410.2" cy="265.6" r="2.5" fill="#ff0057"/><circle cx="421.6" cy="266.9" r="2.5" fill="#db008b"/><circle cx="439.3" cy="265.5" r="2.5" fill="#246cea"/><circle cx="456.5" cy="265.5" r="2.5" fill="#0075f0"/><circle cx="452.6" cy="267.1" r="2.5" fill="#3b68e7"/><circle cx="415.8" cy="266.4" r="2.5" fill="#e9007c"/><circle cx="454.7" cy="267.0" r="2.5" fill="#635adb"/><circle cx="443.1" cy="263.3" r="2.5" fill="#0079f3"/><circle cx="456.9" cy="263.5" r="2.5" fill="#9b23ad"/><circle cx="447.3" cy="271.7" r="2.5" fill="#585edf"/><circle cx="441.9" cy="268.8" r="2.5" fill="#9135ba"/><circle cx="443.6" cy="270.5" r="2.5" fill="#3b68e7"/><circle cx="453.8" cy="261.5" r="2.5" fill="#6d54d6"/><circle cx="447.2" cy="261.6" r="2.5" fill="#ac16a7"/><circle cx="407.8" cy="261.9" r="2.5" fill="#bb00a0"/><circle cx="445.3" cy="265.0" r="2.5" fill="#a41daa"/><circle cx="403.4" cy="265.0" r="2.5" fill="#d5008f"/><circle cx="439.1" cy="263.5" r="2.5" fill="#8443c6"/><circle cx="427.1" cy="260.1" r="2.5" fill="#c90098"/><circle cx="429.2" cy="260.6" r="2.5" fill="#c2009c"/><circle cx="439.5" cy="257.5" r="2.5" fill="#ac16a7"/><circle cx="440.6" cy="257.6" r="2.5" fill="#962db4"/><circle cx="444.8" cy="269.0" r="2.5" fill="#f5006d"/><circle cx="439.0" cy="267.1" r="2.5" fill="#ff0057"/><circle cx="452.0" cy="254.1" r="2.5" fill="#0075f0"/><circle cx="447.0" cy="270.0" r="2.5" fill="#0075f0"/><circle cx="405.9" cy="263.3" r="2.5" fill="#e9007c"/><circle cx="441.0" cy="265.5" r="2.5" fill="#ac16a7"/><circle cx="432.5" cy="266.4" r="2.5" fill="#c90098"/><circle cx="425.9" cy="263.2" r="2.5" fill="#d5008f"/><circle cx="429.0" cy="263.9" r="2.5" fill="#e00086"/><circle cx="447.1" cy="273.1" r="2.5" fill="#a41daa"/><circle cx="442.7" cy="252.7" r="2.5" fill="#585edf"/><circle cx="441.2" cy="267.5" r="2.5" fill="#4b63e3"/><circle cx="431.2" cy="263.4" r="2.5" fill="#a41daa"/><circle cx="437.6" cy="265.3" r="2.5" fill="#3b68e7"/><circle cx="443.9" cy="259.8" r="2.5" fill="#246cea"/><circle cx="445.5" cy="254.6" r="2.5" fill="#0079f3"/><circle cx="448.0" cy="265.4" r="2.5" fill="#9b23ad"/><circle cx="405.2" cy="264.7" r="2.5" fill="#db008b"/><circle cx="434.7" cy="263.4" r="2.5" fill="#cf0094"/><circle cx="446.2" cy="273.8" r="2.5" fill="#0070ee"/><circle cx="447.6" cy="268.5" r="2.5" fill="#c2009c"/><circle cx="451.6" cy="269.4" r="2.5" fill="#6d54d6"/><circle cx="451.5" cy="257.6" r="2.5" fill="#8b3cc0"/><circle cx="413.7" cy="263.2" r="2.5" fill="#ff0051"/><circle cx="443.4" cy="274.4" r="2.5" fill="#bb00a0"/><circle cx="444.9" cy="256.8" r="2.5" fill="#bb00a0"/><circle cx="450.5" cy="261.7" r="2.5" fill="#0075f0"/><circle cx="412.1" cy="263.3" r="2.5" fill="#bb00a0"/><circle cx="451.8" cy="265.1" r="2.5" fill="#9b23ad"/><circle cx="393.9" cy="263.7" r="2.5" fill="#f90067"/><circle cx="426.3" cy="262.1" r="2.5" fill="#a41daa"/><circle cx="441.9" cy="255.9" r="2.5" fill="#635adb"/><circle cx="451.3" cy="270.8" r="2.5" fill="#962db4"/><circle cx="437.5" cy="266.9" r="2.5" fill="#9135ba"/><circle cx="445.3" cy="261.5" r="2.5" fill="#6d54d6"/><circle cx="433.1" cy="263.7" r="2.5" fill="#bb00a0"/><circle cx="443.0" cy="258.2" r="2.5" fill="#3b68e7"/><circle cx="451.8" cy="272.9" r="2.5" fill="#9b23ad"/><circle cx="449.3" cy="270.5" r="2.5" fill="#635adb"/><circle cx="417.5" cy="263.8" r="2.5" fill="#c2009c"/><circle cx="398.3" cy="263.4" r="2.5" fill="#ff0051"/><circle cx="440.5" cy="259.9" r="2.5" fill="#4b63e3"/><circle cx="436.3" cy="260.4" r="2.5" fill="#9135ba"/><circle cx="442.1" cy="263.3" r="2.5" fill="#fc0062"/><circle cx="446.0" cy="251.0" r="2.5" fill="#b40ca4"/><circle cx="449.0" cy="265.6" r="2.5" fill="#7d49cc"/><circle cx="447.8" cy="266.6" r="2.5" fill="#635adb"/><circle cx="443.3" cy="267.3" r="2.5" fill="#bb00a0"/><circle cx="451.6" cy="256.3" r="2.5" fill="#f90067"/><circle cx="454.2" cy="259.8" r="2.5" fill="#0075f0"/><circle cx="420.1" cy="266.4" r="2.5" fill="#0084f9"/><circle cx="443.0" cy="265.5" r="2.5" fill="#d5008f"/><circle cx="443.4" cy="272.2" r="2.5" fill="#635adb"/><circle cx="422.2" cy="263.6" r="2.5" fill="#ac16a7"/><circle cx="438.6" cy="255.7" r="2.5" fill="#4b63e3"/><circle cx="422.1" cy="262.0" r="2.5" fill="#c90098"/><circle cx="390.6" cy="263.6" r="2.5" fill="#cf0094"/><circle cx="457.8" cy="266.0" r="2.5" fill="#8b3cc0"/><circle cx="449.9" cy="259.9" r="2.5" fill="#585edf"/><circle cx="443.1" cy="261.7" r="2.5" fill="#8443c6"/><circle cx="407.2" cy="264.8" r="2.5" fill="#b40ca4"/><circle cx="444.8" cy="275.4" r="2.5" fill="#bb00a0"/><circle cx="448.3" cy="263.8" r="2.5" fill="#9b23ad"/><circle cx="434.5" cy="261.6" r="2.5" fill="#962db4"/><circle cx="454.0" cy="269.5" r="2.5" fill="#9b23ad"/><circle cx="421.9" cy="265.1" r="2.5" fill="#db008b"/><circle cx="460.3" cy="263.8" r="2.5" fill="#0087fa"/><circle cx="450.3" cy="263.5" r="2.5" fill="#8b3cc0"/><circle cx="454.7" cy="263.2" r="2.5" fill="#7d49cc"/><circle cx="445.0" cy="270.2" r="2.5" fill="#3b68e7"/><circle cx="445.8" cy="263.9" r="2.5" fill="#6d54d6"/><circle cx="454.8" cy="271.4" r="2.5" fill="#8443c6"/><circle cx="467.5" cy="263.5" r="2.5" fill="#ff0051"/><circle cx="470.9" cy="263.5" r="2.5" fill="#0087fa"/><circle cx="476.7" cy="263.5" r="2.5" fill="#008bfb"/><circle cx="538.7" cy="263.5" r="2.5" fill="#008bfb"/>
<circle cx="434.1" cy="300.6" r="2.5" fill="#d5008f"/><circle cx="430.6" cy="307.4" r="2.5" fill="#246cea"/><circle cx="445.4" cy="298.6" r="2.5" fill="#d5008f"/><circle cx="430.9" cy="310.3" r="2.5" fill="#962db4"/><circle cx="441.4" cy="300.3" r="2.5" fill="#7d49cc"/><circle cx="449.7" cy="300.6" r="2.5" fill="#e50081"/><circle cx="442.7" cy="307.7" r="2.5" fill="#f5006d"/><circle cx="434.8" cy="307.3" r="2.5" fill="#4b63e3"/><circle cx="433.2" cy="288.4" r="2.5" fill="#0079f3"/><circle cx="434.7" cy="290.1" r="2.5" fill="#0075f0"/><circle cx="424.8" cy="295.5" r="2.5" fill="#4b63e3"/><circle cx="431.1" cy="298.9" r="2.5" fill="#6d54d6"/><circle cx="457.4" cy="303.2" r="2.5" fill="#fe005c"/><circle cx="464.0" cy="298.6" r="2.5" fill="#f5006d"/><circle cx="439.0" cy="300.3" r="2.5" fill="#4b63e3"/><circle cx="455.2" cy="303.4" r="2.5" fill="#ff0051"/><circle cx="491.1" cy="300.3" r="2.5" fill="#f20072"/><circle cx="441.0" cy="291.8" r="2.5" fill="#f20072"/><circle cx="461.6" cy="302.1" r="2.5" fill="#e9007c"/><circle cx="457.1" cy="300.1" r="2.5" fill="#f90067"/><circle cx="456.5" cy="301.7" r="2.5" fill="#e9007c"/><circle cx="432.6" cy="301.9" r="2.5" fill="#754fd1"/><circle cx="447.6" cy="300.2" r="2.5" fill="#0084f9"/><circle cx="449.9" cy="303.4" r="2.5" fill="#ac16a7"/><circle cx="441.4" cy="303.9" r="2.5" fill="#9b23ad"/><circle cx="455.1" cy="300.0" r="2.5" fill="#ee0077"/><circle cx="425.5" cy="297.0" r="2.5" fill="#585edf"/><circle cx="459.2" cy="298.2" r="2.5" fill="#ff0057"/><circle cx="449.4" cy="298.3" r="2.5" fill="#ac16a7"/><circle cx="443.4" cy="302.1" r="2.5" fill="#bb00a0"/><circle cx="453.4" cy="296.6" r="2.5" fill="#ff0051"/><circle cx="428.5" cy="298.8" r="2.5" fill="#8443c6"/><circle cx="433.1" cy="298.3" r="2.5" fill="#0070ee"/><circle cx="436.7" cy="302.4" r="2.5" fill="#b40ca4"/><circle cx="421.6" cy="298.4" r="2.5" fill="#585edf"/><circle cx="461.8" cy="298.6" r="2.5" fill="#fe005c"/><circle cx="440.6" cy="309.7" r="2.5" fill="#6d54d6"/><circle cx="420.2" cy="300.3" r="2.5" fill="#4b63e3"/><circle cx="450.1" cy="297.3" r="2.5" fill="#e50081"/><circle cx="430.3" cy="305.3" r="2.5" fill="#962db4"/><circle cx="430.2" cy="291.7" r="2.5" fill="#8b3cc0"/><circle cx="468.1" cy="300.5" r="2.5" fill="#fc0062"/><circle cx="434.2" cy="293.4" r="2.5" fill="#754fd1"/><circle cx="429.1" cy="306.0" r="2.5" fill="#754fd1"/><circle cx="435.2" cy="303.5" r="2.5" fill="#4b63e3"/><circle cx="436.5" cy="288.3" r="2.5" fill="#3b68e7"/><circle cx="426.8" cy="298.3" r="2.5" fill="#246cea"/><circle cx="430.4" cy="303.8" r="2.5" fill="#e00086"/><circle cx="441.8" cy="298.4" r="2.5" fill="#db008b"/><circle cx="434.1" cy="297.3" r="2.5" fill="#7d49cc"/><circle cx="461.5" cy="300.1" r="2.5" fill="#fc0062"/><circle cx="456.1" cy="298.4" r="2.5" fill="#f20072"/><circle cx="431.9" cy="310.2" r="2.5" fill="#246cea"/><circle cx="424.5" cy="298.0" r="2.5" fill="#246cea"/><circle cx="454.0" cy="295.2" r="2.5" fill="#f5006d"/><circle cx="437.0" cy="303.7" r="2.5" fill="#4b63e3"/><circle cx="434.4" cy="288.1" r="2.5" fill="#8443c6"/><circle cx="428.6" cy="304.0" r="2.5" fill="#585edf"/><circle cx="427.8" cy="294.3" r="2.5" fill="#a41daa"/><circle cx="445.7" cy="304.0" r="2.5" fill="#9135ba"/><circle cx="483.0" cy="300.2" r="2.5" fill="#f5006d"/><circle cx="432.1" cy="292.3" r="2.5" fill="#6d54d6"/><circle cx="436.8" cy="312.5" r="2.5" fill="#0079f3"/><circle cx="443.4" cy="293.1" r="2.5" fill="#962db4"/><circle cx="426.9" cy="303.9" r="2.5" fill="#0070ee"/><circle cx="451.2" cy="302.5" r="2.5" fill="#e9007c"/><circle cx="454.2" cy="300.3" r="2.5" fill="#ff0051"/><circle cx="439.7" cy="310.5" r="2.5" fill="#ac16a7"/><circle cx="454.3" cy="303.3" r="2.5" fill="#f90067"/><circle cx="479.5" cy="300.5" r="2.5" fill="#fc0062"/><circle cx="443.6" cy="300.5" r="2.5" fill="#9b23ad"/><circle cx="439.0" cy="305.7" r="2.5" fill="#3b68e7"/><circle cx="464.0" cy="300.1" r="2.5" fill="#fe005c"/><circle cx="438.8" cy="304.2" r="2.5" fill="#fc0062"/><circle cx="444.5" cy="305.8" r="2.5" fill="#d5008f"/><circle cx="422.0" cy="303.0" r="2.5" fill="#635adb"/><circle cx="420.7" cy="302.1" r="2.5" fill="#635adb"/><circle cx="418.4" cy="301.8" r="2.5" fill="#0070ee"/><circle cx="446.0" cy="294.6" r="2.5" fill="#8b3cc0"/><circle cx="432.2" cy="296.8" r="2.5" fill="#754fd1"/><circle cx="452.4" cy="295.9" r="2.5" fill="#f90067"/><circle cx="424.2" cy="302.9" r="2.5" fill="#0070ee"/><circle cx="438.2" cy="312.9" r="2.5" fill="#ff0051"/><circle cx="441.5" cy="306.7" r="2.5" fill="#8443c6"/><circle cx="448.2" cy="294.5" r="2.5" fill="#cf0094"/><circle cx="440.5" cy="297.1" r="2.5" fill="#754fd1"/><circle cx="432.9" cy="308.6" r="2.5" fill="#9b23ad"/><circle cx="485.3" cy="300.2" r="2.5" fill="#f90067"/><circle cx="438.5" cy="295.4" r="2.5" fill="#8b3cc0"/><circle cx="445.2" cy="300.3" r="2.5" fill="#c2009c"/><circle cx="417.1" cy="300.1" r="2.5" fill="#585edf"/><circle cx="439.4" cy="308.7" r="2.5" fill="#7d49cc"/><circle cx="433.1" cy="311.7" r="2.5" fill="#0075f0"/><circle cx="430.3" cy="289.9" r="2.5" fill="#8443c6"/><circle cx="426.3" cy="307.2" r="2.5" fill="#0075f0"/><circle cx="430.3" cy="297.2" r="2.5" fill="#c90098"/><circle cx="435.1" cy="291.8" r="2.5" fill="#e00086"/><circle cx="424.1" cy="305.1" r="2.5" fill="#754fd1"/><circle cx="465.0" cy="302.1" r="2.5" fill="#ee0077"/><circle cx="431.8" cy="303.7" r="2.5" fill="#6d54d6"/><circle cx="419.6" cy="298.0" r="2.5" fill="#0087fa"/><circle cx="447.8" cy="298.5" r="2.5" fill="#cf0094"/><circle cx="433.9" cy="305.2" r="2.5" fill="#0087fa"/><circle cx="448.7" cy="293.6" r="2.5" fill="#7d49cc"/><circle cx="439.6" cy="298.7" r="2.5" fill="#db008b"/><circle cx="443.0" cy="305.7" r="2.5" fill="#8443c6"/><circle cx="446.8" cy="296.6" r="2.5" fill="#0079f3"/><circle cx="429.7" cy="294.8" r="2.5" fill="#754fd1"/><circle cx="443.5" cy="296.4" r="2.5" fill="#e9007c"/><circle cx="440.9" cy="308.8" r="2.5" fill="#ac16a7"/><circle cx="441.3" cy="295.1" r="2.5" fill="#a41daa"/><circle cx="437.1" cy="305.4" r="2.5" fill="#0075f0"/><circle cx="437.1" cy="298.6" r="2.5" fill="#0087fa"/><circle cx="454.0" cy="305.0" r="2.5" fill="#f5006d"/><circle cx="443.7" cy="295.0" r="2.5" fill="#9b23ad"/><circle cx="432.3" cy="290.4" r="2.5" fill="#f20072"/><circle cx="439.3" cy="290.1" r="2.5" fill="#246cea"/><circle cx="436.2" cy="289.9" r="2.5" fill="#0075f0"/><circle cx="434.0" cy="310.8" r="2.5" fill="#6d54d6"/><circle cx="430.9" cy="300.7" r="2.5" fill="#0080f7"/><circle cx="451.6" cy="300.6" r="2.5" fill="#e00086"/><circle cx="487.1" cy="300.5" r="2.5" fill="#f5006d"/><circle cx="460.2" cy="300.3" r="2.5" fill="#ee0077"/><circle cx="432.2" cy="305.4" r="2.5" fill="#8b3cc0"/><circle cx="437.4" cy="310.2" r="2.5" fill="#0079f3"/><circle cx="445.5" cy="307.2" r="2.5" fill="#cf0094"/><circle cx="448.0" cy="293.2" r="2.5" fill="#a41daa"/><circle cx="421.6" cy="300.0" r="2.5" fill="#754fd1"/><circle cx="440.3" cy="305.5" r="2.5" fill="#cf0094"/><circle cx="432.9" cy="293.7" r="2.5" fill="#754fd1"/><circle cx="439.5" cy="302.2" r="2.5" fill="#b40ca4"/><circle cx="480.6" cy="300.2" r="2.5" fill="#e9007c"/><circle cx="435.4" cy="298.3" r="2.5" fill="#0080f7"/><circle cx="470.3" cy="300.2" r="2.5" fill="#ee0077"/><circle cx="439.6" cy="297.1" r="2.5" fill="#7d49cc"/><circle cx="430.4" cy="301.7" r="2.5" fill="#962db4"/><circle cx="449.9" cy="307.3" r="2.5" fill="#9b23ad"/><circle cx="447.8" cy="302.0" r="2.5" fill="#d5008f"/><circle cx="436.4" cy="309.0" r="2.5" fill="#ac16a7"/><circle cx="434.9" cy="294.9" r="2.5" fill="#9135ba"/><circle cx="436.4" cy="291.9" r="2.5" fill="#d5008f"/><circle cx="436.1" cy="295.3" r="2.5" fill="#8b3cc0"/><circle cx="466.7" cy="301.6" r="2.5" fill="#ee0077"/><circle cx="451.3" cy="304.3" r="2.5" fill="#f90067"/><circle cx="446.9" cy="307.9" r="2.5" fill="#a41daa"/><circle cx="472.6" cy="300.6" r="2.5" fill="#ff0051"/><circle cx="427.6" cy="300.5" r="2.5" fill="#962db4"/><circle cx="454.1" cy="299.0" r="2.5" fill="#fc0062"/><circle cx="452.2" cy="306.6" r="2.5" fill="#f5006d"/><circle cx="454.0" cy="301.7" r="2.5" fill="#f5006d"/><circle cx="430.0" cy="293.7" r="2.5" fill="#4b63e3"/><circle cx="428.6" cy="307.4" r="2.5" fill="#8443c6"/><circle cx="475.3" cy="300.1" r="2.5" fill="#ff0057"/><circle cx="437.4" cy="307.1" r="2.5" fill="#635adb"/><circle cx="434.3" cy="311.9" r="2.5" fill="#6d54d6"/><circle cx="421.6" cy="301.7" r="2.5" fill="#007cf5"/><circle cx="447.0" cy="305.8" r="2.5" fill="#ac16a7"/><circle cx="426.0" cy="302.3" r="2.5" fill="#7d49cc"/><circle cx="445.6" cy="296.7" r="2.5" fill="#f90067"/><circle cx="428.4" cy="302.2" r="2.5" fill="#0080f7"/><circle cx="439.2" cy="292.0" r="2.5" fill="#9135ba"/><circle cx="459.6" cy="302.4" r="2.5" fill="#f5006d"/><circle cx="433.2" cy="307.3" r="2.5" fill="#0070ee"/><circle cx="429.1" cy="296.2" r="2.5" fill="#ee0077"/><circle cx="434.5" cy="302.1" r="2.5" fill="#0084f9"/><circle cx="429.9" cy="308.9" r="2.5" fill="#0079f3"/><circle cx="443.5" cy="298.7" r="2.5" fill="#754fd1"/><circle cx="449.5" cy="305.1" r="2.5" fill="#e00086"/><circle cx="450.2" cy="301.9" r="2.5" fill="#e9007c"/><circle cx="449.3" cy="295.0" r="2.5" fill="#cf0094"/><circle cx="490.3" cy="300.1" r="2.5" fill="#f90067"/><circle cx="425.7" cy="293.1" r="2.5" fill="#e50081"/><circle cx="434.5" cy="308.7" r="2.5" fill="#754fd1"/><circle cx="425.9" cy="305.1" r="2.5" fill="#9135ba"/><circle cx="448.1" cy="303.9" r="2.5" fill="#f20072"/><circle cx="446.0" cy="302.3" r="2.5" fill="#b40ca4"/><circle cx="440.5" cy="301.9" r="2.5" fill="#ac16a7"/><circle cx="424.4" cy="300.4" r="2.5" fill="#3b68e7"/><circle cx="417.1" cy="299.2" r="2.5" fill="#8b3cc0"/><circle cx="439.6" cy="307.0" r="2.5" fill="#0075f0"/><circle cx="437.3" cy="299.9" r="2.5" fill="#3b68e7"/><circle cx="431.8" cy="295.0" r="2.5" fill="#4b63e3"/><circle cx="441.6" cy="294.0" r="2.5" fill="#962db4"/><circle cx="436.6" cy="293.8" r="2.5" fill="#635adb"/><circle cx="432.6" cy="300.4" r="2.5" fill="#0084f9"/><circle cx="426.9" cy="294.9" r="2.5" fill="#6d54d6"/><circle cx="451.2" cy="298.2" r="2.5" fill="#e9007c"/><circle cx="436.5" cy="296.7" r="2.5" fill="#008bfb"/><circle cx="467.0" cy="300.3" r="2.5" fill="#f5006d"/><circle cx="438.3" cy="293.1" r="2.5" fill="#0070ee"/><circle cx="476.4" cy="300.3" r="2.5" fill="#fe005c"/><circle cx="427.0" cy="300.1" r="2.5" fill="#9135ba"/><circle cx="442.4" cy="304.0" r="2.5" fill="#9b23ad"/><circle cx="404.8" cy="300.3" r="2.5" fill="#635adb"/><circle cx="412.4" cy="300.3" r="2.5" fill="#0087fa"/><circle cx="475.9" cy="300.3" r="2.5" fill="#0084f9"/><circle cx="486.4" cy="300.3" r="2.5" fill="#0084f9"/><circle cx="491.2" cy="300.3" r="2.5" fill="#ff0051"/>
<circle cx="339.7" cy="336.8" r="2.5" fill="#ff0051"/><circle cx="336.6" cy="337.5" r="2.5" fill="#ff0051"/><circle cx="309.8" cy="337.0" r="2.5" fill="#ff0051"/><circle cx="316.6" cy="337.1" r="2.5" fill="#ff0051"/><circle cx="326.0" cy="337.0" r="2.5" fill="#ff0051"/><circle cx="323.1" cy="337.1" r="2.5" fill="#ff0051"/><circle cx="314.2" cy="337.1" r="2.5" fill="#ff0051"/><circle cx="319.6" cy="337.3" r="2.5" fill="#ff0051"/><circle cx="328.3" cy="336.9" r="2.5" fill="#ff0051"/><circle cx="330.6" cy="337.3" r="2.5" fill="#ff0051"/><circle cx="312.6" cy="337.3" r="2.5" fill="#ff0051"/><circle cx="318.2" cy="337.0" r="2.5" fill="#ff0051"/><circle cx="334.5" cy="337.0" r="2.5" fill="#ff0051"/><circle cx="332.2" cy="337.5" r="2.5" fill="#ff0051"/><circle cx="324.4" cy="336.9" r="2.5" fill="#ff0051"/><circle cx="296.0" cy="337.1" r="2.5" fill="#ff0051"/><circle cx="345.4" cy="337.1" r="2.5" fill="#ff0051"/><circle cx="348.0" cy="337.1" r="2.5" fill="#ff0051"/><circle cx="350.7" cy="337.1" r="2.5" fill="#ff0051"/><circle cx="354.6" cy="337.1" r="2.5" fill="#ff0051"/><circle cx="361.7" cy="337.1" r="2.5" fill="#ff0051"/><circle cx="364.5" cy="337.1" r="2.5" fill="#ff0051"/><circle cx="367.8" cy="337.1" r="2.5" fill="#ff0051"/><circle cx="438.0" cy="337.1" r="2.5" fill="#008bfb"/><circle cx="445.1" cy="324.0" r="2.5" fill="#008bfb"/><circle cx="445.7" cy="325.0" r="2.5" fill="#008bfb"/><circle cx="446.3" cy="325.9" r="2.5" fill="#008bfb"/><circle cx="445.1" cy="326.8" r="2.5" fill="#008bfb"/><circle cx="445.7" cy="327.7" r="2.5" fill="#008bfb"/><circle cx="446.3" cy="328.6" r="2.5" fill="#008bfb"/><circle cx="445.1" cy="329.5" r="2.5" fill="#008bfb"/><circle cx="445.7" cy="330.4" r="2.5" fill="#008bfb"/><circle cx="446.3" cy="331.3" r="2.5" fill="#008bfb"/><circle cx="445.1" cy="332.2" r="2.5" fill="#008bfb"/><circle cx="445.7" cy="333.1" r="2.5" fill="#008bfb"/><circle cx="446.3" cy="334.1" r="2.5" fill="#008bfb"/><circle cx="445.1" cy="335.0" r="2.5" fill="#008bfb"/><circle cx="445.7" cy="335.9" r="2.5" fill="#008bfb"/><circle cx="446.3" cy="336.8" r="2.5" fill="#008bfb"/><circle cx="445.1" cy="337.7" r="2.5" fill="#008bfb"/><circle cx="445.7" cy="338.6" r="2.5" fill="#008bfb"/><circle cx="446.3" cy="339.5" r="2.5" fill="#008bfb"/><circle cx="445.1" cy="340.4" r="2.5" fill="#008bfb"/><circle cx="445.7" cy="341.3" r="2.5" fill="#008bfb"/><circle cx="446.3" cy="342.2" r="2.5" fill="#008bfb"/><circle cx="445.1" cy="343.2" r="2.5" fill="#008bfb"/><circle cx="445.7" cy="344.1" r="2.5" fill="#008bfb"/><circle cx="446.3" cy="345.0" r="2.5" fill="#008bfb"/><circle cx="445.1" cy="345.9" r="2.5" fill="#008bfb"/><circle cx="445.7" cy="346.8" r="2.5" fill="#008bfb"/><circle cx="446.3" cy="347.7" r="2.5" fill="#008bfb"/><circle cx="445.1" cy="348.6" r="2.5" fill="#008bfb"/><circle cx="445.7" cy="349.5" r="2.5" fill="#008bfb"/><circle cx="446.3" cy="350.4" r="2.5" fill="#008bfb"/><circle cx="443.7" cy="331.1" r="2.5" fill="#008bfb"/><circle cx="443.7" cy="332.6" r="2.5" fill="#008bfb"/><circle cx="443.7" cy="334.1" r="2.5" fill="#008bfb"/><circle cx="443.7" cy="335.6" r="2.5" fill="#008bfb"/><circle cx="443.7" cy="337.1" r="2.5" fill="#008bfb"/><circle cx="443.7" cy="338.6" r="2.5" fill="#008bfb"/><circle cx="443.7" cy="340.1" r="2.5" fill="#008bfb"/><circle cx="443.7" cy="341.6" r="2.5" fill="#008bfb"/><circle cx="443.7" cy="343.1" r="2.5" fill="#008bfb"/><circle cx="447.6" cy="331.1" r="2.5" fill="#008bfb"/><circle cx="447.6" cy="332.6" r="2.5" fill="#008bfb"/><circle cx="447.6" cy="334.1" r="2.5" fill="#008bfb"/><circle cx="447.6" cy="335.6" r="2.5" fill="#008bfb"/><circle cx="447.6" cy="337.1" r="2.5" fill="#008bfb"/><circle cx="447.6" cy="338.6" r="2.5" fill="#008bfb"/><circle cx="447.6" cy="340.1" r="2.5" fill="#008bfb"/><circle cx="447.6" cy="341.6" r="2.5" fill="#008bfb"/><circle cx="447.6" cy="343.1" r="2.5" fill="#008bfb"/><circle cx="441.8" cy="335.1" r="2.5" fill="#008bfb"/><circle cx="441.8" cy="337.1" r="2.5" fill="#008bfb"/><circle cx="441.8" cy="339.1" r="2.5" fill="#008bfb"/><circle cx="449.0" cy="335.1" r="2.5" fill="#008bfb"/><circle cx="449.0" cy="337.1" r="2.5" fill="#008bfb"/><circle cx="449.0" cy="339.1" r="2.5" fill="#008bfb"/>
<circle cx="429.0" cy="370.1" r="2.5" fill="#3b68e7"/><circle cx="423.6" cy="374.0" r="2.5" fill="#008bfb"/><circle cx="424.8" cy="375.4" r="2.5" fill="#a41daa"/><circle cx="449.9" cy="370.2" r="2.5" fill="#a41daa"/><circle cx="440.4" cy="370.3" r="2.5" fill="#9135ba"/><circle cx="471.7" cy="373.7" r="2.5" fill="#ff0051"/><circle cx="448.4" cy="380.1" r="2.5" fill="#e9007c"/><circle cx="446.5" cy="363.3" r="2.5" fill="#f5006d"/><circle cx="417.4" cy="374.3" r="2.5" fill="#008bfb"/><circle cx="440.4" cy="374.1" r="2.5" fill="#b40ca4"/><circle cx="446.8" cy="368.6" r="2.5" fill="#e9007c"/><circle cx="457.1" cy="373.7" r="2.5" fill="#ff0051"/><circle cx="441.7" cy="368.7" r="2.5" fill="#7d49cc"/><circle cx="444.3" cy="382.8" r="2.5" fill="#ff0051"/><circle cx="429.8" cy="377.6" r="2.5" fill="#008bfb"/><circle cx="439.8" cy="372.1" r="2.5" fill="#962db4"/><circle cx="447.9" cy="378.7" r="2.5" fill="#bb00a0"/><circle cx="436.4" cy="379.7" r="2.5" fill="#9135ba"/><circle cx="421.0" cy="372.1" r="2.5" fill="#0080f7"/><circle cx="435.4" cy="375.9" r="2.5" fill="#a41daa"/><circle cx="424.5" cy="378.5" r="2.5" fill="#a41daa"/><circle cx="446.5" cy="364.8" r="2.5" fill="#ff0051"/><circle cx="452.7" cy="368.0" r="2.5" fill="#db008b"/><circle cx="422.9" cy="378.5" r="2.5" fill="#007cf5"/><circle cx="421.0" cy="377.6" r="2.5" fill="#962db4"/><circle cx="441.3" cy="377.7" r="2.5" fill="#ac16a7"/><circle cx="443.8" cy="373.7" r="2.5" fill="#a41daa"/><circle cx="435.8" cy="377.5" r="2.5" fill="#754fd1"/><circle cx="448.0" cy="383.7" r="2.5" fill="#ff0051"/><circle cx="435.2" cy="374.0" r="2.5" fill="#7d49cc"/><circle cx="442.7" cy="374.1" r="2.5" fill="#cf0094"/><circle cx="436.0" cy="370.1" r="2.5" fill="#9b23ad"/><circle cx="441.6" cy="363.3" r="2.5" fill="#007cf5"/><circle cx="448.3" cy="367.7" r="2.5" fill="#ff0051"/><circle cx="423.8" cy="375.8" r="2.5" fill="#0075f0"/><circle cx="427.6" cy="371.9" r="2.5" fill="#0075f0"/><circle cx="446.6" cy="370.7" r="2.5" fill="#bb00a0"/><circle cx="447.5" cy="375.9" r="2.5" fill="#ee0077"/><circle cx="442.1" cy="384.6" r="2.5" fill="#ee0077"/><circle cx="414.6" cy="375.5" r="2.5" fill="#246cea"/><circle cx="412.4" cy="374.2" r="2.5" fill="#a41daa"/><circle cx="437.7" cy="365.7" r="2.5" fill="#585edf"/><circle cx="447.7" cy="369.3" r="2.5" fill="#e9007c"/><circle cx="467.3" cy="374.0" r="2.5" fill="#ff0051"/><circle cx="414.7" cy="373.7" r="2.5" fill="#0070ee"/><circle cx="454.4" cy="372.6" r="2.5" fill="#f90067"/><circle cx="443.3" cy="377.8" r="2.5" fill="#c2009c"/><circle cx="452.2" cy="378.1" r="2.5" fill="#e50081"/><circle cx="439.8" cy="383.1" r="2.5" fill="#962db4"/><circle cx="424.9" cy="377.1" r="2.5" fill="#585edf"/><circle cx="441.3" cy="380.8" r="2.5" fill="#ee0077"/><circle cx="433.3" cy="375.7" r="2.5" fill="#754fd1"/><circle cx="439.0" cy="379.7" r="2.5" fill="#4b63e3"/><circle cx="446.4" cy="375.6" r="2.5" fill="#f5006d"/><circle cx="443.6" cy="386.5" r="2.5" fill="#a41daa"/><circle cx="441.8" cy="367.4" r="2.5" fill="#ee0077"/><circle cx="465.3" cy="373.6" r="2.5" fill="#ff0057"/><circle cx="430.6" cy="370.2" r="2.5" fill="#635adb"/><circle cx="433.0" cy="373.9" r="2.5" fill="#6d54d6"/><circle cx="427.8" cy="373.8" r="2.5" fill="#0079f3"/><circle cx="446.8" cy="379.4" r="2.5" fill="#ff0051"/><circle cx="455.1" cy="375.9" r="2.5" fill="#fe005c"/><circle cx="459.0" cy="372.8" r="2.5" fill="#ff0051"/><circle cx="443.7" cy="380.9" r="2.5" fill="#c2009c"/><circle cx="452.0" cy="373.6" r="2.5" fill="#e00086"/><circle cx="442.2" cy="365.8" r="2.5" fill="#9135ba"/><circle cx="442.0" cy="379.0" r="2.5" fill="#c2009c"/><circle cx="438.1" cy="372.3" r="2.5" fill="#246cea"/><circle cx="449.5" cy="383.1" r="2.5" fill="#fc0062"/><circle cx="427.2" cy="379.8" r="2.5" fill="#0087fa"/><circle cx="427.2" cy="367.9" r="2.5" fill="#0070ee"/><circle cx="425.7" cy="369.3" r="2.5" fill="#635adb"/><circle cx="440.4" cy="366.7" r="2.5" fill="#ff0051"/><circle cx="435.3" cy="366.6" r="2.5" fill="#585edf"/><circle cx="447.8" cy="372.3" r="2.5" fill="#f90067"/><circle cx="444.4" cy="370.5" r="2.5" fill="#cf0094"/><circle cx="450.7" cy="364.3" r="2.5" fill="#f90067"/><circle cx="438.0" cy="369.3" r="2.5" fill="#fc0062"/><circle cx="443.6" cy="379.3" r="2.5" fill="#fe005c"/><circle cx="437.9" cy="367.5" r="2.5" fill="#585edf"/><circle cx="433.6" cy="378.7" r="2.5" fill="#7d49cc"/><circle cx="436.2" cy="382.0" r="2.5" fill="#6d54d6"/><circle cx="439.7" cy="365.3" r="2.5" fill="#962db4"/><circle cx="445.5" cy="383.2" r="2.5" fill="#ac16a7"/><circle cx="431.9" cy="379.5" r="2.5" fill="#c2009c"/><circle cx="446.2" cy="377.5" r="2.5" fill="#fc0062"/><circle cx="422.4" cy="371.9" r="2.5" fill="#0087fa"/><circle cx="438.3" cy="370.7" r="2.5" fill="#8443c6"/><circle cx="423.4" cy="369.9" r="2.5" fill="#0075f0"/><circle cx="420.6" cy="373.9" r="2.5" fill="#008bfb"/><circle cx="443.4" cy="363.7" r="2.5" fill="#9135ba"/><circle cx="450.6" cy="366.1" r="2.5" fill="#ff0051"/><circle cx="426.9" cy="378.2" r="2.5" fill="#6d54d6"/><circle cx="451.1" cy="368.1" r="2.5" fill="#c90098"/><circle cx="447.9" cy="376.9" r="2.5" fill="#ff0051"/><circle cx="448.6" cy="365.7" r="2.5" fill="#e50081"/><circle cx="451.0" cy="372.2" r="2.5" fill="#f20072"/><circle cx="426.8" cy="369.8" r="2.5" fill="#3b68e7"/><circle cx="448.9" cy="371.0" r="2.5" fill="#fe005c"/><circle cx="443.5" cy="368.9" r="2.5" fill="#cf0094"/><circle cx="447.9" cy="374.1" r="2.5" fill="#e9007c"/><circle cx="436.9" cy="380.7" r="2.5" fill="#8b3cc0"/><circle cx="448.7" cy="382.0" r="2.5" fill="#db008b"/><circle cx="451.9" cy="372.2" r="2.5" fill="#e00086"/><circle cx="445.6" cy="371.9" r="2.5" fill="#fc0062"/><circle cx="438.1" cy="375.4" r="2.5" fill="#0075f0"/><circle cx="419.0" cy="376.4" r="2.5" fill="#008bfb"/><circle cx="434.2" cy="370.9" r="2.5" fill="#7d49cc"/><circle cx="438.0" cy="378.7" r="2.5" fill="#c2009c"/><circle cx="454.0" cy="374.3" r="2.5" fill="#bb00a0"/><circle cx="451.8" cy="369.7" r="2.5" fill="#fc0062"/><circle cx="458.7" cy="373.9" r="2.5" fill="#fc0062"/><circle cx="429.7" cy="369.0" r="2.5" fill="#635adb"/><circle cx="453.0" cy="380.2" r="2.5" fill="#db008b"/><circle cx="429.2" cy="379.1" r="2.5" fill="#246cea"/><circle cx="451.7" cy="375.8" r="2.5" fill="#ee0077"/><circle cx="439.1" cy="377.7" r="2.5" fill="#8443c6"/><circle cx="433.2" cy="369.3" r="2.5" fill="#8b3cc0"/><circle cx="428.6" cy="373.6" r="2.5" fill="#9135ba"/><circle cx="437.5" cy="382.4" r="2.5" fill="#9135ba"/><circle cx="461.6" cy="373.7" r="2.5" fill="#fe005c"/><circle cx="444.1" cy="372.3" r="2.5" fill="#f90067"/><circle cx="439.9" cy="381.4" r="2.5" fill="#b40ca4"/><circle cx="424.5" cy="373.8" r="2.5" fill="#3b68e7"/><circle cx="424.5" cy="371.1" r="2.5" fill="#4b63e3"/><circle cx="433.4" cy="380.1" r="2.5" fill="#6d54d6"/><circle cx="430.9" cy="371.9" r="2.5" fill="#ac16a7"/><circle cx="434.1" cy="372.1" r="2.5" fill="#6d54d6"/><circle cx="420.8" cy="370.3" r="2.5" fill="#7d49cc"/><circle cx="450.8" cy="375.7" r="2.5" fill="#c90098"/><circle cx="439.5" cy="363.1" r="2.5" fill="#8b3cc0"/><circle cx="446.6" cy="384.8" r="2.5" fill="#3b68e7"/><circle cx="418.0" cy="374.1" r="2.5" fill="#3b68e7"/><circle cx="450.7" cy="379.9" r="2.5" fill="#a41daa"/><circle cx="455.3" cy="370.8" r="2.5" fill="#fe005c"/><circle cx="441.3" cy="375.6" r="2.5" fill="#c2009c"/><circle cx="439.2" cy="375.5" r="2.5" fill="#bb00a0"/><circle cx="406.1" cy="374.0" r="2.5" fill="#6d54d6"/><circle cx="446.8" cy="386.2" r="2.5" fill="#ff0051"/><circle cx="469.1" cy="373.9" r="2.5" fill="#fe005c"/><circle cx="431.1" cy="373.9" r="2.5" fill="#8443c6"/><circle cx="443.9" cy="376.1" r="2.5" fill="#962db4"/><circle cx="442.0" cy="382.3" r="2.5" fill="#8b3cc0"/><circle cx="404.0" cy="374.0" r="2.5" fill="#6d54d6"/><circle cx="441.2" cy="370.9" r="2.5" fill="#e00086"/><circle cx="447.8" cy="364.3" r="2.5" fill="#fe005c"/><circle cx="450.4" cy="377.6" r="2.5" fill="#b40ca4"/><circle cx="433.7" cy="377.0" r="2.5" fill="#754fd1"/><circle cx="431.6" cy="376.2" r="2.5" fill="#962db4"/><circle cx="441.5" cy="372.0" r="2.5" fill="#635adb"/><circle cx="408.1" cy="374.0" r="2.5" fill="#9135ba"/><circle cx="437.2" cy="374.0" r="2.5" fill="#635adb"/><circle cx="456.3" cy="375.4" r="2.5" fill="#fe005c"/><circle cx="429.9" cy="372.2" r="2.5" fill="#0084f9"/><circle cx="415.9" cy="375.7" r="2.5" fill="#0087fa"/><circle cx="449.8" cy="373.7" r="2.5" fill="#ff0051"/><circle cx="431.2" cy="377.9" r="2.5" fill="#585edf"/><circle cx="445.3" cy="374.1" r="2.5" fill="#0070ee"/><circle cx="424.5" cy="372.2" r="2.5" fill="#008bfb"/><circle cx="446.8" cy="367.2" r="2.5" fill="#f5006d"/><circle cx="436.2" cy="368.3" r="2.5" fill="#bb00a0"/><circle cx="443.9" cy="384.2" r="2.5" fill="#d5008f"/><circle cx="462.5" cy="374.3" r="2.5" fill="#ff0057"/><circle cx="414.6" cy="372.4" r="2.5" fill="#0087fa"/><circle cx="439.6" cy="368.4" r="2.5" fill="#9135ba"/><circle cx="436.1" cy="372.3" r="2.5" fill="#7d49cc"/><circle cx="443.9" cy="362.1" r="2.5" fill="#ac16a7"/><circle cx="411.0" cy="374.1" r="2.5" fill="#007cf5"/><circle cx="455.3" cy="377.8" r="2.5" fill="#ff0057"/><circle cx="456.5" cy="372.5" r="2.5" fill="#ff0051"/><circle cx="459.3" cy="374.8" r="2.5" fill="#f90067"/><circle cx="444.6" cy="364.9" r="2.5" fill="#6d54d6"/><circle cx="429.1" cy="375.6" r="2.5" fill="#7d49cc"/><circle cx="426.9" cy="376.2" r="2.5" fill="#0080f7"/><circle cx="450.9" cy="381.7" r="2.5" fill="#ff0051"/><circle cx="440.3" cy="384.9" r="2.5" fill="#c90098"/><circle cx="438.5" cy="376.9" r="2.5" fill="#0080f7"/><circle cx="444.3" cy="367.0" r="2.5" fill="#b40ca4"/><circle cx="445.4" cy="380.8" r="2.5" fill="#0080f7"/><circle cx="421.5" cy="375.5" r="2.5" fill="#0075f0"/>
<circle cx="428.9" cy="412.3" r="2.5" fill="#a41daa"/><circle cx="429.2" cy="414.4" r="2.5" fill="#0080f7"/><circle cx="441.0" cy="409.4" r="2.5" fill="#9135ba"/><circle cx="466.5" cy="410.6" r="2.5" fill="#ff0051"/><circle cx="444.8" cy="405.7" r="2.5" fill="#fc0062"/><circle cx="441.2" cy="421.0" r="2.5" fill="#fc0062"/><circle cx="446.6" cy="410.6" r="2.5" fill="#e9007c"/><circle cx="447.5" cy="414.3" r="2.5" fill="#b40ca4"/><circle cx="441.8" cy="417.7" r="2.5" fill="#ac16a7"/><circle cx="449.1" cy="414.1" r="2.5" fill="#a41daa"/><circle cx="444.9" cy="403.5" r="2.5" fill="#db008b"/><circle cx="436.3" cy="412.3" r="2.5" fill="#6d54d6"/><circle cx="439.4" cy="400.5" r="2.5" fill="#0075f0"/><circle cx="459.4" cy="410.6" r="2.5" fill="#ff0057"/><circle cx="436.4" cy="417.9" r="2.5" fill="#9135ba"/><circle cx="447.7" cy="412.8" r="2.5" fill="#6d54d6"/><circle cx="426.2" cy="412.9" r="2.5" fill="#0087fa"/><circle cx="438.6" cy="402.2" r="2.5" fill="#9135ba"/><circle cx="455.8" cy="409.2" r="2.5" fill="#8b3cc0"/><circle cx="449.1" cy="416.2" r="2.5" fill="#6d54d6"/><circle cx="451.2" cy="412.6" r="2.5" fill="#962db4"/><circle cx="439.3" cy="410.9" r="2.5" fill="#c2009c"/><circle cx="439.5" cy="419.3" r="2.5" fill="#9b23ad"/><circle cx="440.4" cy="418.8" r="2.5" fill="#8b3cc0"/><circle cx="440.5" cy="415.8" r="2.5" fill="#ac16a7"/><circle cx="481.1" cy="410.6" r="2.5" fill="#ff0051"/><circle cx="462.6" cy="410.4" r="2.5" fill="#fc0062"/><circle cx="451.3" cy="409.1" r="2.5" fill="#c90098"/><circle cx="445.4" cy="408.8" r="2.5" fill="#962db4"/><circle cx="443.0" cy="420.7" r="2.5" fill="#7d49cc"/><circle cx="434.9" cy="404.1" r="2.5" fill="#6d54d6"/><circle cx="439.8" cy="398.5" r="2.5" fill="#e9007c"/><circle cx="439.7" cy="417.7" r="2.5" fill="#c2009c"/><circle cx="435.1" cy="405.6" r="2.5" fill="#a41daa"/><circle cx="449.8" cy="410.9" r="2.5" fill="#f90067"/><circle cx="431.1" cy="408.8" r="2.5" fill="#8b3cc0"/><circle cx="442.7" cy="413.0" r="2.5" fill="#fc0062"/><circle cx="445.9" cy="415.9" r="2.5" fill="#0079f3"/><circle cx="441.6" cy="411.0" r="2.5" fill="#b40ca4"/><circle cx="484.9" cy="410.5" r="2.5" fill="#fc0062"/><circle cx="429.9" cy="411.0" r="2.5" fill="#bb00a0"/><circle cx="436.8" cy="421.8" r="2.5" fill="#db008b"/><circle cx="443.8" cy="402.9" r="2.5" fill="#cf0094"/><circle cx="411.8" cy="410.8" r="2.5" fill="#0080f7"/><circle cx="407.0" cy="410.8" r="2.5" fill="#0087fa"/><circle cx="482.5" cy="410.4" r="2.5" fill="#fc0062"/><circle cx="433.4" cy="405.6" r="2.5" fill="#f20072"/><circle cx="434.5" cy="400.4" r="2.5" fill="#8443c6"/><circle cx="443.5" cy="406.7" r="2.5" fill="#0075f0"/><circle cx="436.4" cy="399.8" r="2.5" fill="#c90098"/><circle cx="458.3" cy="410.5" r="2.5" fill="#ff0051"/><circle cx="437.1" cy="410.5" r="2.5" fill="#9b23ad"/><circle cx="430.9" cy="405.8" r="2.5" fill="#008bfb"/><circle cx="447.4" cy="409.0" r="2.5" fill="#c90098"/><circle cx="433.1" cy="416.2" r="2.5" fill="#d5008f"/><circle cx="435.2" cy="416.1" r="2.5" fill="#ac16a7"/><circle cx="438.8" cy="422.8" r="2.5" fill="#635adb"/><circle cx="444.5" cy="414.6" r="2.5" fill="#635adb"/><circle cx="443.9" cy="409.2" r="2.5" fill="#bb00a0"/><circle cx="434.9" cy="407.7" r="2.5" fill="#962db4"/><circle cx="438.3" cy="415.8" r="2.5" fill="#bb00a0"/><circle cx="405.3" cy="411.2" r="2.5" fill="#0080f7"/><circle cx="432.7" cy="409.2" r="2.5" fill="#bb00a0"/><circle cx="437.4" cy="416.1" r="2.5" fill="#a41daa"/><circle cx="449.4" cy="409.3" r="2.5" fill="#cf0094"/><circle cx="469.0" cy="410.9" r="2.5" fill="#ff0057"/><circle cx="445.6" cy="412.5" r="2.5" fill="#0070ee"/><circle cx="430.4" cy="415.6" r="2.5" fill="#0070ee"/><circle cx="409.5" cy="411.0" r="2.5" fill="#0087fa"/><circle cx="445.9" cy="407.4" r="2.5" fill="#8b3cc0"/><circle cx="445.4" cy="417.8" r="2.5" fill="#bb00a0"/><circle cx="451.8" cy="410.9" r="2.5" fill="#9135ba"/><circle cx="477.1" cy="410.7" r="2.5" fill="#ff0051"/><circle cx="432.3" cy="410.6" r="2.5" fill="#246cea"/><circle cx="445.8" cy="411.2" r="2.5" fill="#c90098"/><circle cx="432.4" cy="414.0" r="2.5" fill="#c90098"/><circle cx="438.4" cy="414.4" r="2.5" fill="#6d54d6"/><circle cx="438.8" cy="421.6" r="2.5" fill="#8443c6"/><circle cx="454.4" cy="413.2" r="2.5" fill="#fc0062"/><circle cx="433.0" cy="417.5" r="2.5" fill="#008bfb"/><circle cx="428.1" cy="409.1" r="2.5" fill="#007cf5"/><circle cx="440.3" cy="402.3" r="2.5" fill="#c2009c"/><circle cx="434.2" cy="419.5" r="2.5" fill="#246cea"/><circle cx="445.5" cy="419.4" r="2.5" fill="#4b63e3"/><circle cx="465.0" cy="410.4" r="2.5" fill="#fe005c"/><circle cx="428.1" cy="410.5" r="2.5" fill="#585edf"/><circle cx="438.9" cy="407.1" r="2.5" fill="#3b68e7"/><circle cx="436.1" cy="407.5" r="2.5" fill="#ac16a7"/><circle cx="440.6" cy="412.2" r="2.5" fill="#a41daa"/><circle cx="424.9" cy="411.0" r="2.5" fill="#008bfb"/><circle cx="439.1" cy="403.5" r="2.5" fill="#3b68e7"/><circle cx="432.1" cy="407.6" r="2.5" fill="#6d54d6"/><circle cx="434.8" cy="409.4" r="2.5" fill="#754fd1"/><circle cx="441.7" cy="422.1" r="2.5" fill="#6d54d6"/><circle cx="447.9" cy="416.7" r="2.5" fill="#8443c6"/><circle cx="435.1" cy="413.9" r="2.5" fill="#b40ca4"/><circle cx="455.4" cy="410.5" r="2.5" fill="#a41daa"/><circle cx="430.4" cy="407.2" r="2.5" fill="#754fd1"/><circle cx="442.9" cy="410.9" r="2.5" fill="#ac16a7"/><circle cx="437.2" cy="414.6" r="2.5" fill="#6d54d6"/><circle cx="434.3" cy="410.9" r="2.5" fill="#007cf5"/><circle cx="430.8" cy="414.1" r="2.5" fill="#f5006d"/><circle cx="436.9" cy="419.8" r="2.5" fill="#585edf"/><circle cx="437.2" cy="401.9" r="2.5" fill="#f5006d"/><circle cx="434.6" cy="420.7" r="2.5" fill="#db008b"/><circle cx="448.9" cy="412.4" r="2.5" fill="#f20072"/><circle cx="442.4" cy="416.7" r="2.5" fill="#d5008f"/><circle cx="424.7" cy="412.3" r="2.5" fill="#008bfb"/><circle cx="439.6" cy="405.1" r="2.5" fill="#a41daa"/><circle cx="455.1" cy="412.3" r="2.5" fill="#bb00a0"/><circle cx="449.4" cy="407.3" r="2.5" fill="#8b3cc0"/><circle cx="438.5" cy="408.9" r="2.5" fill="#c90098"/><circle cx="474.3" cy="411.0" r="2.5" fill="#ff0051"/><circle cx="452.9" cy="410.5" r="2.5" fill="#e9007c"/><circle cx="435.5" cy="417.9" r="2.5" fill="#e00086"/><circle cx="420.6" cy="410.6" r="2.5" fill="#0087fa"/><circle cx="472.3" cy="410.9" r="2.5" fill="#fe005c"/><circle cx="439.5" cy="412.4" r="2.5" fill="#c2009c"/><circle cx="424.5" cy="409.2" r="2.5" fill="#008bfb"/><circle cx="403.2" cy="411.1" r="2.5" fill="#007cf5"/><circle cx="479.7" cy="411.1" r="2.5" fill="#fc0062"/><circle cx="440.6" cy="399.4" r="2.5" fill="#db008b"/><circle cx="469.8" cy="410.4" r="2.5" fill="#fe005c"/><circle cx="414.2" cy="410.6" r="2.5" fill="#008bfb"/><circle cx="432.5" cy="404.0" r="2.5" fill="#0070ee"/><circle cx="446.7" cy="406.7" r="2.5" fill="#9b23ad"/><circle cx="417.9" cy="410.8" r="2.5" fill="#0084f9"/><circle cx="440.7" cy="413.8" r="2.5" fill="#db008b"/><circle cx="441.6" cy="400.7" r="2.5" fill="#585edf"/><circle cx="421.9" cy="410.4" r="2.5" fill="#008bfb"/><circle cx="443.5" cy="418.3" r="2.5" fill="#962db4"/><circle cx="437.2" cy="409.3" r="2.5" fill="#fc0062"/><circle cx="443.0" cy="414.8" r="2.5" fill="#a41daa"/><circle cx="446.8" cy="418.3" r="2.5" fill="#d5008f"/><circle cx="435.4" cy="402.6" r="2.5" fill="#fc0062"/><circle cx="443.2" cy="404.8" r="2.5" fill="#962db4"/><circle cx="425.9" cy="410.9" r="2.5" fill="#0080f7"/><circle cx="429.9" cy="412.1" r="2.5" fill="#008bfb"/><circle cx="436.8" cy="405.2" r="2.5" fill="#9135ba"/><circle cx="415.7" cy="410.7" r="2.5" fill="#008bfb"/><circle cx="437.1" cy="403.8" r="2.5" fill="#635adb"/><circle cx="440.5" cy="404.5" r="2.5" fill="#635adb"/><circle cx="447.6" cy="404.8" r="2.5" fill="#3b68e7"/><circle cx="435.6" cy="412.8" r="2.5" fill="#8b3cc0"/><circle cx="441.3" cy="406.2" r="2.5" fill="#754fd1"/><circle cx="441.3" cy="407.6" r="2.5" fill="#b40ca4"/><circle cx="432.2" cy="412.4" r="2.5" fill="#7d49cc"/><circle cx="451.6" cy="414.2" r="2.5" fill="#f20072"/><circle cx="460.7" cy="410.8" r="2.5" fill="#0084f9"/><circle cx="546.7" cy="410.8" r="2.5" fill="#008bfb"/><circle cx="549.2" cy="410.8" r="2.5" fill="#008bfb"/><circle cx="556.4" cy="410.8" r="2.5" fill="#008bfb"/>
<circle cx="438.0" cy="456.5" r="2.5" fill="#8443c6"/><circle cx="416.3" cy="447.3" r="2.5" fill="#fe005c"/><circle cx="443.1" cy="441.2" r="2.5" fill="#8443c6"/><circle cx="435.2" cy="442.2" r="2.5" fill="#cf0094"/><circle cx="442.0" cy="445.6" r="2.5" fill="#c2009c"/><circle cx="433.6" cy="449.8" r="2.5" fill="#ee0077"/><circle cx="439.3" cy="446.1" r="2.5" fill="#9135ba"/><circle cx="435.1" cy="445.4" r="2.5" fill="#ff0057"/><circle cx="435.8" cy="451.2" r="2.5" fill="#635adb"/><circle cx="478.0" cy="447.6" r="2.5" fill="#0080f7"/><circle cx="440.0" cy="458.4" r="2.5" fill="#db008b"/><circle cx="438.0" cy="444.5" r="2.5" fill="#9135ba"/><circle cx="445.2" cy="441.2" r="2.5" fill="#754fd1"/><circle cx="433.0" cy="445.7" r="2.5" fill="#e00086"/><circle cx="438.8" cy="455.0" r="2.5" fill="#c90098"/><circle cx="429.5" cy="451.3" r="2.5" fill="#e50081"/><circle cx="465.4" cy="448.0" r="2.5" fill="#0084f9"/><circle cx="443.5" cy="451.0" r="2.5" fill="#b40ca4"/><circle cx="410.1" cy="447.7" r="2.5" fill="#ee0077"/><circle cx="444.1" cy="456.2" r="2.5" fill="#7d49cc"/><circle cx="443.2" cy="442.4" r="2.5" fill="#585edf"/><circle cx="439.9" cy="442.5" r="2.5" fill="#6d54d6"/><circle cx="433.4" cy="444.0" r="2.5" fill="#f20072"/><circle cx="439.8" cy="444.0" r="2.5" fill="#db008b"/><circle cx="454.1" cy="448.6" r="2.5" fill="#0087fa"/><circle cx="422.8" cy="445.7" r="2.5" fill="#fe005c"/><circle cx="435.4" cy="448.0" r="2.5" fill="#cf0094"/><circle cx="433.4" cy="451.3" r="2.5" fill="#9b23ad"/><circle cx="435.0" cy="455.2" r="2.5" fill="#bb00a0"/><circle cx="447.4" cy="446.3" r="2.5" fill="#3b68e7"/><circle cx="442.2" cy="449.2" r="2.5" fill="#0087fa"/><circle cx="438.9" cy="437.2" r="2.5" fill="#9135ba"/><circle cx="437.3" cy="440.4" r="2.5" fill="#fc0062"/><circle cx="443.9" cy="449.4" r="2.5" fill="#e50081"/><circle cx="445.4" cy="449.6" r="2.5" fill="#e00086"/><circle cx="431.3" cy="449.7" r="2.5" fill="#e00086"/><circle cx="440.0" cy="449.7" r="2.5" fill="#754fd1"/><circle cx="471.1" cy="447.8" r="2.5" fill="#0087fa"/><circle cx="436.7" cy="454.6" r="2.5" fill="#b40ca4"/><circle cx="429.1" cy="446.2" r="2.5" fill="#d5008f"/><circle cx="441.9" cy="442.4" r="2.5" fill="#246cea"/><circle cx="411.5" cy="447.9" r="2.5" fill="#fc0062"/><circle cx="439.6" cy="460.4" r="2.5" fill="#9135ba"/><circle cx="448.1" cy="452.8" r="2.5" fill="#3b68e7"/><circle cx="437.4" cy="442.7" r="2.5" fill="#9135ba"/><circle cx="428.2" cy="443.9" r="2.5" fill="#c90098"/><circle cx="431.3" cy="451.6" r="2.5" fill="#fc0062"/><circle cx="441.8" cy="451.0" r="2.5" fill="#f90067"/><circle cx="438.0" cy="449.4" r="2.5" fill="#0084f9"/><circle cx="449.7" cy="449.9" r="2.5" fill="#3b68e7"/><circle cx="446.4" cy="445.8" r="2.5" fill="#635adb"/><circle cx="475.0" cy="447.9" r="2.5" fill="#0084f9"/><circle cx="444.5" cy="446.2" r="2.5" fill="#246cea"/><circle cx="447.6" cy="450.7" r="2.5" fill="#0075f0"/><circle cx="441.0" cy="444.4" r="2.5" fill="#a41daa"/><circle cx="441.0" cy="440.9" r="2.5" fill="#754fd1"/><circle cx="443.2" cy="452.2" r="2.5" fill="#9135ba"/><circle cx="426.7" cy="450.5" r="2.5" fill="#ee0077"/><circle cx="413.3" cy="447.4" r="2.5" fill="#fe005c"/><circle cx="439.8" cy="453.1" r="2.5" fill="#6d54d6"/><circle cx="446.0" cy="450.7" r="2.5" fill="#754fd1"/><circle cx="461.3" cy="447.4" r="2.5" fill="#0087fa"/><circle cx="427.4" cy="447.7" r="2.5" fill="#f20072"/><circle cx="474.3" cy="447.5" r="2.5" fill="#008bfb"/><circle cx="452.2" cy="447.6" r="2.5" fill="#8443c6"/><circle cx="437.4" cy="457.8" r="2.5" fill="#7d49cc"/><circle cx="437.3" cy="451.1" r="2.5" fill="#8b3cc0"/><circle cx="437.7" cy="447.7" r="2.5" fill="#c90098"/><circle cx="435.3" cy="449.2" r="2.5" fill="#ac16a7"/><circle cx="422.7" cy="449.4" r="2.5" fill="#ff0057"/><circle cx="437.9" cy="453.0" r="2.5" fill="#b40ca4"/><circle cx="425.1" cy="449.2" r="2.5" fill="#f90067"/><circle cx="446.1" cy="452.2" r="2.5" fill="#635adb"/><circle cx="422.7" cy="448.0" r="2.5" fill="#ff0051"/><circle cx="449.9" cy="448.0" r="2.5" fill="#585edf"/><circle cx="418.2" cy="448.0" r="2.5" fill="#fe005c"/><circle cx="458.3" cy="447.8" r="2.5" fill="#0084f9"/><circle cx="446.7" cy="444.5" r="2.5" fill="#7d49cc"/><circle cx="432.4" cy="453.6" r="2.5" fill="#ee0077"/><circle cx="436.7" cy="446.2" r="2.5" fill="#246cea"/><circle cx="420.1" cy="447.3" r="2.5" fill="#fc0062"/><circle cx="434.8" cy="444.0" r="2.5" fill="#a41daa"/><circle cx="428.7" cy="449.7" r="2.5" fill="#8443c6"/><circle cx="467.1" cy="447.8" r="2.5" fill="#0087fa"/><circle cx="445.6" cy="442.3" r="2.5" fill="#f5006d"/><circle cx="443.3" cy="444.6" r="2.5" fill="#3b68e7"/><circle cx="439.9" cy="434.8" r="2.5" fill="#0070ee"/><circle cx="437.1" cy="438.6" r="2.5" fill="#7d49cc"/><circle cx="431.3" cy="448.0" r="2.5" fill="#962db4"/><circle cx="433.6" cy="447.3" r="2.5" fill="#cf0094"/><circle cx="407.8" cy="447.9" r="2.5" fill="#e9007c"/><circle cx="454.6" cy="446.2" r="2.5" fill="#635adb"/><circle cx="431.0" cy="443.3" r="2.5" fill="#fe005c"/><circle cx="469.8" cy="447.6" r="2.5" fill="#0087fa"/><circle cx="449.6" cy="445.4" r="2.5" fill="#4b63e3"/><circle cx="435.5" cy="453.3" r="2.5" fill="#ee0077"/><circle cx="442.0" cy="452.7" r="2.5" fill="#a41daa"/><circle cx="440.2" cy="438.3" r="2.5" fill="#fc0062"/><circle cx="462.4" cy="447.5" r="2.5" fill="#0087fa"/><circle cx="445.3" cy="447.9" r="2.5" fill="#6d54d6"/><circle cx="428.8" cy="447.5" r="2.5" fill="#e00086"/><circle cx="439.7" cy="447.6" r="2.5" fill="#fc0062"/><circle cx="440.9" cy="458.2" r="2.5" fill="#cf0094"/><circle cx="441.9" cy="456.1" r="2.5" fill="#e9007c"/><circle cx="452.3" cy="449.6" r="2.5" fill="#7d49cc"/><circle cx="454.0" cy="447.9" r="2.5" fill="#0080f7"/><circle cx="444.0" cy="447.9" r="2.5" fill="#246cea"/><circle cx="438.9" cy="456.3" r="2.5" fill="#4b63e3"/><circle cx="448.0" cy="448.0" r="2.5" fill="#8b3cc0"/><circle cx="447.5" cy="449.5" r="2.5" fill="#635adb"/><circle cx="439.8" cy="451.2" r="2.5" fill="#f20072"/><circle cx="431.3" cy="445.8" r="2.5" fill="#f5006d"/><circle cx="443.3" cy="453.8" r="2.5" fill="#b40ca4"/><circle cx="424.4" cy="447.6" r="2.5" fill="#f90067"/><circle cx="441.3" cy="454.3" r="2.5" fill="#0070ee"/><circle cx="452.1" cy="445.8" r="2.5" fill="#585edf"/><circle cx="440.0" cy="440.5" r="2.5" fill="#b40ca4"/><circle cx="456.2" cy="447.5" r="2.5" fill="#3b68e7"/><circle cx="447.3" cy="444.4" r="2.5" fill="#7d49cc"/><circle cx="446.4" cy="454.4" r="2.5" fill="#585edf"/><circle cx="441.9" cy="438.9" r="2.5" fill="#754fd1"/><circle cx="425.0" cy="445.4" r="2.5" fill="#f5006d"/><circle cx="441.5" cy="448.0" r="2.5" fill="#ac16a7"/><circle cx="441.3" cy="437.2" r="2.5" fill="#8443c6"/><circle cx="370.0" cy="447.6" r="2.5" fill="#ff0051"/><circle cx="381.5" cy="447.6" r="2.5" fill="#ff0051"/><circle cx="390.5" cy="447.6" r="2.5" fill="#ff0051"/><circle cx="394.4" cy="447.6" r="2.5" fill="#ff0051"/><circle cx="484.6" cy="447.6" r="2.5" fill="#008bfb"/><circle cx="488.0" cy="447.6" r="2.5" fill="#008bfb"/><circle cx="491.2" cy="447.6" r="2.5" fill="#008bfb"/><circle cx="497.5" cy="447.6" r="2.5" fill="#008bfb"/><circle cx="500.3" cy="447.6" r="2.5" fill="#008bfb"/><circle cx="506.0" cy="447.6" r="2.5" fill="#008bfb"/><circle cx="517.1" cy="447.6" r="2.5" fill="#008bfb"/>
<circle cx="414.5" cy="485.0" r="2.5" fill="#e00086"/><circle cx="432.0" cy="484.2" r="2.5" fill="#e50081"/><circle cx="443.9" cy="480.9" r="2.5" fill="#8443c6"/><circle cx="410.9" cy="484.7" r="2.5" fill="#0087fa"/><circle cx="436.8" cy="479.3" r="2.5" fill="#0070ee"/><circle cx="436.6" cy="485.9" r="2.5" fill="#ac16a7"/><circle cx="456.3" cy="482.5" r="2.5" fill="#3b68e7"/><circle cx="435.7" cy="483.0" r="2.5" fill="#0087fa"/><circle cx="449.0" cy="486.6" r="2.5" fill="#c90098"/><circle cx="432.0" cy="491.0" r="2.5" fill="#0084f9"/><circle cx="432.1" cy="489.4" r="2.5" fill="#635adb"/><circle cx="439.6" cy="476.8" r="2.5" fill="#cf0094"/><circle cx="440.9" cy="480.6" r="2.5" fill="#8b3cc0"/><circle cx="436.5" cy="484.4" r="2.5" fill="#635adb"/><circle cx="442.9" cy="486.3" r="2.5" fill="#8443c6"/><circle cx="445.4" cy="486.0" r="2.5" fill="#ac16a7"/><circle cx="441.6" cy="482.7" r="2.5" fill="#0087fa"/><circle cx="428.4" cy="479.8" r="2.5" fill="#ac16a7"/><circle cx="450.3" cy="482.5" r="2.5" fill="#9b23ad"/><circle cx="441.6" cy="493.1" r="2.5" fill="#008bfb"/><circle cx="451.2" cy="483.1" r="2.5" fill="#754fd1"/><circle cx="437.3" cy="493.2" r="2.5" fill="#6d54d6"/><circle cx="430.0" cy="490.1" r="2.5" fill="#9135ba"/><circle cx="434.6" cy="493.4" r="2.5" fill="#0084f9"/><circle cx="432.5" cy="487.6" r="2.5" fill="#f20072"/><circle cx="446.9" cy="490.1" r="2.5" fill="#ff0057"/><circle cx="440.8" cy="486.4" r="2.5" fill="#8443c6"/><circle cx="432.9" cy="479.2" r="2.5" fill="#0087fa"/><circle cx="439.7" cy="489.8" r="2.5" fill="#b40ca4"/><circle cx="433.6" cy="494.6" r="2.5" fill="#f90067"/><circle cx="436.7" cy="495.3" r="2.5" fill="#8443c6"/><circle cx="445.5" cy="488.2" r="2.5" fill="#e50081"/><circle cx="435.2" cy="488.3" r="2.5" fill="#962db4"/><circle cx="452.6" cy="484.6" r="2.5" fill="#4b63e3"/><circle cx="441.3" cy="488.4" r="2.5" fill="#4b63e3"/><circle cx="431.3" cy="480.3" r="2.5" fill="#754fd1"/><circle cx="408.9" cy="484.8" r="2.5" fill="#008bfb"/><circle cx="430.9" cy="486.1" r="2.5" fill="#f5006d"/><circle cx="439.8" cy="488.3" r="2.5" fill="#962db4"/><circle cx="439.7" cy="486.1" r="2.5" fill="#0087fa"/><circle cx="453.7" cy="486.9" r="2.5" fill="#0084f9"/><circle cx="457.9" cy="484.8" r="2.5" fill="#f90067"/><circle cx="464.3" cy="485.4" r="2.5" fill="#e9007c"/><circle cx="445.7" cy="481.0" r="2.5" fill="#246cea"/><circle cx="444.9" cy="491.4" r="2.5" fill="#a41daa"/><circle cx="434.4" cy="479.0" r="2.5" fill="#6d54d6"/><circle cx="433.4" cy="492.8" r="2.5" fill="#9b23ad"/><circle cx="446.1" cy="479.1" r="2.5" fill="#c2009c"/><circle cx="440.7" cy="477.1" r="2.5" fill="#c90098"/><circle cx="439.6" cy="478.8" r="2.5" fill="#3b68e7"/><circle cx="438.5" cy="480.7" r="2.5" fill="#4b63e3"/><circle cx="425.0" cy="484.4" r="2.5" fill="#0084f9"/><circle cx="436.5" cy="488.1" r="2.5" fill="#fc0062"/><circle cx="441.3" cy="489.7" r="2.5" fill="#d5008f"/><circle cx="439.5" cy="494.0" r="2.5" fill="#3b68e7"/><circle cx="441.0" cy="479.1" r="2.5" fill="#008bfb"/><circle cx="434.8" cy="477.8" r="2.5" fill="#0079f3"/><circle cx="447.8" cy="480.8" r="2.5" fill="#0080f7"/><circle cx="443.0" cy="484.1" r="2.5" fill="#a41daa"/><circle cx="438.9" cy="475.0" r="2.5" fill="#cf0094"/><circle cx="451.6" cy="485.6" r="2.5" fill="#9135ba"/><circle cx="434.5" cy="495.0" r="2.5" fill="#007cf5"/><circle cx="432.5" cy="485.9" r="2.5" fill="#9b23ad"/><circle cx="451.1" cy="487.6" r="2.5" fill="#246cea"/><circle cx="433.0" cy="476.0" r="2.5" fill="#7d49cc"/><circle cx="436.3" cy="477.1" r="2.5" fill="#585edf"/><circle cx="426.8" cy="486.6" r="2.5" fill="#8443c6"/><circle cx="430.7" cy="484.1" r="2.5" fill="#c2009c"/><circle cx="419.4" cy="484.8" r="2.5" fill="#0084f9"/><circle cx="443.6" cy="489.5" r="2.5" fill="#0080f7"/><circle cx="440.8" cy="484.1" r="2.5" fill="#585edf"/><circle cx="461.6" cy="486.0" r="2.5" fill="#f5006d"/><circle cx="435.1" cy="486.2" r="2.5" fill="#007cf5"/><circle cx="428.4" cy="484.7" r="2.5" fill="#246cea"/><circle cx="424.5" cy="486.5" r="2.5" fill="#0084f9"/><circle cx="439.1" cy="492.1" r="2.5" fill="#7d49cc"/><circle cx="443.5" cy="490.9" r="2.5" fill="#8b3cc0"/><circle cx="434.8" cy="475.6" r="2.5" fill="#962db4"/><circle cx="436.6" cy="473.9" r="2.5" fill="#f20072"/><circle cx="459.9" cy="484.2" r="2.5" fill="#ff0051"/><circle cx="429.9" cy="491.8" r="2.5" fill="#cf0094"/><circle cx="442.9" cy="487.5" r="2.5" fill="#635adb"/><circle cx="430.9" cy="482.6" r="2.5" fill="#db008b"/><circle cx="448.0" cy="488.5" r="2.5" fill="#9135ba"/><circle cx="458.5" cy="482.8" r="2.5" fill="#f5006d"/><circle cx="445.0" cy="483.0" r="2.5" fill="#4b63e3"/><circle cx="431.1" cy="479.0" r="2.5" fill="#ac16a7"/><circle cx="444.1" cy="478.1" r="2.5" fill="#e50081"/><circle cx="438.5" cy="482.2" r="2.5" fill="#585edf"/><circle cx="437.2" cy="489.3" r="2.5" fill="#585edf"/><circle cx="445.0" cy="489.7" r="2.5" fill="#a41daa"/><circle cx="456.2" cy="486.5" r="2.5" fill="#0080f7"/><circle cx="432.3" cy="478.2" r="2.5" fill="#8443c6"/><circle cx="434.8" cy="484.7" r="2.5" fill="#635adb"/><circle cx="437.3" cy="496.8" r="2.5" fill="#db008b"/><circle cx="435.2" cy="491.5" r="2.5" fill="#0084f9"/><circle cx="448.0" cy="482.4" r="2.5" fill="#c2009c"/><circle cx="437.8" cy="476.0" r="2.5" fill="#6d54d6"/><circle cx="416.0" cy="484.1" r="2.5" fill="#0080f7"/><circle cx="449.8" cy="484.3" r="2.5" fill="#c90098"/><circle cx="443.4" cy="476.4" r="2.5" fill="#8b3cc0"/><circle cx="430.9" cy="488.5" r="2.5" fill="#0075f0"/><circle cx="428.3" cy="481.9" r="2.5" fill="#c2009c"/><circle cx="422.1" cy="484.1" r="2.5" fill="#0087fa"/><circle cx="441.0" cy="491.2" r="2.5" fill="#6d54d6"/><circle cx="446.2" cy="484.6" r="2.5" fill="#9135ba"/><circle cx="464.0" cy="483.0" r="2.5" fill="#f20072"/><circle cx="462.5" cy="484.1" r="2.5" fill="#ee0077"/><circle cx="447.7" cy="486.7" r="2.5" fill="#bb00a0"/><circle cx="413.3" cy="484.8" r="2.5" fill="#0084f9"/><circle cx="436.7" cy="491.4" r="2.5" fill="#8b3cc0"/><circle cx="451.1" cy="481.7" r="2.5" fill="#8443c6"/><circle cx="435.7" cy="481.0" r="2.5" fill="#635adb"/><circle cx="454.5" cy="484.9" r="2.5" fill="#4b63e3"/><circle cx="461.6" cy="483.5" r="2.5" fill="#fc0062"/><circle cx="443.6" cy="492.6" r="2.5" fill="#754fd1"/><circle cx="432.6" cy="480.9" r="2.5" fill="#0080f7"/><circle cx="443.3" cy="482.8" r="2.5" fill="#9b23ad"/><circle cx="435.1" cy="489.4" r="2.5" fill="#3b68e7"/><circle cx="428.4" cy="486.8" r="2.5" fill="#0075f0"/><circle cx="450.1" cy="481.2" r="2.5" fill="#008bfb"/><circle cx="417.8" cy="484.5" r="2.5" fill="#0084f9"/><circle cx="443.9" cy="479.6" r="2.5" fill="#7d49cc"/><circle cx="437.6" cy="482.5" r="2.5" fill="#cf0094"/><circle cx="426.4" cy="484.4" r="2.5" fill="#0080f7"/><circle cx="432.8" cy="482.6" r="2.5" fill="#008bfb"/><circle cx="438.4" cy="484.8" r="2.5" fill="#a41daa"/><circle cx="440.7" cy="475.5" r="2.5" fill="#754fd1"/><circle cx="460.4" cy="485.5" r="2.5" fill="#f5006d"/><circle cx="453.9" cy="481.9" r="2.5" fill="#7d49cc"/><circle cx="450.0" cy="487.7" r="2.5" fill="#0070ee"/><circle cx="427.9" cy="488.7" r="2.5" fill="#b40ca4"/><circle cx="455.6" cy="484.5" r="2.5" fill="#8443c6"/><circle cx="436.2" cy="481.0" r="2.5" fill="#246cea"/><circle cx="463.9" cy="484.8" r="2.5" fill="#f90067"/><circle cx="447.4" cy="484.3" r="2.5" fill="#754fd1"/><circle cx="458.9" cy="486.2" r="2.5" fill="#f20072"/><circle cx="470.8" cy="484.5" r="2.5" fill="#ff0051"/><circle cx="474.5" cy="484.5" r="2.5" fill="#fe005c"/><circle cx="485.0" cy="484.5" r="2.5" fill="#ff0051"/><circle cx="488.3" cy="484.5" r="2.5" fill="#ff0051"/><circle cx="496.0" cy="484.5" r="2.5" fill="#ff0051"/><circle cx="503.5" cy="484.5" r="2.5" fill="#ff0051"/>
<circle cx="442.9" cy="521.0" r="2.5" fill="#0084f9"/><circle cx="442.7" cy="517.4" r="2.5" fill="#db008b"/><circle cx="438.5" cy="529.5" r="2.5" fill="#e50081"/><circle cx="441.7" cy="526.2" r="2.5" fill="#b40ca4"/><circle cx="435.1" cy="529.6" r="2.5" fill="#7d49cc"/><circle cx="436.5" cy="523.3" r="2.5" fill="#635adb"/><circle cx="444.1" cy="522.9" r="2.5" fill="#585edf"/><circle cx="434.2" cy="515.8" r="2.5" fill="#246cea"/><circle cx="437.7" cy="521.2" r="2.5" fill="#c90098"/><circle cx="429.2" cy="523.6" r="2.5" fill="#9135ba"/><circle cx="437.8" cy="526.0" r="2.5" fill="#754fd1"/><circle cx="431.8" cy="526.9" r="2.5" fill="#f20072"/><circle cx="434.2" cy="524.6" r="2.5" fill="#7d49cc"/><circle cx="435.9" cy="525.0" r="2.5" fill="#6d54d6"/><circle cx="444.6" cy="521.5" r="2.5" fill="#635adb"/><circle cx="437.1" cy="523.1" r="2.5" fill="#cf0094"/><circle cx="438.5" cy="531.2" r="2.5" fill="#ac16a7"/><circle cx="441.4" cy="522.9" r="2.5" fill="#0084f9"/><circle cx="442.0" cy="525.0" r="2.5" fill="#4b63e3"/><circle cx="440.4" cy="523.2" r="2.5" fill="#0087fa"/><circle cx="436.1" cy="528.4" r="2.5" fill="#0087fa"/><circle cx="436.0" cy="519.5" r="2.5" fill="#3b68e7"/><circle cx="431.0" cy="519.5" r="2.5" fill="#6d54d6"/><circle cx="433.1" cy="530.4" r="2.5" fill="#635adb"/><circle cx="430.9" cy="522.8" r="2.5" fill="#f20072"/><circle cx="427.6" cy="521.4" r="2.5" fill="#8b3cc0"/><circle cx="440.1" cy="528.3" r="2.5" fill="#3b68e7"/><circle cx="442.8" cy="519.6" r="2.5" fill="#008bfb"/><circle cx="428.4" cy="525.3" r="2.5" fill="#0070ee"/><circle cx="439.4" cy="521.6" r="2.5" fill="#9135ba"/><circle cx="443.9" cy="519.4" r="2.5" fill="#635adb"/><circle cx="433.2" cy="521.5" r="2.5" fill="#585edf"/><circle cx="431.6" cy="525.1" r="2.5" fill="#007cf5"/><circle cx="433.0" cy="514.5" r="2.5" fill="#3b68e7"/><circle cx="440.6" cy="526.1" r="2.5" fill="#3b68e7"/><circle cx="434.2" cy="522.7" r="2.5" fill="#0075f0"/><circle cx="439.7" cy="517.7" r="2.5" fill="#8443c6"/><circle cx="429.7" cy="517.6" r="2.5" fill="#4b63e3"/><circle cx="438.0" cy="524.6" r="2.5" fill="#8b3cc0"/><circle cx="434.9" cy="533.0" r="2.5" fill="#635adb"/><circle cx="428.8" cy="519.5" r="2.5" fill="#754fd1"/><circle cx="431.2" cy="514.6" r="2.5" fill="#cf0094"/><circle cx="432.8" cy="526.2" r="2.5" fill="#246cea"/><circle cx="427.4" cy="519.4" r="2.5" fill="#754fd1"/><circle cx="436.2" cy="513.3" r="2.5" fill="#a41daa"/><circle cx="435.6" cy="521.1" r="2.5" fill="#a41daa"/><circle cx="440.6" cy="514.7" r="2.5" fill="#962db4"/><circle cx="436.0" cy="516.2" r="2.5" fill="#4b63e3"/><circle cx="434.1" cy="519.3" r="2.5" fill="#007cf5"/><circle cx="446.3" cy="523.9" r="2.5" fill="#e9007c"/><circle cx="436.0" cy="514.8" r="2.5" fill="#9b23ad"/><circle cx="440.5" cy="519.3" r="2.5" fill="#0084f9"/><circle cx="437.8" cy="515.0" r="2.5" fill="#b40ca4"/><circle cx="438.4" cy="527.9" r="2.5" fill="#4b63e3"/><circle cx="430.6" cy="521.3" r="2.5" fill="#4b63e3"/><circle cx="435.9" cy="518.2" r="2.5" fill="#c90098"/><circle cx="439.6" cy="524.8" r="2.5" fill="#6d54d6"/><circle cx="433.0" cy="512.2" r="2.5" fill="#6d54d6"/><circle cx="433.8" cy="532.1" r="2.5" fill="#9135ba"/><circle cx="440.7" cy="529.9" r="2.5" fill="#0079f3"/><circle cx="433.6" cy="510.4" r="2.5" fill="#4b63e3"/><circle cx="435.3" cy="526.1" r="2.5" fill="#c2009c"/><circle cx="437.6" cy="516.6" r="2.5" fill="#8443c6"/><circle cx="439.3" cy="516.3" r="2.5" fill="#7d49cc"/><circle cx="429.2" cy="521.5" r="2.5" fill="#e50081"/><circle cx="438.6" cy="519.6" r="2.5" fill="#8443c6"/><circle cx="446.3" cy="521.0" r="2.5" fill="#c2009c"/><circle cx="432.8" cy="528.1" r="2.5" fill="#635adb"/><circle cx="434.9" cy="531.0" r="2.5" fill="#fc0062"/><circle cx="430.7" cy="515.7" r="2.5" fill="#cf0094"/><circle cx="426.7" cy="523.1" r="2.5" fill="#4b63e3"/><circle cx="437.3" cy="518.0" r="2.5" fill="#fe005c"/><circle cx="431.5" cy="517.4" r="2.5" fill="#635adb"/><circle cx="430.7" cy="528.4" r="2.5" fill="#585edf"/><circle cx="445.0" cy="524.9" r="2.5" fill="#962db4"/><circle cx="432.8" cy="517.8" r="2.5" fill="#3b68e7"/><circle cx="438.3" cy="513.5" r="2.5" fill="#585edf"/><circle cx="434.9" cy="511.2" r="2.5" fill="#b40ca4"/><circle cx="412.6" cy="521.3" r="2.5" fill="#ff0051"/><circle cx="417.4" cy="521.3" r="2.5" fill="#6d54d6"/><circle cx="419.8" cy="521.3" r="2.5" fill="#8443c6"/><circle cx="424.7" cy="521.3" r="2.5" fill="#0080f7"/><circle cx="447.5" cy="522.3" r="2.5" fill="#fe005c"/><circle cx="449.5" cy="520.1" r="2.5" fill="#bb00a0"/><circle cx="451.5" cy="522.1" r="2.5" fill="#f90067"/><circle cx="453.0" cy="520.8" r="2.5" fill="#0084f9"/><circle cx="455.0" cy="521.9" r="2.5" fill="#0084f9"/><circle cx="457.5" cy="520.7" r="2.5" fill="#e00086"/><circle cx="459.5" cy="522.0" r="2.5" fill="#9b23ad"/><circle cx="461.2" cy="521.3" r="2.5" fill="#0084f9"/><circle cx="463.4" cy="520.0" r="2.5" fill="#f20072"/><circle cx="463.6" cy="522.6" r="2.5" fill="#f90067"/><circle cx="465.5" cy="521.7" r="2.5" fill="#e9007c"/><circle cx="467.8" cy="521.0" r="2.5" fill="#fe005c"/><circle cx="469.8" cy="521.8" r="2.5" fill="#bb00a0"/><circle cx="471.5" cy="521.3" r="2.5" fill="#0084f9"/><circle cx="473.5" cy="521.7" r="2.5" fill="#007cf5"/><circle cx="475.5" cy="521.0" r="2.5" fill="#0084f9"/><circle cx="477.5" cy="521.6" r="2.5" fill="#0084f9"/><circle cx="479.5" cy="521.3" r="2.5" fill="#fe005c"/><circle cx="481.5" cy="521.8" r="2.5" fill="#f90067"/><circle cx="483.3" cy="521.6" r="2.5" fill="#fe005c"/><circle cx="484.3" cy="519.8" r="2.5" fill="#007cf5"/><circle cx="488.9" cy="521.3" r="2.5" fill="#fe005c"/><circle cx="497.0" cy="521.3" r="2.5" fill="#0084f9"/><circle cx="501.0" cy="521.3" r="2.5" fill="#0084f9"/>
<circle cx="449.0" cy="562.0" r="2.5" fill="#e00086"/><circle cx="439.4" cy="560.0" r="2.5" fill="#9b23ad"/><circle cx="434.4" cy="554.9" r="2.5" fill="#ff0051"/><circle cx="455.0" cy="557.7" r="2.5" fill="#e00086"/><circle cx="438.1" cy="566.7" r="2.5" fill="#0079f3"/><circle cx="439.5" cy="570.3" r="2.5" fill="#f5006d"/><circle cx="425.8" cy="560.2" r="2.5" fill="#b40ca4"/><circle cx="433.2" cy="551.0" r="2.5" fill="#c90098"/><circle cx="432.5" cy="552.6" r="2.5" fill="#a41daa"/><circle cx="419.0" cy="558.4" r="2.5" fill="#0087fa"/><circle cx="442.7" cy="553.1" r="2.5" fill="#0080f7"/><circle cx="428.9" cy="562.0" r="2.5" fill="#6d54d6"/><circle cx="445.3" cy="558.3" r="2.5" fill="#e00086"/><circle cx="429.0" cy="550.4" r="2.5" fill="#fe005c"/><circle cx="446.6" cy="563.0" r="2.5" fill="#e50081"/><circle cx="434.0" cy="556.7" r="2.5" fill="#3b68e7"/><circle cx="430.7" cy="561.8" r="2.5" fill="#a41daa"/><circle cx="417.9" cy="558.4" r="2.5" fill="#754fd1"/><circle cx="438.2" cy="553.0" r="2.5" fill="#9135ba"/><circle cx="445.4" cy="559.8" r="2.5" fill="#ac16a7"/><circle cx="444.6" cy="556.1" r="2.5" fill="#f20072"/><circle cx="449.8" cy="563.6" r="2.5" fill="#e50081"/><circle cx="425.9" cy="558.5" r="2.5" fill="#008bfb"/><circle cx="449.8" cy="552.3" r="2.5" fill="#ff0051"/><circle cx="434.7" cy="561.7" r="2.5" fill="#8b3cc0"/><circle cx="430.3" cy="563.1" r="2.5" fill="#cf0094"/><circle cx="454.0" cy="560.8" r="2.5" fill="#e00086"/><circle cx="422.6" cy="556.9" r="2.5" fill="#8443c6"/><circle cx="429.8" cy="553.0" r="2.5" fill="#bb00a0"/><circle cx="423.7" cy="560.1" r="2.5" fill="#0084f9"/><circle cx="438.5" cy="565.2" r="2.5" fill="#0080f7"/><circle cx="438.6" cy="546.3" r="2.5" fill="#c90098"/><circle cx="436.4" cy="556.2" r="2.5" fill="#962db4"/><circle cx="464.6" cy="558.2" r="2.5" fill="#db008b"/><circle cx="443.3" cy="559.6" r="2.5" fill="#ee0077"/><circle cx="426.4" cy="562.9" r="2.5" fill="#585edf"/><circle cx="436.9" cy="551.2" r="2.5" fill="#8b3cc0"/><circle cx="434.8" cy="567.2" r="2.5" fill="#e00086"/><circle cx="458.2" cy="559.6" r="2.5" fill="#ac16a7"/><circle cx="435.1" cy="559.5" r="2.5" fill="#9135ba"/><circle cx="471.9" cy="558.3" r="2.5" fill="#f5006d"/><circle cx="458.2" cy="558.0" r="2.5" fill="#d5008f"/><circle cx="438.5" cy="551.1" r="2.5" fill="#ac16a7"/><circle cx="445.6" cy="564.1" r="2.5" fill="#4b63e3"/><circle cx="439.1" cy="568.6" r="2.5" fill="#0070ee"/><circle cx="440.9" cy="547.9" r="2.5" fill="#8b3cc0"/><circle cx="426.0" cy="561.1" r="2.5" fill="#0087fa"/><circle cx="436.6" cy="561.5" r="2.5" fill="#c90098"/><circle cx="471.2" cy="558.3" r="2.5" fill="#f5006d"/><circle cx="441.3" cy="561.8" r="2.5" fill="#962db4"/><circle cx="460.7" cy="559.6" r="2.5" fill="#ff0051"/><circle cx="443.2" cy="557.9" r="2.5" fill="#0080f7"/><circle cx="425.4" cy="555.0" r="2.5" fill="#962db4"/><circle cx="441.2" cy="551.7" r="2.5" fill="#4b63e3"/><circle cx="436.9" cy="565.2" r="2.5" fill="#8443c6"/><circle cx="437.3" cy="570.4" r="2.5" fill="#9135ba"/><circle cx="449.6" cy="554.5" r="2.5" fill="#cf0094"/><circle cx="432.0" cy="563.3" r="2.5" fill="#0080f7"/><circle cx="444.6" cy="550.3" r="2.5" fill="#9b23ad"/><circle cx="443.1" cy="568.8" r="2.5" fill="#0070ee"/><circle cx="440.6" cy="570.1" r="2.5" fill="#0079f3"/><circle cx="428.8" cy="557.9" r="2.5" fill="#4b63e3"/><circle cx="462.4" cy="558.4" r="2.5" fill="#f20072"/><circle cx="445.4" cy="565.8" r="2.5" fill="#6d54d6"/><circle cx="443.3" cy="561.6" r="2.5" fill="#8443c6"/><circle cx="421.1" cy="559.8" r="2.5" fill="#6d54d6"/><circle cx="439.5" cy="555.0" r="2.5" fill="#e00086"/><circle cx="445.1" cy="554.5" r="2.5" fill="#0087fa"/><circle cx="434.7" cy="563.4" r="2.5" fill="#6d54d6"/><circle cx="441.5" cy="566.8" r="2.5" fill="#3b68e7"/><circle cx="432.7" cy="559.5" r="2.5" fill="#cf0094"/><circle cx="421.8" cy="558.3" r="2.5" fill="#9b23ad"/><circle cx="432.1" cy="554.3" r="2.5" fill="#962db4"/><circle cx="430.5" cy="554.8" r="2.5" fill="#8b3cc0"/><circle cx="440.2" cy="556.3" r="2.5" fill="#7d49cc"/><circle cx="435.9" cy="549.5" r="2.5" fill="#0070ee"/><circle cx="424.3" cy="558.1" r="2.5" fill="#585edf"/><circle cx="446.7" cy="564.6" r="2.5" fill="#9b23ad"/><circle cx="439.5" cy="548.1" r="2.5" fill="#0084f9"/><circle cx="439.4" cy="557.9" r="2.5" fill="#8b3cc0"/><circle cx="432.2" cy="556.2" r="2.5" fill="#bb00a0"/><circle cx="437.0" cy="566.4" r="2.5" fill="#0079f3"/><circle cx="432.1" cy="558.2" r="2.5" fill="#9b23ad"/><circle cx="425.6" cy="556.4" r="2.5" fill="#ee0077"/><circle cx="439.4" cy="549.4" r="2.5" fill="#0084f9"/><circle cx="428.5" cy="556.4" r="2.5" fill="#9b23ad"/><circle cx="447.7" cy="553.3" r="2.5" fill="#9135ba"/><circle cx="440.8" cy="568.5" r="2.5" fill="#585edf"/><circle cx="437.3" cy="559.8" r="2.5" fill="#635adb"/><circle cx="453.1" cy="558.2" r="2.5" fill="#bb00a0"/><circle cx="441.2" cy="557.8" r="2.5" fill="#8443c6"/><circle cx="442.5" cy="554.7" r="2.5" fill="#9b23ad"/><circle cx="436.7" cy="547.7" r="2.5" fill="#585edf"/><circle cx="442.9" cy="563.3" r="2.5" fill="#9b23ad"/><circle cx="433.0" cy="565.2" r="2.5" fill="#9b23ad"/><circle cx="439.1" cy="561.4" r="2.5" fill="#0087fa"/><circle cx="430.1" cy="556.4" r="2.5" fill="#b40ca4"/><circle cx="438.4" cy="563.0" r="2.5" fill="#bb00a0"/><circle cx="440.2" cy="555.0" r="2.5" fill="#7d49cc"/><circle cx="428.0" cy="552.9" r="2.5" fill="#754fd1"/><circle cx="459.6" cy="556.7" r="2.5" fill="#d5008f"/><circle cx="430.4" cy="564.9" r="2.5" fill="#e9007c"/><circle cx="442.8" cy="551.1" r="2.5" fill="#4b63e3"/><circle cx="466.5" cy="557.8" r="2.5" fill="#ff0051"/><circle cx="434.7" cy="565.0" r="2.5" fill="#635adb"/><circle cx="415.2" cy="558.3" r="2.5" fill="#9135ba"/><circle cx="449.4" cy="560.2" r="2.5" fill="#c2009c"/><circle cx="436.1" cy="554.8" r="2.5" fill="#7d49cc"/><circle cx="434.9" cy="551.1" r="2.5" fill="#754fd1"/><circle cx="444.5" cy="567.9" r="2.5" fill="#e00086"/><circle cx="447.5" cy="561.7" r="2.5" fill="#b40ca4"/><circle cx="428.1" cy="565.3" r="2.5" fill="#8b3cc0"/><circle cx="435.3" cy="552.5" r="2.5" fill="#c90098"/><circle cx="433.1" cy="549.0" r="2.5" fill="#962db4"/><circle cx="454.0" cy="555.4" r="2.5" fill="#a41daa"/><circle cx="447.7" cy="556.3" r="2.5" fill="#db008b"/><circle cx="451.6" cy="559.8" r="2.5" fill="#d5008f"/><circle cx="451.0" cy="556.2" r="2.5" fill="#db008b"/><circle cx="455.9" cy="560.1" r="2.5" fill="#cf0094"/><circle cx="451.3" cy="557.9" r="2.5" fill="#c90098"/><circle cx="441.5" cy="553.3" r="2.5" fill="#ee0077"/><circle cx="443.5" cy="565.3" r="2.5" fill="#c2009c"/><circle cx="438.7" cy="556.1" r="2.5" fill="#0070ee"/><circle cx="427.9" cy="564.0" r="2.5" fill="#8443c6"/><circle cx="442.2" cy="556.1" r="2.5" fill="#008bfb"/><circle cx="434.3" cy="558.5" r="2.5" fill="#8b3cc0"/><circle cx="448.7" cy="558.4" r="2.5" fill="#6d54d6"/><circle cx="435.9" cy="568.0" r="2.5" fill="#754fd1"/><circle cx="468.7" cy="558.2" r="2.5" fill="#e50081"/><circle cx="440.9" cy="559.7" r="2.5" fill="#c2009c"/><circle cx="440.1" cy="564.6" r="2.5" fill="#db008b"/><circle cx="445.9" cy="552.3" r="2.5" fill="#d5008f"/><circle cx="443.0" cy="566.8" r="2.5" fill="#4b63e3"/><circle cx="451.2" cy="561.5" r="2.5" fill="#bb00a0"/><circle cx="430.6" cy="559.7" r="2.5" fill="#ac16a7"/><circle cx="431.7" cy="567.1" r="2.5" fill="#8b3cc0"/><circle cx="430.5" cy="557.9" r="2.5" fill="#e00086"/><circle cx="460.2" cy="558.1" r="2.5" fill="#ff0051"/><circle cx="437.0" cy="553.3" r="2.5" fill="#9135ba"/><circle cx="448.0" cy="559.7" r="2.5" fill="#585edf"/><circle cx="446.5" cy="558.2" r="2.5" fill="#ff0051"/><circle cx="427.7" cy="554.4" r="2.5" fill="#754fd1"/><circle cx="448.6" cy="556.1" r="2.5" fill="#e00086"/><circle cx="455.4" cy="555.9" r="2.5" fill="#ac16a7"/><circle cx="445.0" cy="562.3" r="2.5" fill="#a41daa"/><circle cx="435.9" cy="563.1" r="2.5" fill="#9b23ad"/><circle cx="440.4" cy="563.4" r="2.5" fill="#6d54d6"/><circle cx="442.4" cy="549.5" r="2.5" fill="#ac16a7"/><circle cx="447.0" cy="554.5" r="2.5" fill="#3b68e7"/><circle cx="436.3" cy="558.2" r="2.5" fill="#cf0094"/><circle cx="441.6" cy="549.4" r="2.5" fill="#7d49cc"/><circle cx="428.7" cy="560.2" r="2.5" fill="#9b23ad"/><circle cx="432.8" cy="561.4" r="2.5" fill="#0079f3"/><circle cx="458.0" cy="558.1" r="2.5" fill="#0084f9"/><circle cx="463.0" cy="558.1" r="2.5" fill="#007cf5"/><circle cx="479.5" cy="558.1" r="2.5" fill="#ff0051"/><circle cx="490.4" cy="558.1" r="2.5" fill="#008bfb"/>
<circle cx="443.7" cy="596.4" r="2.5" fill="#962db4"/><circle cx="439.2" cy="602.0" r="2.5" fill="#9b23ad"/><circle cx="442.9" cy="602.0" r="2.5" fill="#9135ba"/><circle cx="427.2" cy="595.0" r="2.5" fill="#ee0077"/><circle cx="445.6" cy="601.0" r="2.5" fill="#bb00a0"/><circle cx="438.9" cy="599.7" r="2.5" fill="#8b3cc0"/><circle cx="439.4" cy="596.5" r="2.5" fill="#9135ba"/><circle cx="447.3" cy="598.2" r="2.5" fill="#246cea"/><circle cx="420.0" cy="594.6" r="2.5" fill="#f90067"/><circle cx="437.3" cy="596.3" r="2.5" fill="#0080f7"/><circle cx="441.6" cy="596.4" r="2.5" fill="#962db4"/><circle cx="445.7" cy="597.9" r="2.5" fill="#4b63e3"/><circle cx="413.8" cy="595.3" r="2.5" fill="#ff0057"/><circle cx="436.6" cy="594.9" r="2.5" fill="#9b23ad"/><circle cx="438.6" cy="593.1" r="2.5" fill="#0070ee"/><circle cx="435.6" cy="595.2" r="2.5" fill="#8443c6"/><circle cx="442.3" cy="604.7" r="2.5" fill="#6d54d6"/><circle cx="483.8" cy="595.3" r="2.5" fill="#008bfb"/><circle cx="435.2" cy="587.4" r="2.5" fill="#754fd1"/><circle cx="456.3" cy="595.1" r="2.5" fill="#0087fa"/><circle cx="430.8" cy="593.0" r="2.5" fill="#8b3cc0"/><circle cx="428.2" cy="593.0" r="2.5" fill="#f20072"/><circle cx="446.3" cy="592.0" r="2.5" fill="#7d49cc"/><circle cx="443.3" cy="598.2" r="2.5" fill="#8443c6"/><circle cx="458.0" cy="594.9" r="2.5" fill="#0084f9"/><circle cx="443.7" cy="591.4" r="2.5" fill="#0070ee"/><circle cx="436.5" cy="591.7" r="2.5" fill="#6d54d6"/><circle cx="438.7" cy="584.6" r="2.5" fill="#585edf"/><circle cx="442.1" cy="593.5" r="2.5" fill="#f5006d"/><circle cx="433.5" cy="590.4" r="2.5" fill="#7d49cc"/><circle cx="416.7" cy="595.3" r="2.5" fill="#fe005c"/><circle cx="439.4" cy="594.7" r="2.5" fill="#d5008f"/><circle cx="411.4" cy="595.0" r="2.5" fill="#fc0062"/><circle cx="442.2" cy="602.8" r="2.5" fill="#9b23ad"/><circle cx="443.1" cy="589.8" r="2.5" fill="#962db4"/><circle cx="438.9" cy="586.1" r="2.5" fill="#635adb"/><circle cx="473.2" cy="594.9" r="2.5" fill="#0087fa"/><circle cx="430.2" cy="595.1" r="2.5" fill="#585edf"/><circle cx="478.2" cy="595.1" r="2.5" fill="#0087fa"/><circle cx="434.9" cy="589.1" r="2.5" fill="#7d49cc"/><circle cx="435.7" cy="593.2" r="2.5" fill="#0075f0"/><circle cx="467.5" cy="595.3" r="2.5" fill="#0084f9"/><circle cx="445.9" cy="596.3" r="2.5" fill="#d5008f"/><circle cx="452.9" cy="595.3" r="2.5" fill="#007cf5"/><circle cx="409.7" cy="594.8" r="2.5" fill="#fe005c"/><circle cx="479.4" cy="595.0" r="2.5" fill="#0087fa"/><circle cx="440.9" cy="588.5" r="2.5" fill="#a41daa"/><circle cx="462.8" cy="595.3" r="2.5" fill="#008bfb"/><circle cx="445.5" cy="588.4" r="2.5" fill="#c90098"/><circle cx="437.9" cy="588.1" r="2.5" fill="#fe005c"/><circle cx="445.9" cy="595.3" r="2.5" fill="#cf0094"/><circle cx="444.2" cy="604.2" r="2.5" fill="#8443c6"/><circle cx="451.9" cy="596.9" r="2.5" fill="#0079f3"/><circle cx="437.9" cy="587.0" r="2.5" fill="#8443c6"/><circle cx="441.7" cy="594.6" r="2.5" fill="#9135ba"/><circle cx="445.7" cy="593.1" r="2.5" fill="#bb00a0"/><circle cx="475.1" cy="594.7" r="2.5" fill="#0084f9"/><circle cx="425.1" cy="594.9" r="2.5" fill="#ee0077"/><circle cx="437.2" cy="593.0" r="2.5" fill="#9b23ad"/><circle cx="400.6" cy="595.3" r="2.5" fill="#ff0057"/><circle cx="443.2" cy="595.3" r="2.5" fill="#6d54d6"/><circle cx="441.1" cy="587.2" r="2.5" fill="#e9007c"/><circle cx="417.8" cy="595.0" r="2.5" fill="#fe005c"/><circle cx="443.1" cy="587.9" r="2.5" fill="#cf0094"/><circle cx="435.8" cy="596.9" r="2.5" fill="#a41daa"/><circle cx="434.8" cy="600.5" r="2.5" fill="#0080f7"/><circle cx="442.9" cy="593.2" r="2.5" fill="#635adb"/><circle cx="402.8" cy="595.1" r="2.5" fill="#fc0062"/><circle cx="481.7" cy="594.8" r="2.5" fill="#0087fa"/><circle cx="432.9" cy="597.7" r="2.5" fill="#7d49cc"/><circle cx="448.3" cy="596.6" r="2.5" fill="#0084f9"/><circle cx="428.1" cy="594.8" r="2.5" fill="#f90067"/><circle cx="455.8" cy="596.3" r="2.5" fill="#008bfb"/><circle cx="439.1" cy="603.5" r="2.5" fill="#cf0094"/><circle cx="438.8" cy="589.9" r="2.5" fill="#bb00a0"/><circle cx="439.1" cy="598.3" r="2.5" fill="#ff0057"/><circle cx="434.6" cy="590.8" r="2.5" fill="#9135ba"/><circle cx="454.2" cy="593.6" r="2.5" fill="#0080f7"/><circle cx="439.6" cy="591.3" r="2.5" fill="#8b3cc0"/><circle cx="445.3" cy="599.9" r="2.5" fill="#9135ba"/><circle cx="445.0" cy="590.0" r="2.5" fill="#008bfb"/><circle cx="440.9" cy="591.9" r="2.5" fill="#8b3cc0"/><circle cx="407.5" cy="595.2" r="2.5" fill="#fe005c"/><circle cx="437.9" cy="598.0" r="2.5" fill="#7d49cc"/><circle cx="469.9" cy="594.8" r="2.5" fill="#0087fa"/><circle cx="448.2" cy="591.9" r="2.5" fill="#246cea"/><circle cx="426.1" cy="596.6" r="2.5" fill="#c90098"/><circle cx="436.9" cy="603.0" r="2.5" fill="#9b23ad"/><circle cx="433.0" cy="601.0" r="2.5" fill="#3b68e7"/><circle cx="447.3" cy="594.9" r="2.5" fill="#007cf5"/><circle cx="454.3" cy="594.8" r="2.5" fill="#008bfb"/><circle cx="453.6" cy="596.6" r="2.5" fill="#007cf5"/><circle cx="440.7" cy="600.1" r="2.5" fill="#cf0094"/><circle cx="439.4" cy="605.6" r="2.5" fill="#8443c6"/><circle cx="440.8" cy="590.1" r="2.5" fill="#d5008f"/><circle cx="421.8" cy="595.3" r="2.5" fill="#f20072"/><circle cx="439.5" cy="588.1" r="2.5" fill="#8443c6"/><circle cx="433.5" cy="593.4" r="2.5" fill="#9135ba"/><circle cx="447.9" cy="593.8" r="2.5" fill="#008bfb"/><circle cx="441.9" cy="601.7" r="2.5" fill="#7d49cc"/><circle cx="432.6" cy="599.8" r="2.5" fill="#a41daa"/><circle cx="430.5" cy="591.0" r="2.5" fill="#8b3cc0"/><circle cx="430.1" cy="597.2" r="2.5" fill="#d5008f"/><circle cx="441.1" cy="598.1" r="2.5" fill="#b40ca4"/><circle cx="465.7" cy="594.8" r="2.5" fill="#0084f9"/><circle cx="460.5" cy="595.1" r="2.5" fill="#008bfb"/><circle cx="471.5" cy="595.1" r="2.5" fill="#0087fa"/><circle cx="432.6" cy="591.9" r="2.5" fill="#8b3cc0"/><circle cx="434.3" cy="602.3" r="2.5" fill="#9135ba"/><circle cx="432.7" cy="596.3" r="2.5" fill="#ac16a7"/><circle cx="437.8" cy="600.2" r="2.5" fill="#962db4"/><circle cx="433.3" cy="595.1" r="2.5" fill="#b40ca4"/><circle cx="436.6" cy="590.3" r="2.5" fill="#4b63e3"/><circle cx="428.3" cy="597.2" r="2.5" fill="#ff0051"/><circle cx="405.2" cy="595.1" r="2.5" fill="#fe005c"/><circle cx="450.7" cy="595.2" r="2.5" fill="#0084f9"/><circle cx="443.9" cy="600.3" r="2.5" fill="#3b68e7"/><circle cx="449.8" cy="597.6" r="2.5" fill="#3b68e7"/><circle cx="435.2" cy="599.1" r="2.5" fill="#0075f0"/><circle cx="430.2" cy="599.3" r="2.5" fill="#d5008f"/><circle cx="437.4" cy="601.6" r="2.5" fill="#9b23ad"/><circle cx="453.0" cy="594.9" r="2.5" fill="#e00086"/><circle cx="492.1" cy="594.9" r="2.5" fill="#ff0051"/><circle cx="496.8" cy="594.9" r="2.5" fill="#0084f9"/><circle cx="507.2" cy="594.9" r="2.5" fill="#ff0051"/>
<circle cx="438.6" cy="619.5" r="2.5" fill="#3b68e7"/><circle cx="446.4" cy="638.2" r="2.5" fill="#635adb"/><circle cx="440.5" cy="638.9" r="2.5" fill="#585edf"/><circle cx="440.5" cy="644.0" r="2.5" fill="#008bfb"/><circle cx="443.6" cy="633.5" r="2.5" fill="#6d54d6"/><circle cx="438.2" cy="635.2" r="2.5" fill="#0080f7"/><circle cx="444.8" cy="641.6" r="2.5" fill="#9b23ad"/><circle cx="443.3" cy="643.3" r="2.5" fill="#4b63e3"/><circle cx="436.0" cy="637.3" r="2.5" fill="#9135ba"/><circle cx="466.0" cy="631.4" r="2.5" fill="#8443c6"/><circle cx="456.1" cy="634.2" r="2.5" fill="#0079f3"/><circle cx="430.2" cy="633.2" r="2.5" fill="#9135ba"/><circle cx="438.8" cy="639.0" r="2.5" fill="#c2009c"/><circle cx="461.2" cy="632.0" r="2.5" fill="#f5006d"/><circle cx="439.1" cy="633.3" r="2.5" fill="#9135ba"/><circle cx="434.8" cy="640.8" r="2.5" fill="#9135ba"/><circle cx="443.2" cy="630.0" r="2.5" fill="#3b68e7"/><circle cx="443.2" cy="631.6" r="2.5" fill="#a41daa"/><circle cx="443.3" cy="637.7" r="2.5" fill="#fe005c"/><circle cx="444.7" cy="637.2" r="2.5" fill="#0080f7"/><circle cx="433.9" cy="633.8" r="2.5" fill="#f90067"/><circle cx="446.6" cy="625.4" r="2.5" fill="#008bfb"/><circle cx="445.0" cy="624.3" r="2.5" fill="#7d49cc"/><circle cx="439.2" cy="626.5" r="2.5" fill="#0075f0"/><circle cx="429.5" cy="632.0" r="2.5" fill="#8443c6"/><circle cx="436.9" cy="635.5" r="2.5" fill="#246cea"/><circle cx="425.7" cy="630.4" r="2.5" fill="#d5008f"/><circle cx="440.3" cy="624.9" r="2.5" fill="#0075f0"/><circle cx="463.1" cy="631.9" r="2.5" fill="#a41daa"/><circle cx="446.5" cy="633.3" r="2.5" fill="#635adb"/><circle cx="433.0" cy="633.7" r="2.5" fill="#ac16a7"/><circle cx="420.2" cy="632.0" r="2.5" fill="#0070ee"/><circle cx="436.5" cy="622.9" r="2.5" fill="#8b3cc0"/><circle cx="443.6" cy="640.9" r="2.5" fill="#9135ba"/><circle cx="451.0" cy="628.5" r="2.5" fill="#0079f3"/><circle cx="434.9" cy="629.8" r="2.5" fill="#008bfb"/><circle cx="416.1" cy="632.0" r="2.5" fill="#a41daa"/><circle cx="422.5" cy="631.4" r="2.5" fill="#0080f7"/><circle cx="445.3" cy="622.5" r="2.5" fill="#c90098"/><circle cx="453.7" cy="634.9" r="2.5" fill="#ff0057"/><circle cx="439.3" cy="641.9" r="2.5" fill="#8443c6"/><circle cx="436.7" cy="632.1" r="2.5" fill="#0070ee"/><circle cx="474.9" cy="632.0" r="2.5" fill="#e50081"/><circle cx="459.7" cy="632.1" r="2.5" fill="#c2009c"/><circle cx="425.5" cy="633.6" r="2.5" fill="#585edf"/><circle cx="418.1" cy="631.6" r="2.5" fill="#c2009c"/><circle cx="444.2" cy="639.6" r="2.5" fill="#9135ba"/><circle cx="440.3" cy="640.3" r="2.5" fill="#a41daa"/><circle cx="438.2" cy="621.7" r="2.5" fill="#b40ca4"/><circle cx="445.2" cy="633.5" r="2.5" fill="#fc0062"/><circle cx="434.6" cy="626.7" r="2.5" fill="#9b23ad"/><circle cx="443.3" cy="627.9" r="2.5" fill="#635adb"/><circle cx="448.4" cy="631.8" r="2.5" fill="#246cea"/><circle cx="451.6" cy="633.3" r="2.5" fill="#6d54d6"/><circle cx="445.1" cy="625.8" r="2.5" fill="#585edf"/><circle cx="429.7" cy="627.0" r="2.5" fill="#7d49cc"/><circle cx="432.9" cy="628.2" r="2.5" fill="#0080f7"/><circle cx="440.8" cy="642.5" r="2.5" fill="#f20072"/><circle cx="436.5" cy="628.2" r="2.5" fill="#8443c6"/><circle cx="437.9" cy="640.6" r="2.5" fill="#9135ba"/><circle cx="453.7" cy="633.8" r="2.5" fill="#8b3cc0"/><circle cx="446.7" cy="635.2" r="2.5" fill="#008bfb"/><circle cx="440.0" cy="621.0" r="2.5" fill="#6d54d6"/><circle cx="438.8" cy="622.9" r="2.5" fill="#754fd1"/><circle cx="437.1" cy="642.3" r="2.5" fill="#8b3cc0"/><circle cx="440.6" cy="629.9" r="2.5" fill="#0075f0"/><circle cx="457.7" cy="631.4" r="2.5" fill="#cf0094"/><circle cx="455.5" cy="631.7" r="2.5" fill="#585edf"/><circle cx="442.2" cy="622.3" r="2.5" fill="#8443c6"/><circle cx="449.3" cy="627.7" r="2.5" fill="#0075f0"/><circle cx="432.3" cy="638.7" r="2.5" fill="#0070ee"/><circle cx="434.4" cy="638.8" r="2.5" fill="#9b23ad"/><circle cx="434.6" cy="628.5" r="2.5" fill="#962db4"/><circle cx="431.6" cy="630.1" r="2.5" fill="#0070ee"/><circle cx="443.6" cy="620.8" r="2.5" fill="#8443c6"/><circle cx="447.2" cy="627.4" r="2.5" fill="#ee0077"/><circle cx="453.6" cy="628.3" r="2.5" fill="#008bfb"/><circle cx="440.7" cy="628.2" r="2.5" fill="#e00086"/><circle cx="467.8" cy="631.8" r="2.5" fill="#585edf"/><circle cx="446.7" cy="636.5" r="2.5" fill="#962db4"/><circle cx="436.4" cy="630.0" r="2.5" fill="#6d54d6"/><circle cx="428.2" cy="634.7" r="2.5" fill="#3b68e7"/><circle cx="440.3" cy="633.6" r="2.5" fill="#4b63e3"/><circle cx="445.3" cy="631.9" r="2.5" fill="#9b23ad"/><circle cx="438.8" cy="631.6" r="2.5" fill="#3b68e7"/><circle cx="449.6" cy="634.1" r="2.5" fill="#0070ee"/><circle cx="450.7" cy="634.8" r="2.5" fill="#246cea"/><circle cx="451.1" cy="626.8" r="2.5" fill="#008bfb"/><circle cx="433.8" cy="631.4" r="2.5" fill="#ff0057"/><circle cx="413.6" cy="632.0" r="2.5" fill="#c2009c"/><circle cx="470.2" cy="631.5" r="2.5" fill="#f5006d"/><circle cx="430.7" cy="628.5" r="2.5" fill="#246cea"/><circle cx="441.3" cy="632.1" r="2.5" fill="#a41daa"/><circle cx="453.5" cy="629.8" r="2.5" fill="#7d49cc"/><circle cx="430.2" cy="637.1" r="2.5" fill="#9135ba"/><circle cx="438.0" cy="628.3" r="2.5" fill="#fc0062"/><circle cx="453.0" cy="631.6" r="2.5" fill="#0075f0"/><circle cx="424.7" cy="633.1" r="2.5" fill="#a41daa"/><circle cx="446.4" cy="631.8" r="2.5" fill="#4b63e3"/><circle cx="450.9" cy="630.0" r="2.5" fill="#f90067"/><circle cx="450.9" cy="636.8" r="2.5" fill="#ee0077"/><circle cx="437.3" cy="640.3" r="2.5" fill="#635adb"/><circle cx="440.3" cy="626.8" r="2.5" fill="#0079f3"/><circle cx="430.8" cy="635.0" r="2.5" fill="#008bfb"/><circle cx="449.5" cy="637.7" r="2.5" fill="#ff0057"/><circle cx="438.1" cy="625.1" r="2.5" fill="#7d49cc"/><circle cx="445.3" cy="630.1" r="2.5" fill="#6d54d6"/><circle cx="424.6" cy="632.0" r="2.5" fill="#ee0077"/><circle cx="438.7" cy="644.0" r="2.5" fill="#0084f9"/><circle cx="441.1" cy="637.2" r="2.5" fill="#8b3cc0"/><circle cx="434.3" cy="635.1" r="2.5" fill="#0070ee"/><circle cx="441.1" cy="623.4" r="2.5" fill="#6d54d6"/><circle cx="456.8" cy="632.7" r="2.5" fill="#585edf"/><circle cx="472.3" cy="632.1" r="2.5" fill="#8b3cc0"/><circle cx="428.2" cy="631.6" r="2.5" fill="#007cf5"/><circle cx="446.9" cy="630.4" r="2.5" fill="#246cea"/><circle cx="448.7" cy="629.7" r="2.5" fill="#0079f3"/><circle cx="450.5" cy="631.5" r="2.5" fill="#246cea"/><circle cx="434.7" cy="625.1" r="2.5" fill="#9135ba"/><circle cx="438.7" cy="636.6" r="2.5" fill="#754fd1"/><circle cx="432.9" cy="636.9" r="2.5" fill="#9135ba"/><circle cx="449.2" cy="635.8" r="2.5" fill="#0079f3"/><circle cx="421.4" cy="632.9" r="2.5" fill="#962db4"/><circle cx="431.9" cy="631.6" r="2.5" fill="#c90098"/><circle cx="445.4" cy="628.3" r="2.5" fill="#c90098"/><circle cx="443.4" cy="639.6" r="2.5" fill="#008bfb"/><circle cx="443.6" cy="624.5" r="2.5" fill="#4b63e3"/><circle cx="442.5" cy="635.9" r="2.5" fill="#635adb"/><circle cx="435.0" cy="637.0" r="2.5" fill="#6d54d6"/><circle cx="425.4" cy="631.5" r="2.5" fill="#ff0051"/><circle cx="432.2" cy="635.3" r="2.5" fill="#9b23ad"/><circle cx="432.4" cy="626.8" r="2.5" fill="#6d54d6"/><circle cx="440.4" cy="619.1" r="2.5" fill="#8443c6"/><circle cx="430.9" cy="629.9" r="2.5" fill="#9b23ad"/><circle cx="446.6" cy="628.4" r="2.5" fill="#a41daa"/><circle cx="440.6" cy="635.6" r="2.5" fill="#c2009c"/><circle cx="437.9" cy="629.7" r="2.5" fill="#007cf5"/><circle cx="447.5" cy="639.4" r="2.5" fill="#246cea"/><circle cx="435.9" cy="638.6" r="2.5" fill="#8b3cc0"/><circle cx="436.4" cy="624.6" r="2.5" fill="#7d49cc"/><circle cx="436.0" cy="633.8" r="2.5" fill="#754fd1"/><circle cx="445.6" cy="635.9" r="2.5" fill="#6d54d6"/><circle cx="436.3" cy="626.6" r="2.5" fill="#3b68e7"/><circle cx="443.2" cy="626.3" r="2.5" fill="#007cf5"/><circle cx="402.3" cy="631.8" r="2.5" fill="#c90098"/><circle cx="405.5" cy="631.8" r="2.5" fill="#c90098"/>
<circle cx="439.6" cy="661.7" r="2.5" fill="#9135ba"/><circle cx="435.4" cy="668.7" r="2.5" fill="#ee0077"/><circle cx="429.5" cy="665.2" r="2.5" fill="#4b63e3"/><circle cx="441.1" cy="679.0" r="2.5" fill="#008bfb"/><circle cx="445.4" cy="664.9" r="2.5" fill="#d5008f"/><circle cx="442.0" cy="660.5" r="2.5" fill="#0070ee"/><circle cx="449.4" cy="668.9" r="2.5" fill="#585edf"/><circle cx="437.3" cy="670.5" r="2.5" fill="#f20072"/><circle cx="438.8" cy="668.5" r="2.5" fill="#8443c6"/><circle cx="429.3" cy="675.5" r="2.5" fill="#3b68e7"/><circle cx="448.4" cy="665.6" r="2.5" fill="#9b23ad"/><circle cx="426.3" cy="668.3" r="2.5" fill="#0075f0"/><circle cx="424.2" cy="665.1" r="2.5" fill="#008bfb"/><circle cx="409.6" cy="669.0" r="2.5" fill="#0087fa"/><circle cx="439.0" cy="666.9" r="2.5" fill="#8443c6"/><circle cx="435.9" cy="661.2" r="2.5" fill="#8b3cc0"/><circle cx="433.1" cy="667.0" r="2.5" fill="#cf0094"/><circle cx="436.9" cy="677.0" r="2.5" fill="#6d54d6"/><circle cx="433.8" cy="676.3" r="2.5" fill="#4b63e3"/><circle cx="438.2" cy="665.1" r="2.5" fill="#ff0057"/><circle cx="424.9" cy="671.5" r="2.5" fill="#0080f7"/><circle cx="429.2" cy="666.8" r="2.5" fill="#0080f7"/><circle cx="440.8" cy="658.2" r="2.5" fill="#ac16a7"/><circle cx="444.1" cy="660.6" r="2.5" fill="#8443c6"/><circle cx="430.8" cy="663.4" r="2.5" fill="#d5008f"/><circle cx="440.9" cy="668.9" r="2.5" fill="#c90098"/><circle cx="436.1" cy="670.6" r="2.5" fill="#3b68e7"/><circle cx="420.6" cy="666.1" r="2.5" fill="#0084f9"/><circle cx="436.8" cy="661.7" r="2.5" fill="#a41daa"/><circle cx="424.9" cy="673.1" r="2.5" fill="#635adb"/><circle cx="422.3" cy="668.7" r="2.5" fill="#635adb"/><circle cx="412.4" cy="669.0" r="2.5" fill="#3b68e7"/><circle cx="429.5" cy="673.8" r="2.5" fill="#0079f3"/><circle cx="439.7" cy="675.4" r="2.5" fill="#754fd1"/><circle cx="453.8" cy="666.6" r="2.5" fill="#9b23ad"/><circle cx="420.5" cy="668.6" r="2.5" fill="#8443c6"/><circle cx="427.3" cy="674.4" r="2.5" fill="#008bfb"/><circle cx="442.1" cy="666.6" r="2.5" fill="#9b23ad"/><circle cx="451.6" cy="670.4" r="2.5" fill="#635adb"/><circle cx="441.3" cy="670.4" r="2.5" fill="#008bfb"/><circle cx="442.3" cy="665.2" r="2.5" fill="#0070ee"/><circle cx="431.0" cy="671.7" r="2.5" fill="#246cea"/><circle cx="438.8" cy="663.5" r="2.5" fill="#962db4"/><circle cx="455.8" cy="668.4" r="2.5" fill="#bb00a0"/><circle cx="434.7" cy="678.3" r="2.5" fill="#585edf"/><circle cx="443.9" cy="663.7" r="2.5" fill="#8443c6"/><circle cx="433.6" cy="672.2" r="2.5" fill="#3b68e7"/><circle cx="434.7" cy="663.0" r="2.5" fill="#8b3cc0"/><circle cx="447.4" cy="668.4" r="2.5" fill="#0079f3"/><circle cx="445.3" cy="672.3" r="2.5" fill="#6d54d6"/><circle cx="442.0" cy="663.2" r="2.5" fill="#6d54d6"/><circle cx="439.8" cy="670.4" r="2.5" fill="#7d49cc"/><circle cx="448.3" cy="670.0" r="2.5" fill="#585edf"/><circle cx="435.7" cy="672.6" r="2.5" fill="#b40ca4"/><circle cx="436.0" cy="676.4" r="2.5" fill="#246cea"/><circle cx="449.3" cy="670.6" r="2.5" fill="#9135ba"/><circle cx="441.8" cy="662.1" r="2.5" fill="#4b63e3"/><circle cx="435.2" cy="674.4" r="2.5" fill="#9b23ad"/><circle cx="430.7" cy="673.3" r="2.5" fill="#0084f9"/><circle cx="432.7" cy="668.7" r="2.5" fill="#635adb"/><circle cx="416.8" cy="670.3" r="2.5" fill="#246cea"/><circle cx="438.0" cy="658.6" r="2.5" fill="#3b68e7"/><circle cx="453.3" cy="671.0" r="2.5" fill="#0070ee"/><circle cx="419.2" cy="666.1" r="2.5" fill="#0080f7"/><circle cx="437.3" cy="673.3" r="2.5" fill="#0070ee"/><circle cx="443.6" cy="676.8" r="2.5" fill="#7d49cc"/><circle cx="429.3" cy="671.8" r="2.5" fill="#4b63e3"/><circle cx="416.8" cy="668.7" r="2.5" fill="#246cea"/><circle cx="439.1" cy="656.8" r="2.5" fill="#9b23ad"/><circle cx="438.9" cy="660.2" r="2.5" fill="#9b23ad"/><circle cx="443.0" cy="673.7" r="2.5" fill="#007cf5"/><circle cx="451.4" cy="668.5" r="2.5" fill="#754fd1"/><circle cx="430.4" cy="666.8" r="2.5" fill="#635adb"/><circle cx="460.8" cy="668.4" r="2.5" fill="#6d54d6"/><circle cx="443.4" cy="661.9" r="2.5" fill="#8443c6"/><circle cx="447.5" cy="673.4" r="2.5" fill="#635adb"/><circle cx="443.0" cy="675.5" r="2.5" fill="#246cea"/><circle cx="426.7" cy="664.8" r="2.5" fill="#007cf5"/><circle cx="427.0" cy="667.1" r="2.5" fill="#8b3cc0"/><circle cx="433.7" cy="670.6" r="2.5" fill="#635adb"/><circle cx="435.4" cy="658.9" r="2.5" fill="#9b23ad"/><circle cx="447.3" cy="667.1" r="2.5" fill="#3b68e7"/><circle cx="427.7" cy="670.6" r="2.5" fill="#4b63e3"/><circle cx="445.8" cy="668.8" r="2.5" fill="#8b3cc0"/><circle cx="453.5" cy="668.9" r="2.5" fill="#6d54d6"/><circle cx="456.7" cy="669.6" r="2.5" fill="#8443c6"/><circle cx="448.2" cy="664.1" r="2.5" fill="#8b3cc0"/><circle cx="431.6" cy="674.7" r="2.5" fill="#4b63e3"/><circle cx="437.4" cy="672.1" r="2.5" fill="#8b3cc0"/><circle cx="451.6" cy="667.0" r="2.5" fill="#962db4"/><circle cx="436.7" cy="668.7" r="2.5" fill="#8b3cc0"/><circle cx="443.0" cy="666.6" r="2.5" fill="#8443c6"/><circle cx="437.0" cy="675.3" r="2.5" fill="#bb00a0"/><circle cx="423.5" cy="672.3" r="2.5" fill="#4b63e3"/><circle cx="431.4" cy="670.1" r="2.5" fill="#3b68e7"/><circle cx="446.3" cy="670.6" r="2.5" fill="#a41daa"/><circle cx="435.1" cy="664.6" r="2.5" fill="#0075f0"/><circle cx="449.3" cy="666.7" r="2.5" fill="#9b23ad"/><circle cx="419.0" cy="671.0" r="2.5" fill="#007cf5"/><circle cx="437.2" cy="660.4" r="2.5" fill="#635adb"/><circle cx="443.6" cy="672.3" r="2.5" fill="#962db4"/><circle cx="439.1" cy="665.6" r="2.5" fill="#0080f7"/><circle cx="431.0" cy="668.5" r="2.5" fill="#0079f3"/><circle cx="424.3" cy="670.0" r="2.5" fill="#0075f0"/><circle cx="444.3" cy="670.2" r="2.5" fill="#b40ca4"/><circle cx="443.6" cy="678.3" r="2.5" fill="#b40ca4"/><circle cx="440.8" cy="675.4" r="2.5" fill="#e00086"/><circle cx="414.8" cy="668.6" r="2.5" fill="#bb00a0"/><circle cx="439.4" cy="680.6" r="2.5" fill="#008bfb"/><circle cx="452.0" cy="671.8" r="2.5" fill="#8443c6"/><circle cx="428.8" cy="663.2" r="2.5" fill="#008bfb"/><circle cx="449.2" cy="672.3" r="2.5" fill="#246cea"/><circle cx="418.6" cy="668.7" r="2.5" fill="#635adb"/><circle cx="446.5" cy="662.9" r="2.5" fill="#c2009c"/><circle cx="441.5" cy="672.2" r="2.5" fill="#8443c6"/><circle cx="439.4" cy="676.8" r="2.5" fill="#a41daa"/><circle cx="437.8" cy="666.8" r="2.5" fill="#6d54d6"/><circle cx="443.3" cy="665.1" r="2.5" fill="#3b68e7"/><circle cx="439.8" cy="673.7" r="2.5" fill="#007cf5"/><circle cx="432.5" cy="664.9" r="2.5" fill="#9b23ad"/><circle cx="446.4" cy="666.5" r="2.5" fill="#ac16a7"/><circle cx="437.0" cy="663.5" r="2.5" fill="#8443c6"/><circle cx="438.0" cy="679.0" r="2.5" fill="#9b23ad"/><circle cx="447.2" cy="671.8" r="2.5" fill="#635adb"/><circle cx="420.3" cy="671.2" r="2.5" fill="#246cea"/><circle cx="459.1" cy="668.5" r="2.5" fill="#246cea"/><circle cx="441.4" cy="673.5" r="2.5" fill="#635adb"/><circle cx="429.2" cy="670.0" r="2.5" fill="#cf0094"/><circle cx="433.5" cy="662.7" r="2.5" fill="#4b63e3"/><circle cx="443.4" cy="668.8" r="2.5" fill="#585edf"/><circle cx="422.7" cy="666.8" r="2.5" fill="#e9007c"/><circle cx="430.9" cy="665.3" r="2.5" fill="#0080f7"/><circle cx="416.9" cy="666.8" r="2.5" fill="#6d54d6"/><circle cx="436.8" cy="680.4" r="2.5" fill="#585edf"/><circle cx="440.0" cy="678.7" r="2.5" fill="#b40ca4"/><circle cx="432.8" cy="674.4" r="2.5" fill="#754fd1"/><circle cx="425.4" cy="667.1" r="2.5" fill="#0079f3"/><circle cx="440.0" cy="658.0" r="2.5" fill="#3b68e7"/><circle cx="445.2" cy="674.2" r="2.5" fill="#007cf5"/><circle cx="439.9" cy="672.4" r="2.5" fill="#ff0057"/><circle cx="445.6" cy="676.7" r="2.5" fill="#7d49cc"/><circle cx="422.6" cy="670.2" r="2.5" fill="#6d54d6"/><circle cx="424.2" cy="668.3" r="2.5" fill="#e9007c"/><circle cx="429.6" cy="668.3" r="2.5" fill="#585edf"/><circle cx="435.8" cy="666.4" r="2.5" fill="#9135ba"/><circle cx="426.3" cy="672.0" r="2.5" fill="#0084f9"/><circle cx="442.0" cy="676.7" r="2.5" fill="#635adb"/><circle cx="472.4" cy="668.6" r="2.5" fill="#ff0051"/>
<circle cx="443.9" cy="696.2" r="2.5" fill="#7d49cc"/><circle cx="454.3" cy="707.2" r="2.5" fill="#d5008f"/><circle cx="439.6" cy="716.7" r="2.5" fill="#d5008f"/><circle cx="441.6" cy="703.6" r="2.5" fill="#0087fa"/><circle cx="456.0" cy="706.6" r="2.5" fill="#ff0051"/><circle cx="444.0" cy="701.8" r="2.5" fill="#8b3cc0"/><circle cx="446.9" cy="707.5" r="2.5" fill="#3b68e7"/><circle cx="437.7" cy="698.6" r="2.5" fill="#8b3cc0"/><circle cx="449.2" cy="705.6" r="2.5" fill="#d5008f"/><circle cx="441.6" cy="693.0" r="2.5" fill="#cf0094"/><circle cx="425.9" cy="708.5" r="2.5" fill="#008bfb"/><circle cx="438.8" cy="713.6" r="2.5" fill="#0079f3"/><circle cx="432.7" cy="699.9" r="2.5" fill="#6d54d6"/><circle cx="440.8" cy="710.9" r="2.5" fill="#007cf5"/><circle cx="435.0" cy="703.9" r="2.5" fill="#b40ca4"/><circle cx="455.0" cy="705.5" r="2.5" fill="#ff0057"/><circle cx="437.5" cy="709.0" r="2.5" fill="#8b3cc0"/><circle cx="434.1" cy="705.4" r="2.5" fill="#cf0094"/><circle cx="426.1" cy="705.4" r="2.5" fill="#8443c6"/><circle cx="437.2" cy="710.0" r="2.5" fill="#0075f0"/><circle cx="435.2" cy="700.4" r="2.5" fill="#c2009c"/><circle cx="434.8" cy="711.1" r="2.5" fill="#3b68e7"/><circle cx="429.4" cy="703.0" r="2.5" fill="#a41daa"/><circle cx="446.8" cy="712.3" r="2.5" fill="#c2009c"/><circle cx="441.9" cy="714.2" r="2.5" fill="#585edf"/><circle cx="440.7" cy="709.2" r="2.5" fill="#585edf"/><circle cx="457.6" cy="705.8" r="2.5" fill="#a41daa"/><circle cx="440.6" cy="701.7" r="2.5" fill="#246cea"/><circle cx="440.7" cy="697.0" r="2.5" fill="#4b63e3"/><circle cx="441.0" cy="694.8" r="2.5" fill="#db008b"/><circle cx="432.4" cy="710.6" r="2.5" fill="#3b68e7"/><circle cx="437.1" cy="712.0" r="2.5" fill="#4b63e3"/><circle cx="453.5" cy="705.3" r="2.5" fill="#6d54d6"/><circle cx="441.5" cy="715.7" r="2.5" fill="#9b23ad"/><circle cx="451.0" cy="704.2" r="2.5" fill="#0070ee"/><circle cx="447.8" cy="709.0" r="2.5" fill="#962db4"/><circle cx="443.9" cy="712.6" r="2.5" fill="#3b68e7"/><circle cx="440.7" cy="698.1" r="2.5" fill="#c2009c"/><circle cx="445.7" cy="711.9" r="2.5" fill="#007cf5"/><circle cx="432.2" cy="708.7" r="2.5" fill="#0084f9"/><circle cx="454.9" cy="704.0" r="2.5" fill="#7d49cc"/><circle cx="447.8" cy="701.9" r="2.5" fill="#c2009c"/><circle cx="438.6" cy="705.3" r="2.5" fill="#ff0057"/><circle cx="451.5" cy="707.1" r="2.5" fill="#cf0094"/><circle cx="437.5" cy="707.3" r="2.5" fill="#0087fa"/><circle cx="423.9" cy="705.7" r="2.5" fill="#0079f3"/><circle cx="449.3" cy="710.6" r="2.5" fill="#585edf"/><circle cx="439.2" cy="710.5" r="2.5" fill="#754fd1"/><circle cx="434.1" cy="701.8" r="2.5" fill="#6d54d6"/><circle cx="438.3" cy="702.4" r="2.5" fill="#e00086"/><circle cx="428.6" cy="707.9" r="2.5" fill="#ff0051"/><circle cx="437.3" cy="705.1" r="2.5" fill="#d5008f"/><circle cx="432.7" cy="707.1" r="2.5" fill="#635adb"/><circle cx="451.5" cy="705.7" r="2.5" fill="#0075f0"/><circle cx="439.4" cy="699.3" r="2.5" fill="#9135ba"/><circle cx="436.3" cy="700.9" r="2.5" fill="#754fd1"/><circle cx="446.9" cy="700.5" r="2.5" fill="#cf0094"/><circle cx="426.3" cy="702.7" r="2.5" fill="#9135ba"/><circle cx="450.1" cy="701.7" r="2.5" fill="#c2009c"/><circle cx="437.0" cy="702.0" r="2.5" fill="#962db4"/><circle cx="461.0" cy="705.1" r="2.5" fill="#cf0094"/><circle cx="442.9" cy="710.5" r="2.5" fill="#6d54d6"/><circle cx="432.6" cy="703.5" r="2.5" fill="#9b23ad"/><circle cx="432.7" cy="705.6" r="2.5" fill="#a41daa"/><circle cx="444.5" cy="703.5" r="2.5" fill="#8443c6"/><circle cx="433.3" cy="712.5" r="2.5" fill="#008bfb"/><circle cx="428.9" cy="705.4" r="2.5" fill="#9135ba"/><circle cx="443.3" cy="703.4" r="2.5" fill="#4b63e3"/><circle cx="459.7" cy="705.4" r="2.5" fill="#db008b"/><circle cx="448.1" cy="705.8" r="2.5" fill="#ee0077"/><circle cx="437.6" cy="704.0" r="2.5" fill="#4b63e3"/><circle cx="439.2" cy="697.1" r="2.5" fill="#e00086"/><circle cx="443.8" cy="698.6" r="2.5" fill="#8b3cc0"/><circle cx="439.1" cy="715.4" r="2.5" fill="#b40ca4"/><circle cx="451.9" cy="708.7" r="2.5" fill="#b40ca4"/><circle cx="434.6" cy="709.4" r="2.5" fill="#4b63e3"/><circle cx="450.0" cy="703.4" r="2.5" fill="#962db4"/><circle cx="430.7" cy="703.9" r="2.5" fill="#a41daa"/><circle cx="430.5" cy="708.5" r="2.5" fill="#008bfb"/><circle cx="447.9" cy="703.6" r="2.5" fill="#962db4"/><circle cx="435.1" cy="714.1" r="2.5" fill="#635adb"/><circle cx="441.2" cy="712.7" r="2.5" fill="#ac16a7"/><circle cx="443.2" cy="714.6" r="2.5" fill="#7d49cc"/><circle cx="441.7" cy="718.0" r="2.5" fill="#585edf"/><circle cx="470.4" cy="705.3" r="2.5" fill="#6d54d6"/><circle cx="444.5" cy="707.1" r="2.5" fill="#7d49cc"/><circle cx="439.5" cy="707.2" r="2.5" fill="#635adb"/><circle cx="438.7" cy="708.9" r="2.5" fill="#e9007c"/><circle cx="439.7" cy="712.1" r="2.5" fill="#f20072"/><circle cx="467.6" cy="705.6" r="2.5" fill="#f90067"/><circle cx="447.3" cy="710.4" r="2.5" fill="#246cea"/><circle cx="430.3" cy="706.8" r="2.5" fill="#962db4"/><circle cx="430.4" cy="705.2" r="2.5" fill="#754fd1"/><circle cx="438.4" cy="695.7" r="2.5" fill="#3b68e7"/><circle cx="436.2" cy="715.0" r="2.5" fill="#0080f7"/><circle cx="433.4" cy="698.1" r="2.5" fill="#635adb"/><circle cx="466.3" cy="705.6" r="2.5" fill="#ff0051"/><circle cx="433.1" cy="702.0" r="2.5" fill="#635adb"/><circle cx="436.4" cy="697.5" r="2.5" fill="#c2009c"/><circle cx="444.5" cy="702.4" r="2.5" fill="#ac16a7"/><circle cx="441.3" cy="705.5" r="2.5" fill="#c2009c"/><circle cx="441.3" cy="700.4" r="2.5" fill="#0084f9"/><circle cx="442.9" cy="709.4" r="2.5" fill="#cf0094"/><circle cx="434.5" cy="698.2" r="2.5" fill="#0079f3"/><circle cx="445.9" cy="713.7" r="2.5" fill="#246cea"/><circle cx="472.1" cy="705.6" r="2.5" fill="#0075f0"/><circle cx="435.1" cy="712.4" r="2.5" fill="#0079f3"/><circle cx="449.9" cy="708.9" r="2.5" fill="#cf0094"/><circle cx="439.5" cy="704.1" r="2.5" fill="#ac16a7"/><circle cx="444.8" cy="710.1" r="2.5" fill="#585edf"/><circle cx="449.7" cy="706.9" r="2.5" fill="#b40ca4"/><circle cx="435.3" cy="706.9" r="2.5" fill="#962db4"/><circle cx="430.2" cy="709.8" r="2.5" fill="#962db4"/><circle cx="442.6" cy="707.6" r="2.5" fill="#6d54d6"/><circle cx="441.2" cy="707.3" r="2.5" fill="#d5008f"/><circle cx="428.8" cy="710.0" r="2.5" fill="#b40ca4"/><circle cx="463.3" cy="705.2" r="2.5" fill="#0079f3"/><circle cx="442.5" cy="705.4" r="2.5" fill="#b40ca4"/><circle cx="445.4" cy="705.4" r="2.5" fill="#fe005c"/><circle cx="445.5" cy="699.0" r="2.5" fill="#db008b"/><circle cx="424.5" cy="704.4" r="2.5" fill="#007cf5"/><circle cx="424.5" cy="707.1" r="2.5" fill="#0084f9"/><circle cx="446.0" cy="700.1" r="2.5" fill="#e50081"/><circle cx="436.3" cy="713.6" r="2.5" fill="#cf0094"/><circle cx="430.3" cy="700.3" r="2.5" fill="#f20072"/><circle cx="445.6" cy="709.2" r="2.5" fill="#9b23ad"/><circle cx="442.5" cy="716.2" r="2.5" fill="#bb00a0"/><circle cx="443.9" cy="700.0" r="2.5" fill="#7d49cc"/><circle cx="431.1" cy="702.2" r="2.5" fill="#0079f3"/><circle cx="439.5" cy="700.7" r="2.5" fill="#0084f9"/><circle cx="398.8" cy="705.4" r="2.5" fill="#635adb"/><circle cx="401.7" cy="705.4" r="2.5" fill="#635adb"/><circle cx="404.3" cy="705.4" r="2.5" fill="#635adb"/><circle cx="410.4" cy="705.4" r="2.5" fill="#6d54d6"/><circle cx="413.4" cy="705.4" r="2.5" fill="#6d54d6"/><circle cx="416.3" cy="705.4" r="2.5" fill="#635adb"/><circle cx="420.7" cy="705.4" r="2.5" fill="#ff0051"/><circle cx="478.8" cy="705.4" r="2.5" fill="#635adb"/>
<circle cx="430.7" cy="742.6" r="2.5" fill="#e50081"/><circle cx="442.8" cy="749.4" r="2.5" fill="#a41daa"/><circle cx="434.8" cy="744.3" r="2.5" fill="#008bfb"/><circle cx="428.7" cy="747.1" r="2.5" fill="#9135ba"/><circle cx="423.4" cy="742.5" r="2.5" fill="#d5008f"/><circle cx="432.4" cy="737.6" r="2.5" fill="#b40ca4"/><circle cx="436.3" cy="735.3" r="2.5" fill="#a41daa"/><circle cx="447.4" cy="745.7" r="2.5" fill="#9135ba"/><circle cx="428.6" cy="740.3" r="2.5" fill="#6d54d6"/><circle cx="445.4" cy="740.6" r="2.5" fill="#db008b"/><circle cx="432.7" cy="749.1" r="2.5" fill="#a41daa"/><circle cx="435.9" cy="749.0" r="2.5" fill="#bb00a0"/><circle cx="429.5" cy="738.5" r="2.5" fill="#ff0057"/><circle cx="458.9" cy="742.4" r="2.5" fill="#d5008f"/><circle cx="440.4" cy="750.7" r="2.5" fill="#cf0094"/><circle cx="436.5" cy="745.5" r="2.5" fill="#0087fa"/><circle cx="438.7" cy="750.5" r="2.5" fill="#d5008f"/><circle cx="434.6" cy="745.9" r="2.5" fill="#4b63e3"/><circle cx="434.7" cy="748.9" r="2.5" fill="#9135ba"/><circle cx="444.5" cy="745.8" r="2.5" fill="#0075f0"/><circle cx="430.0" cy="736.9" r="2.5" fill="#9135ba"/><circle cx="448.8" cy="740.3" r="2.5" fill="#e9007c"/><circle cx="464.1" cy="742.6" r="2.5" fill="#c2009c"/><circle cx="444.1" cy="743.9" r="2.5" fill="#9135ba"/><circle cx="429.0" cy="741.9" r="2.5" fill="#a41daa"/><circle cx="439.0" cy="733.7" r="2.5" fill="#a41daa"/><circle cx="434.4" cy="752.3" r="2.5" fill="#008bfb"/><circle cx="438.2" cy="743.7" r="2.5" fill="#e00086"/><circle cx="427.8" cy="737.8" r="2.5" fill="#f20072"/><circle cx="436.5" cy="752.5" r="2.5" fill="#4b63e3"/><circle cx="433.8" cy="754.0" r="2.5" fill="#8443c6"/><circle cx="460.0" cy="743.6" r="2.5" fill="#962db4"/><circle cx="444.9" cy="736.4" r="2.5" fill="#e50081"/><circle cx="433.9" cy="734.4" r="2.5" fill="#008bfb"/><circle cx="446.2" cy="740.3" r="2.5" fill="#8b3cc0"/><circle cx="433.1" cy="735.3" r="2.5" fill="#ac16a7"/><circle cx="446.2" cy="749.2" r="2.5" fill="#d5008f"/><circle cx="453.4" cy="742.6" r="2.5" fill="#c90098"/><circle cx="447.2" cy="743.9" r="2.5" fill="#9135ba"/><circle cx="425.4" cy="741.1" r="2.5" fill="#b40ca4"/><circle cx="436.2" cy="734.0" r="2.5" fill="#3b68e7"/><circle cx="471.6" cy="742.3" r="2.5" fill="#9135ba"/><circle cx="424.7" cy="743.5" r="2.5" fill="#8b3cc0"/><circle cx="467.6" cy="741.9" r="2.5" fill="#9135ba"/><circle cx="444.1" cy="738.7" r="2.5" fill="#585edf"/><circle cx="442.7" cy="738.6" r="2.5" fill="#754fd1"/><circle cx="444.7" cy="742.0" r="2.5" fill="#754fd1"/><circle cx="449.0" cy="742.1" r="2.5" fill="#962db4"/><circle cx="449.6" cy="744.2" r="2.5" fill="#8b3cc0"/><circle cx="432.6" cy="744.0" r="2.5" fill="#754fd1"/><circle cx="438.4" cy="738.8" r="2.5" fill="#3b68e7"/><circle cx="450.4" cy="738.9" r="2.5" fill="#8443c6"/><circle cx="442.5" cy="747.6" r="2.5" fill="#962db4"/><circle cx="454.9" cy="740.8" r="2.5" fill="#e00086"/><circle cx="431.9" cy="742.3" r="2.5" fill="#9135ba"/><circle cx="444.3" cy="750.0" r="2.5" fill="#8b3cc0"/><circle cx="449.3" cy="748.8" r="2.5" fill="#8443c6"/><circle cx="436.9" cy="740.3" r="2.5" fill="#962db4"/><circle cx="442.6" cy="745.4" r="2.5" fill="#0080f7"/><circle cx="450.7" cy="746.0" r="2.5" fill="#9135ba"/><circle cx="429.7" cy="749.6" r="2.5" fill="#8b3cc0"/><circle cx="440.3" cy="754.1" r="2.5" fill="#635adb"/><circle cx="438.7" cy="752.1" r="2.5" fill="#c90098"/><circle cx="437.3" cy="750.6" r="2.5" fill="#8b3cc0"/><circle cx="456.9" cy="740.7" r="2.5" fill="#7d49cc"/><circle cx="438.5" cy="754.0" r="2.5" fill="#c2009c"/><circle cx="434.3" cy="732.4" r="2.5" fill="#ac16a7"/><circle cx="428.0" cy="745.6" r="2.5" fill="#c90098"/><circle cx="443.4" cy="737.1" r="2.5" fill="#bb00a0"/><circle cx="438.3" cy="732.5" r="2.5" fill="#0084f9"/><circle cx="442.2" cy="742.7" r="2.5" fill="#6d54d6"/><circle cx="446.2" cy="742.5" r="2.5" fill="#4b63e3"/><circle cx="470.2" cy="742.1" r="2.5" fill="#962db4"/><circle cx="465.0" cy="742.5" r="2.5" fill="#8b3cc0"/><circle cx="427.6" cy="738.9" r="2.5" fill="#962db4"/><circle cx="441.3" cy="745.8" r="2.5" fill="#e9007c"/><circle cx="446.9" cy="747.5" r="2.5" fill="#8b3cc0"/><circle cx="451.1" cy="740.5" r="2.5" fill="#962db4"/><circle cx="429.7" cy="744.5" r="2.5" fill="#b40ca4"/><circle cx="422.2" cy="742.0" r="2.5" fill="#e00086"/><circle cx="442.6" cy="750.7" r="2.5" fill="#962db4"/><circle cx="461.1" cy="743.1" r="2.5" fill="#7d49cc"/><circle cx="449.1" cy="737.9" r="2.5" fill="#0079f3"/><circle cx="461.2" cy="740.9" r="2.5" fill="#9135ba"/><circle cx="447.6" cy="738.9" r="2.5" fill="#a41daa"/><circle cx="432.2" cy="732.2" r="2.5" fill="#8b3cc0"/><circle cx="449.7" cy="746.5" r="2.5" fill="#cf0094"/><circle cx="437.9" cy="730.5" r="2.5" fill="#7d49cc"/><circle cx="440.6" cy="740.9" r="2.5" fill="#962db4"/><circle cx="440.5" cy="733.6" r="2.5" fill="#6d54d6"/><circle cx="433.0" cy="745.3" r="2.5" fill="#9b23ad"/><circle cx="441.0" cy="743.9" r="2.5" fill="#754fd1"/><circle cx="440.0" cy="747.5" r="2.5" fill="#754fd1"/><circle cx="434.2" cy="731.1" r="2.5" fill="#9135ba"/><circle cx="432.9" cy="747.4" r="2.5" fill="#ac16a7"/><circle cx="426.0" cy="742.5" r="2.5" fill="#9b23ad"/><circle cx="434.5" cy="735.4" r="2.5" fill="#a41daa"/><circle cx="437.0" cy="741.9" r="2.5" fill="#962db4"/><circle cx="451.7" cy="743.9" r="2.5" fill="#db008b"/><circle cx="461.9" cy="742.6" r="2.5" fill="#246cea"/><circle cx="436.3" cy="738.7" r="2.5" fill="#9b23ad"/><circle cx="441.0" cy="742.0" r="2.5" fill="#6d54d6"/><circle cx="436.5" cy="747.1" r="2.5" fill="#4b63e3"/><circle cx="445.2" cy="735.1" r="2.5" fill="#e9007c"/><circle cx="454.7" cy="743.9" r="2.5" fill="#bb00a0"/><circle cx="436.9" cy="737.2" r="2.5" fill="#cf0094"/><circle cx="429.7" cy="748.0" r="2.5" fill="#007cf5"/><circle cx="438.5" cy="735.8" r="2.5" fill="#7d49cc"/><circle cx="434.9" cy="737.3" r="2.5" fill="#d5008f"/><circle cx="432.2" cy="734.1" r="2.5" fill="#8b3cc0"/><circle cx="445.0" cy="747.6" r="2.5" fill="#9135ba"/><circle cx="425.4" cy="745.2" r="2.5" fill="#b40ca4"/><circle cx="438.7" cy="742.3" r="2.5" fill="#962db4"/><circle cx="438.2" cy="737.3" r="2.5" fill="#0080f7"/><circle cx="436.4" cy="730.2" r="2.5" fill="#585edf"/><circle cx="433.7" cy="740.9" r="2.5" fill="#ac16a7"/><circle cx="441.2" cy="731.9" r="2.5" fill="#0079f3"/><circle cx="432.5" cy="740.3" r="2.5" fill="#3b68e7"/><circle cx="452.4" cy="744.3" r="2.5" fill="#8443c6"/><circle cx="458.0" cy="743.9" r="2.5" fill="#635adb"/><circle cx="439.0" cy="749.2" r="2.5" fill="#c90098"/><circle cx="452.6" cy="740.0" r="2.5" fill="#e50081"/><circle cx="440.8" cy="752.1" r="2.5" fill="#585edf"/><circle cx="442.9" cy="735.3" r="2.5" fill="#b40ca4"/><circle cx="441.4" cy="737.4" r="2.5" fill="#a41daa"/><circle cx="450.5" cy="742.0" r="2.5" fill="#8443c6"/><circle cx="431.8" cy="752.2" r="2.5" fill="#8443c6"/><circle cx="436.9" cy="744.0" r="2.5" fill="#a41daa"/><circle cx="439.2" cy="747.7" r="2.5" fill="#d5008f"/><circle cx="434.2" cy="750.6" r="2.5" fill="#0070ee"/><circle cx="433.7" cy="747.2" r="2.5" fill="#0070ee"/><circle cx="431.0" cy="740.5" r="2.5" fill="#7d49cc"/><circle cx="439.4" cy="740.7" r="2.5" fill="#246cea"/><circle cx="440.1" cy="748.7" r="2.5" fill="#0070ee"/><circle cx="430.5" cy="745.8" r="2.5" fill="#b40ca4"/><circle cx="435.0" cy="742.5" r="2.5" fill="#c90098"/><circle cx="426.8" cy="743.8" r="2.5" fill="#cf0094"/><circle cx="438.3" cy="745.3" r="2.5" fill="#ff0057"/><circle cx="454.8" cy="742.6" r="2.5" fill="#8443c6"/><circle cx="437.3" cy="754.3" r="2.5" fill="#635adb"/><circle cx="440.9" cy="735.7" r="2.5" fill="#ac16a7"/><circle cx="446.6" cy="736.9" r="2.5" fill="#b40ca4"/><circle cx="437.2" cy="731.8" r="2.5" fill="#754fd1"/><circle cx="440.1" cy="738.8" r="2.5" fill="#7d49cc"/><circle cx="432.4" cy="739.2" r="2.5" fill="#6d54d6"/><circle cx="433.9" cy="738.8" r="2.5" fill="#f90067"/><circle cx="433.1" cy="750.8" r="2.5" fill="#246cea"/><circle cx="427.9" cy="743.5" r="2.5" fill="#9135ba"/><circle cx="442.1" cy="740.5" r="2.5" fill="#a41daa"/><circle cx="456.6" cy="742.4" r="2.5" fill="#754fd1"/><circle cx="443.0" cy="744.0" r="2.5" fill="#cf0094"/><circle cx="394.9" cy="742.3" r="2.5" fill="#0087fa"/><circle cx="408.6" cy="742.3" r="2.5" fill="#d5008f"/><circle cx="406.2" cy="742.3" r="2.5" fill="#0087fa"/><circle cx="412.0" cy="742.3" r="2.5" fill="#0087fa"/><circle cx="415.0" cy="742.3" r="2.5" fill="#d5008f"/><circle cx="419.3" cy="742.3" r="2.5" fill="#0084f9"/>
</g>
<line x1="281.2" x2="607.8" y1="779.7" y2="779.7" stroke="#333" stroke-width="1.2"/>
<g stroke="#333" stroke-width="1.1"><line x1="350.3" x2="350.3" y1="779.7" y2="784"/><line x1="440.3" x2="440.3" y1="779.7" y2="784"/><line x1="530.3" x2="530.3" y1="779.7" y2="784"/></g>
<g class="xt"><text x="350.1" y="799.2">−0.1</text><text x="440.1" y="799.2">0.0</text><text x="530.1" y="799.2">0.1</text></g>
<text x="444.2" y="819" font-size="16.1" fill="#000" text-anchor="middle">SHAP value (impact on model output)</text>
<g class="yl"><text x="251.9" y="49.10">ALT (SGPT)</text><text x="251.9" y="85.93">NLR</text><text x="251.9" y="122.76">SEX</text><text x="251.9" y="159.59">Albumin-QT&amp;Albumin-BCG(g/L)</text><text x="251.9" y="196.42">AGE_AT_VISIT</text><text x="251.9" y="233.25">EDUC_Years</text><text x="251.9" y="270.08">Serum Uric Acid(mg/dL)</text><text x="251.9" y="306.91">PNI</text><text x="251.9" y="343.74">ENRLRBD</text><text x="251.9" y="380.57">Serum Sodium</text><text x="251.9" y="417.40">heart rate</text><text x="251.9" y="454.23">Platelets</text><text x="251.9" y="491.06">Alkaline Phosphatase-QT</text><text x="251.9" y="528.39">Urea Nitrogen</text><text x="251.9" y="564.72">BMI</text><text x="251.9" y="601.55">systolic blood pressure (BP)</text><text x="251.9" y="638.38">Neutrophils</text><text x="251.9" y="675.21">SII</text><text x="251.9" y="712.04">LMR</text><text x="251.9" y="748.87">WBC</text></g>
<rect x="627.5" y="5.8" width="9.8" height="773.9" fill="url(#cb)"/>
<text x="642" y="10.7" font-size="13.5" fill="#000">High</text>
<text x="641.9" y="785.4" font-size="13.5" fill="#000">Low</text>
<text transform="translate(683.8 393) rotate(-90)" font-size="14.8" fill="#000" text-anchor="middle">Feature value</text>
</svg>
</body></html>
